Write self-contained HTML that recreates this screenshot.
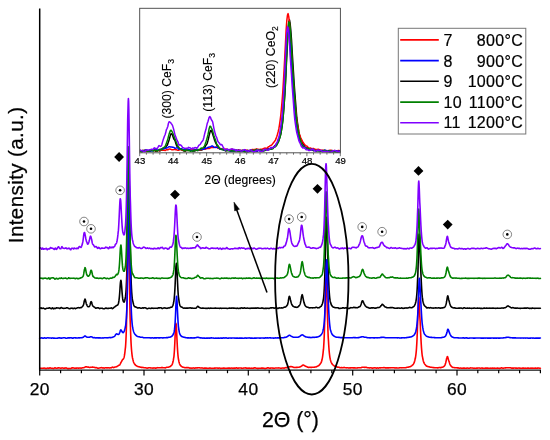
<!DOCTYPE html>
<html lang="en"><head><meta charset="utf-8"><title>XRD patterns</title>
<style>html,body{margin:0;padding:0;background:#fff}svg{display:block}text{font-family:"Liberation Sans",Arial,sans-serif;fill:#000}</style></head><body>
<svg width="550" height="440" viewBox="0 0 550 440">
<rect width="550" height="440" fill="#fff"/>
<g fill="none" stroke-width="1.6" stroke-linejoin="round" stroke-linecap="round">
<path stroke="#000000" d="M39.7 308.6L39.9 308.5L40.1 308.4L40.3 308.2L40.5 308.0L40.7 307.9L41.0 307.8L41.2 307.9L41.4 308.1L41.6 308.2L41.8 308.4L42.0 308.4L42.2 308.4L42.4 308.4L42.6 308.3L42.8 308.2L43.0 308.2L43.2 308.1L43.5 308.1L43.7 308.2L43.9 308.4L44.1 308.5L44.3 308.6L44.5 308.8L44.7 308.9L44.9 308.9L45.1 309.0L45.3 308.9L45.5 308.9L45.8 308.8L46.0 308.6L46.2 308.5L46.4 308.4L46.6 308.4L46.8 308.3L47.0 308.3L47.2 308.3L47.4 308.3L47.6 308.3L47.8 308.3L48.0 308.3L48.3 308.3L48.5 308.3L48.7 308.2L48.9 308.0L49.1 307.8L49.3 307.7L49.5 307.7L49.7 307.8L49.9 308.0L50.1 308.1L50.3 308.2L50.5 308.3L50.8 308.4L51.0 308.6L51.2 308.7L51.4 308.7L51.6 308.7L51.8 308.6L52.0 308.4L52.2 308.1L52.4 307.9L52.6 307.9L52.8 308.0L53.1 308.3L53.3 308.6L53.5 308.8L53.7 308.9L53.9 308.8L54.1 308.6L54.3 308.4L54.5 308.3L54.7 308.3L54.9 308.3L55.1 308.4L55.3 308.4L55.6 308.5L55.8 308.4L56.0 308.2L56.2 308.0L56.4 307.8L56.6 307.7L56.8 307.8L57.0 307.9L57.2 307.9L57.4 308.0L57.6 308.0L57.9 308.0L58.1 308.0L58.3 308.0L58.5 308.0L58.7 308.0L58.9 308.1L59.1 308.2L59.3 308.3L59.5 308.5L59.7 308.5L59.9 308.5L60.1 308.4L60.4 308.1L60.6 307.9L60.8 307.7L61.0 307.6L61.2 307.5L61.4 307.5L61.6 307.6L61.8 307.7L62.0 307.9L62.2 308.1L62.4 308.2L62.7 308.3L62.9 308.3L63.1 308.3L63.3 308.3L63.5 308.4L63.7 308.5L63.9 308.5L64.1 308.4L64.3 308.2L64.5 308.2L64.7 308.2L64.9 308.2L65.2 308.2L65.4 308.2L65.6 308.2L65.8 308.2L66.0 308.1L66.2 308.0L66.4 307.8L66.6 307.7L66.8 307.7L67.0 307.7L67.2 307.8L67.4 307.8L67.7 307.9L67.9 308.0L68.1 308.2L68.3 308.3L68.5 308.5L68.7 308.5L68.9 308.5L69.1 308.5L69.3 308.6L69.5 308.7L69.7 308.7L70.0 308.7L70.2 308.6L70.4 308.5L70.6 308.3L70.8 308.2L71.0 308.2L71.2 308.2L71.4 308.2L71.6 308.2L71.8 308.1L72.0 308.1L72.2 308.2L72.5 308.3L72.7 308.5L72.9 308.6L73.1 308.6L73.3 308.6L73.5 308.5L73.7 308.4L73.9 308.3L74.1 308.2L74.3 308.1L74.5 308.2L74.8 308.3L75.0 308.4L75.2 308.6L75.4 308.7L75.6 308.6L75.8 308.5L76.0 308.4L76.2 308.3L76.4 308.2L76.6 308.2L76.8 308.1L77.0 308.0L77.3 307.9L77.5 307.8L77.7 307.7L77.9 307.7L78.1 307.7L78.3 307.6L78.5 307.6L78.7 307.7L78.9 307.8L79.1 307.8L79.3 307.9L79.6 307.9L79.8 307.8L80.0 307.7L80.2 307.6L80.4 307.6L80.6 307.7L80.8 307.7L81.0 307.7L81.2 307.6L81.4 307.4L81.6 307.2L81.8 307.1L82.1 306.9L82.3 306.7L82.5 306.5L82.7 306.2L82.9 306.0L83.1 305.6L83.3 305.3L83.5 304.8L83.7 304.1L83.9 303.1L84.1 302.0L84.3 300.9L84.6 300.0L84.8 299.3L85.0 299.1L85.2 299.3L85.4 299.9L85.6 300.7L85.8 301.6L86.0 302.4L86.2 303.2L86.4 303.9L86.6 304.5L86.9 305.0L87.1 305.5L87.3 305.9L87.5 306.2L87.7 306.4L87.9 306.6L88.1 306.7L88.3 306.8L88.5 306.8L88.7 306.8L88.9 306.8L89.1 306.6L89.4 306.4L89.6 306.0L89.8 305.5L90.0 304.9L90.2 304.2L90.4 303.4L90.6 302.7L90.8 302.1L91.0 301.8L91.2 301.7L91.4 302.0L91.7 302.5L91.9 303.3L92.1 304.0L92.3 304.7L92.5 305.3L92.7 305.7L92.9 305.9L93.1 306.2L93.3 306.4L93.5 306.5L93.7 306.7L93.9 306.8L94.2 307.0L94.4 307.1L94.6 307.3L94.8 307.4L95.0 307.6L95.2 307.8L95.4 308.0L95.6 308.2L95.8 308.3L96.0 308.3L96.2 308.2L96.5 308.1L96.7 308.0L96.9 307.9L97.1 307.9L97.3 307.9L97.5 307.9L97.7 307.8L97.9 307.8L98.1 307.7L98.3 307.8L98.5 307.9L98.7 308.1L99.0 308.2L99.2 308.3L99.4 308.5L99.6 308.6L99.8 308.6L100.0 308.5L100.2 308.4L100.4 308.3L100.6 308.3L100.8 308.3L101.0 308.3L101.2 308.3L101.5 308.3L101.7 308.2L101.9 308.2L102.1 308.2L102.3 308.2L102.5 308.3L102.7 308.5L102.9 308.6L103.1 308.7L103.3 308.8L103.5 308.8L103.8 308.8L104.0 308.7L104.2 308.7L104.4 308.6L104.6 308.6L104.8 308.6L105.0 308.5L105.2 308.4L105.4 308.2L105.6 308.1L105.8 308.0L106.0 308.0L106.3 308.0L106.5 308.2L106.7 308.3L106.9 308.5L107.1 308.5L107.3 308.5L107.5 308.5L107.7 308.4L107.9 308.4L108.1 308.4L108.3 308.4L108.6 308.4L108.8 308.4L109.0 308.3L109.2 308.2L109.4 308.2L109.6 308.2L109.8 308.2L110.0 308.2L110.2 308.2L110.4 308.2L110.6 308.1L110.8 308.0L111.1 307.9L111.3 307.9L111.5 307.9L111.7 308.0L111.9 308.2L112.1 308.4L112.3 308.6L112.5 308.6L112.7 308.5L112.9 308.4L113.1 308.2L113.3 308.0L113.6 307.8L113.8 307.6L114.0 307.4L114.2 307.2L114.4 307.1L114.6 307.0L114.8 306.9L115.0 306.8L115.2 306.6L115.4 306.4L115.6 306.2L115.9 306.0L116.1 305.9L116.3 305.8L116.5 305.7L116.7 305.5L116.9 305.4L117.1 305.3L117.3 305.2L117.5 305.1L117.7 304.9L117.9 304.7L118.1 304.2L118.4 303.5L118.6 302.6L118.8 301.5L119.0 300.2L119.2 298.6L119.4 296.7L119.6 294.3L119.8 291.5L120.0 288.5L120.2 285.4L120.4 282.8L120.7 281.0L120.9 280.3L121.1 280.9L121.3 282.5L121.5 284.7L121.7 287.3L121.9 290.0L122.1 292.6L122.3 295.0L122.5 297.0L122.7 298.7L122.9 300.0L123.2 300.9L123.4 301.5L123.6 301.9L123.8 302.0L124.0 302.1L124.2 301.9L124.4 301.5L124.6 300.9L124.8 300.2L125.0 299.2L125.2 298.1L125.5 296.7L125.7 294.9L125.9 292.8L126.1 290.0L126.3 286.4L126.5 281.9L126.7 276.1L126.9 268.9L127.1 259.8L127.3 248.9L127.5 236.0L127.7 221.5L128.0 206.1L128.2 191.0L128.4 178.2L128.6 169.6L128.8 166.7L129.0 169.8L129.2 178.1L129.4 190.0L129.6 204.0L129.8 218.5L130.0 232.5L130.2 245.2L130.5 256.3L130.7 265.7L130.9 273.5L131.1 279.7L131.3 284.8L131.5 288.9L131.7 292.2L131.9 294.8L132.1 297.0L132.3 298.7L132.5 300.1L132.8 301.2L133.0 302.2L133.2 303.1L133.4 303.8L133.6 304.5L133.8 305.1L134.0 305.6L134.2 306.0L134.4 306.4L134.6 306.6L134.8 306.8L135.0 306.8L135.3 306.9L135.5 306.9L135.7 307.0L135.9 307.1L136.1 307.2L136.3 307.3L136.5 307.4L136.7 307.4L136.9 307.5L137.1 307.7L137.3 307.8L137.6 308.0L137.8 308.0L138.0 308.0L138.2 308.0L138.4 307.9L138.6 307.9L138.8 307.8L139.0 307.8L139.2 307.8L139.4 307.8L139.6 307.9L139.8 307.9L140.1 308.0L140.3 308.0L140.5 308.1L140.7 308.2L140.9 308.3L141.1 308.3L141.3 308.3L141.5 308.3L141.7 308.2L141.9 308.1L142.1 308.0L142.4 307.9L142.6 307.8L142.8 307.8L143.0 307.9L143.2 308.0L143.4 308.1L143.6 308.1L143.8 308.0L144.0 307.8L144.2 307.7L144.4 307.7L144.6 307.8L144.9 307.8L145.1 307.9L145.3 307.9L145.5 307.9L145.7 308.0L145.9 308.0L146.1 308.1L146.3 308.2L146.5 308.4L146.7 308.5L146.9 308.7L147.1 308.8L147.4 308.8L147.6 308.7L147.8 308.6L148.0 308.5L148.2 308.4L148.4 308.4L148.6 308.3L148.8 308.2L149.0 308.2L149.2 308.2L149.4 308.3L149.7 308.3L149.9 308.4L150.1 308.4L150.3 308.5L150.5 308.5L150.7 308.5L150.9 308.5L151.1 308.4L151.3 308.2L151.5 308.1L151.7 308.0L151.9 308.0L152.2 308.1L152.4 308.2L152.6 308.2L152.8 308.2L153.0 308.3L153.2 308.3L153.4 308.4L153.6 308.4L153.8 308.3L154.0 308.3L154.2 308.3L154.5 308.3L154.7 308.3L154.9 308.3L155.1 308.3L155.3 308.3L155.5 308.3L155.7 308.3L155.9 308.3L156.1 308.2L156.3 308.2L156.5 308.2L156.7 308.2L157.0 308.3L157.2 308.4L157.4 308.4L157.6 308.3L157.8 308.2L158.0 308.0L158.2 307.9L158.4 307.9L158.6 307.9L158.8 307.9L159.0 307.9L159.3 307.9L159.5 307.9L159.7 307.9L159.9 307.9L160.1 307.8L160.3 307.8L160.5 307.7L160.7 307.7L160.9 307.7L161.1 307.8L161.3 308.0L161.5 308.2L161.8 308.4L162.0 308.5L162.2 308.6L162.4 308.5L162.6 308.4L162.8 308.3L163.0 308.2L163.2 308.1L163.4 308.1L163.6 308.0L163.8 308.0L164.0 308.0L164.3 308.0L164.5 307.9L164.7 307.9L164.9 307.9L165.1 308.0L165.3 308.0L165.5 308.1L165.7 308.1L165.9 308.1L166.1 308.2L166.3 308.3L166.6 308.3L166.8 308.4L167.0 308.4L167.2 308.3L167.4 308.2L167.6 308.1L167.8 308.1L168.0 308.0L168.2 307.9L168.4 307.9L168.6 308.0L168.8 308.0L169.1 308.0L169.3 308.0L169.5 307.9L169.7 307.8L169.9 307.7L170.1 307.6L170.3 307.4L170.5 307.3L170.7 307.3L170.9 307.2L171.1 307.2L171.4 307.2L171.6 307.1L171.8 307.1L172.0 306.9L172.2 306.7L172.4 306.4L172.6 306.0L172.8 305.6L173.0 305.1L173.2 304.4L173.4 303.5L173.6 302.4L173.9 301.1L174.1 299.5L174.3 297.6L174.5 295.3L174.7 292.5L174.9 289.2L175.1 285.2L175.3 280.7L175.5 275.8L175.7 271.1L175.9 267.1L176.2 264.4L176.4 263.4L176.6 264.3L176.8 266.7L177.0 270.3L177.2 274.6L177.4 279.2L177.6 283.6L177.8 287.6L178.0 291.1L178.2 294.1L178.4 296.5L178.7 298.5L178.9 300.2L179.1 301.6L179.3 302.8L179.5 303.7L179.7 304.5L179.9 305.2L180.1 305.7L180.3 306.1L180.5 306.4L180.7 306.6L180.9 306.8L181.2 306.9L181.4 307.0L181.6 307.1L181.8 307.1L182.0 307.2L182.2 307.3L182.4 307.4L182.6 307.6L182.8 307.7L183.0 307.9L183.2 308.0L183.5 308.1L183.7 308.2L183.9 308.2L184.1 308.2L184.3 308.1L184.5 308.0L184.7 308.0L184.9 308.0L185.1 308.1L185.3 308.2L185.5 308.2L185.7 308.2L186.0 308.1L186.2 308.1L186.4 308.0L186.6 308.0L186.8 308.1L187.0 308.1L187.2 308.1L187.4 308.1L187.6 308.1L187.8 308.1L188.0 308.1L188.3 308.1L188.5 308.0L188.7 308.0L188.9 308.0L189.1 308.0L189.3 308.0L189.5 308.0L189.7 307.9L189.9 307.9L190.1 307.8L190.3 307.8L190.5 307.9L190.8 308.0L191.0 308.0L191.2 308.1L191.4 308.1L191.6 308.1L191.8 308.1L192.0 308.0L192.2 308.0L192.4 308.0L192.6 308.1L192.8 308.2L193.1 308.2L193.3 308.2L193.5 308.2L193.7 308.2L193.9 308.2L194.1 308.2L194.3 308.2L194.5 308.2L194.7 308.2L194.9 308.2L195.1 308.2L195.3 308.2L195.6 308.2L195.8 308.2L196.0 308.2L196.2 308.0L196.4 307.8L196.6 307.5L196.8 307.3L197.0 307.0L197.2 306.8L197.4 306.5L197.6 306.4L197.8 306.3L198.1 306.4L198.3 306.6L198.5 306.8L198.7 307.1L198.9 307.3L199.1 307.4L199.3 307.4L199.5 307.5L199.7 307.6L199.9 307.7L200.1 307.8L200.4 307.9L200.6 308.0L200.8 308.0L201.0 308.1L201.2 308.2L201.4 308.3L201.6 308.3L201.8 308.2L202.0 308.2L202.2 308.1L202.4 308.1L202.6 308.1L202.9 308.1L203.1 308.1L203.3 308.1L203.5 308.1L203.7 308.2L203.9 308.2L204.1 308.3L204.3 308.3L204.5 308.3L204.7 308.3L204.9 308.3L205.2 308.3L205.4 308.3L205.6 308.4L205.8 308.4L206.0 308.4L206.2 308.4L206.4 308.4L206.6 308.4L206.8 308.3L207.0 308.3L207.2 308.3L207.4 308.3L207.7 308.4L207.9 308.4L208.1 308.3L208.3 308.2L208.5 308.1L208.7 308.1L208.9 308.1L209.1 308.2L209.3 308.3L209.5 308.4L209.7 308.4L210.0 308.3L210.2 308.2L210.4 308.1L210.6 308.1L210.8 308.0L211.0 308.1L211.2 308.1L211.4 308.2L211.6 308.2L211.8 308.3L212.0 308.3L212.2 308.3L212.5 308.3L212.7 308.3L212.9 308.3L213.1 308.3L213.3 308.3L213.5 308.2L213.7 308.2L213.9 308.2L214.1 308.2L214.3 308.2L214.5 308.2L214.7 308.1L215.0 308.1L215.2 308.1L215.4 308.1L215.6 308.1L215.8 308.1L216.0 308.1L216.2 308.2L216.4 308.2L216.6 308.2L216.8 308.3L217.0 308.3L217.3 308.3L217.5 308.3L217.7 308.2L217.9 308.3L218.1 308.3L218.3 308.3L218.5 308.3L218.7 308.3L218.9 308.3L219.1 308.3L219.3 308.4L219.5 308.4L219.8 308.4L220.0 308.3L220.2 308.2L220.4 308.1L220.6 308.1L220.8 308.2L221.0 308.3L221.2 308.4L221.4 308.4L221.6 308.4L221.8 308.3L222.1 308.3L222.3 308.2L222.5 308.2L222.7 308.2L222.9 308.2L223.1 308.2L223.3 308.2L223.5 308.3L223.7 308.3L223.9 308.3L224.1 308.3L224.3 308.3L224.6 308.3L224.8 308.3L225.0 308.3L225.2 308.3L225.4 308.3L225.6 308.2L225.8 308.2L226.0 308.2L226.2 308.2L226.4 308.2L226.6 308.3L226.9 308.4L227.1 308.5L227.3 308.5L227.5 308.5L227.7 308.5L227.9 308.4L228.1 308.3L228.3 308.3L228.5 308.2L228.7 308.2L228.9 308.2L229.1 308.1L229.4 308.1L229.6 308.1L229.8 308.0L230.0 308.0L230.2 308.1L230.4 308.2L230.6 308.2L230.8 308.2L231.0 308.2L231.2 308.1L231.4 308.1L231.6 308.1L231.9 308.1L232.1 308.1L232.3 308.1L232.5 308.0L232.7 308.0L232.9 308.0L233.1 308.1L233.3 308.1L233.5 308.1L233.7 308.1L233.9 308.1L234.2 308.1L234.4 308.1L234.6 308.2L234.8 308.3L235.0 308.3L235.2 308.3L235.4 308.3L235.6 308.3L235.8 308.3L236.0 308.4L236.2 308.5L236.4 308.4L236.7 308.3L236.9 308.2L237.1 308.1L237.3 308.1L237.5 308.2L237.7 308.3L237.9 308.4L238.1 308.5L238.3 308.5L238.5 308.5L238.7 308.4L239.0 308.3L239.2 308.2L239.4 308.2L239.6 308.3L239.8 308.4L240.0 308.5L240.2 308.5L240.4 308.4L240.6 308.3L240.8 308.1L241.0 307.9L241.2 307.9L241.5 307.9L241.7 308.0L241.9 308.0L242.1 308.1L242.3 308.1L242.5 308.1L242.7 308.1L242.9 308.1L243.1 308.1L243.3 308.1L243.5 308.2L243.7 308.2L244.0 308.1L244.2 308.0L244.4 307.9L244.6 307.8L244.8 307.9L245.0 308.0L245.2 308.2L245.4 308.2L245.6 308.3L245.8 308.3L246.0 308.3L246.3 308.3L246.5 308.2L246.7 308.2L246.9 308.1L247.1 308.0L247.3 308.0L247.5 308.0L247.7 308.1L247.9 308.1L248.1 308.2L248.3 308.2L248.5 308.2L248.8 308.2L249.0 308.2L249.2 308.3L249.4 308.3L249.6 308.4L249.8 308.4L250.0 308.4L250.2 308.4L250.4 308.4L250.6 308.3L250.8 308.2L251.1 308.1L251.3 308.1L251.5 308.1L251.7 308.2L251.9 308.2L252.1 308.2L252.3 308.2L252.5 308.1L252.7 308.1L252.9 308.1L253.1 308.1L253.3 308.1L253.6 308.1L253.8 308.2L254.0 308.2L254.2 308.2L254.4 308.1L254.6 308.1L254.8 308.1L255.0 308.1L255.2 308.1L255.4 308.1L255.6 308.2L255.9 308.1L256.1 308.1L256.3 308.1L256.5 308.1L256.7 308.1L256.9 308.1L257.1 308.1L257.3 308.0L257.5 308.0L257.7 307.9L257.9 307.9L258.1 307.9L258.4 308.0L258.6 308.1L258.8 308.2L259.0 308.3L259.2 308.3L259.4 308.3L259.6 308.3L259.8 308.2L260.0 308.2L260.2 308.2L260.4 308.3L260.6 308.3L260.9 308.2L261.1 308.2L261.3 308.1L261.5 308.1L261.7 308.0L261.9 307.9L262.1 307.9L262.3 308.0L262.5 308.1L262.7 308.2L262.9 308.3L263.2 308.3L263.4 308.4L263.6 308.4L263.8 308.4L264.0 308.4L264.2 308.5L264.4 308.5L264.6 308.5L264.8 308.5L265.0 308.4L265.2 308.3L265.4 308.3L265.7 308.4L265.9 308.4L266.1 308.4L266.3 308.4L266.5 308.4L266.7 308.4L266.9 308.4L267.1 308.4L267.3 308.3L267.5 308.3L267.7 308.3L268.0 308.3L268.2 308.3L268.4 308.4L268.6 308.4L268.8 308.5L269.0 308.5L269.2 308.4L269.4 308.4L269.6 308.3L269.8 308.2L270.0 308.1L270.2 308.0L270.5 307.9L270.7 307.8L270.9 307.8L271.1 307.8L271.3 307.9L271.5 308.0L271.7 308.0L271.9 307.9L272.1 307.8L272.3 307.7L272.5 307.7L272.8 307.7L273.0 307.7L273.2 307.8L273.4 307.9L273.6 308.0L273.8 308.1L274.0 308.1L274.2 308.2L274.4 308.2L274.6 308.1L274.8 308.0L275.0 307.9L275.3 307.8L275.5 307.8L275.7 307.8L275.9 307.9L276.1 307.9L276.3 307.9L276.5 307.8L276.7 307.8L276.9 307.9L277.1 308.1L277.3 308.2L277.5 308.4L277.8 308.5L278.0 308.5L278.2 308.4L278.4 308.3L278.6 308.1L278.8 308.0L279.0 307.9L279.2 307.9L279.4 307.9L279.6 307.9L279.8 308.0L280.1 308.0L280.3 308.0L280.5 308.0L280.7 308.0L280.9 308.0L281.1 307.9L281.3 307.9L281.5 307.9L281.7 307.9L281.9 307.9L282.1 308.0L282.3 308.0L282.6 308.0L282.8 307.9L283.0 307.8L283.2 307.7L283.4 307.6L283.6 307.5L283.8 307.4L284.0 307.3L284.2 307.2L284.4 307.1L284.6 307.1L284.9 307.1L285.1 307.1L285.3 307.0L285.5 307.0L285.7 306.9L285.9 306.7L286.1 306.5L286.3 306.3L286.5 306.1L286.7 305.9L286.9 305.6L287.1 305.3L287.4 304.9L287.6 304.4L287.8 303.8L288.0 302.9L288.2 301.9L288.4 300.7L288.6 299.4L288.8 298.2L289.0 297.1L289.2 296.5L289.4 296.3L289.7 296.7L289.9 297.4L290.1 298.2L290.3 299.1L290.5 300.0L290.7 300.8L290.9 301.6L291.1 302.4L291.3 303.1L291.5 303.7L291.7 304.2L291.9 304.7L292.2 305.1L292.4 305.4L292.6 305.7L292.8 306.0L293.0 306.2L293.2 306.3L293.4 306.4L293.6 306.5L293.8 306.6L294.0 306.8L294.2 306.9L294.4 307.0L294.7 307.0L294.9 307.1L295.1 307.0L295.3 307.0L295.5 307.1L295.7 307.1L295.9 307.1L296.1 307.2L296.3 307.3L296.5 307.3L296.7 307.4L297.0 307.4L297.2 307.3L297.4 307.2L297.6 307.1L297.8 307.0L298.0 306.8L298.2 306.7L298.4 306.6L298.6 306.4L298.8 306.1L299.0 305.9L299.2 305.6L299.5 305.2L299.7 304.9L299.9 304.5L300.1 304.0L300.3 303.4L300.5 302.6L300.7 301.7L300.9 300.7L301.1 299.4L301.3 298.1L301.5 296.8L301.8 295.6L302.0 294.9L302.2 294.7L302.4 295.1L302.6 295.9L302.8 296.9L303.0 297.9L303.2 298.9L303.4 299.9L303.6 300.8L303.8 301.7L304.0 302.6L304.3 303.4L304.5 304.1L304.7 304.7L304.9 305.1L305.1 305.5L305.3 305.7L305.5 306.0L305.7 306.2L305.9 306.4L306.1 306.6L306.3 306.8L306.6 306.9L306.8 307.0L307.0 307.1L307.2 307.1L307.4 307.2L307.6 307.2L307.8 307.3L308.0 307.3L308.2 307.4L308.4 307.5L308.6 307.6L308.8 307.7L309.1 307.7L309.3 307.8L309.5 307.9L309.7 307.9L309.9 307.9L310.1 307.9L310.3 307.8L310.5 307.8L310.7 307.8L310.9 307.8L311.1 307.8L311.3 307.8L311.6 307.7L311.8 307.7L312.0 307.8L312.2 307.8L312.4 307.9L312.6 307.9L312.8 307.9L313.0 307.8L313.2 307.8L313.4 307.8L313.6 307.8L313.9 307.8L314.1 307.8L314.3 307.7L314.5 307.7L314.7 307.7L314.9 307.7L315.1 307.7L315.3 307.6L315.5 307.5L315.7 307.4L315.9 307.4L316.1 307.3L316.4 307.3L316.6 307.3L316.8 307.4L317.0 307.5L317.2 307.6L317.4 307.7L317.6 307.8L317.8 307.9L318.0 307.9L318.2 307.8L318.4 307.8L318.7 307.8L318.9 307.7L319.1 307.6L319.3 307.6L319.5 307.4L319.7 307.3L319.9 307.2L320.1 307.0L320.3 306.8L320.5 306.6L320.7 306.5L320.9 306.3L321.2 306.2L321.4 305.9L321.6 305.6L321.8 305.1L322.0 304.7L322.2 304.2L322.4 303.7L322.6 303.0L322.8 302.3L323.0 301.3L323.2 300.1L323.5 298.6L323.7 296.8L323.9 294.5L324.1 291.8L324.3 288.4L324.5 284.2L324.7 279.0L324.9 272.7L325.1 265.2L325.3 256.5L325.5 246.9L325.7 237.0L326.0 227.9L326.2 220.9L326.4 217.3L326.6 217.5L326.8 221.2L327.0 227.2L327.2 234.5L327.4 242.1L327.6 249.7L327.8 257.0L328.0 264.0L328.2 270.6L328.5 276.6L328.7 281.8L328.9 286.3L329.1 290.0L329.3 293.1L329.5 295.6L329.7 297.5L329.9 299.1L330.1 300.4L330.3 301.5L330.5 302.4L330.8 303.2L331.0 303.9L331.2 304.4L331.4 304.9L331.6 305.3L331.8 305.6L332.0 305.9L332.2 306.1L332.4 306.4L332.6 306.6L332.8 306.8L333.0 307.0L333.3 307.1L333.5 307.2L333.7 307.2L333.9 307.3L334.1 307.4L334.3 307.4L334.5 307.5L334.7 307.5L334.9 307.6L335.1 307.6L335.3 307.7L335.6 307.7L335.8 307.7L336.0 307.7L336.2 307.7L336.4 307.7L336.6 307.7L336.8 307.7L337.0 307.8L337.2 307.8L337.4 307.8L337.6 307.7L337.8 307.8L338.1 307.8L338.3 307.9L338.5 308.1L338.7 308.2L338.9 308.4L339.1 308.4L339.3 308.5L339.5 308.5L339.7 308.4L339.9 308.4L340.1 308.4L340.4 308.4L340.6 308.3L340.8 308.3L341.0 308.3L341.2 308.3L341.4 308.3L341.6 308.2L341.8 308.2L342.0 308.1L342.2 308.0L342.4 307.9L342.6 307.9L342.9 307.8L343.1 307.8L343.3 307.8L343.5 307.9L343.7 307.9L343.9 308.0L344.1 308.0L344.3 308.1L344.5 308.1L344.7 308.1L344.9 308.0L345.1 308.0L345.4 307.9L345.6 307.9L345.8 307.9L346.0 307.9L346.2 307.9L346.4 307.9L346.6 307.9L346.8 307.9L347.0 308.1L347.2 308.2L347.4 308.4L347.7 308.5L347.9 308.5L348.1 308.5L348.3 308.5L348.5 308.4L348.7 308.4L348.9 308.4L349.1 308.4L349.3 308.4L349.5 308.4L349.7 308.3L349.9 308.1L350.2 308.0L350.4 307.8L350.6 307.7L350.8 307.6L351.0 307.6L351.2 307.7L351.4 307.7L351.6 307.8L351.8 307.8L352.0 307.8L352.2 307.8L352.5 307.8L352.7 307.8L352.9 307.8L353.1 307.7L353.3 307.5L353.5 307.4L353.7 307.3L353.9 307.3L354.1 307.3L354.3 307.4L354.5 307.5L354.7 307.6L355.0 307.6L355.2 307.6L355.4 307.6L355.6 307.6L355.8 307.6L356.0 307.6L356.2 307.6L356.4 307.7L356.6 307.7L356.8 307.7L357.0 307.7L357.3 307.7L357.5 307.7L357.7 307.6L357.9 307.5L358.1 307.4L358.3 307.3L358.5 307.2L358.7 307.1L358.9 306.9L359.1 306.8L359.3 306.7L359.5 306.6L359.8 306.6L360.0 306.4L360.2 306.2L360.4 305.9L360.6 305.5L360.8 305.1L361.0 304.5L361.2 303.9L361.4 303.2L361.6 302.5L361.8 301.9L362.0 301.3L362.3 300.9L362.5 300.7L362.7 300.8L362.9 301.1L363.1 301.5L363.3 301.9L363.5 302.4L363.7 302.8L363.9 303.3L364.1 303.7L364.3 304.2L364.6 304.6L364.8 305.0L365.0 305.4L365.2 305.7L365.4 305.9L365.6 306.1L365.8 306.3L366.0 306.5L366.2 306.7L366.4 306.9L366.6 307.0L366.8 307.2L367.1 307.3L367.3 307.4L367.5 307.4L367.7 307.4L367.9 307.4L368.1 307.5L368.3 307.6L368.5 307.8L368.7 307.9L368.9 308.0L369.1 308.0L369.4 308.1L369.6 308.1L369.8 308.1L370.0 308.2L370.2 308.2L370.4 308.1L370.6 308.1L370.8 308.0L371.0 307.9L371.2 307.9L371.4 307.9L371.6 307.9L371.9 307.9L372.1 307.9L372.3 307.9L372.5 307.9L372.7 307.9L372.9 307.9L373.1 307.8L373.3 307.8L373.5 307.8L373.7 307.9L373.9 308.0L374.1 308.0L374.4 308.1L374.6 308.1L374.8 308.1L375.0 308.1L375.2 308.1L375.4 308.1L375.6 308.1L375.8 308.1L376.0 308.1L376.2 308.0L376.4 308.0L376.7 307.9L376.9 307.8L377.1 307.7L377.3 307.6L377.5 307.6L377.7 307.5L377.9 307.5L378.1 307.5L378.3 307.5L378.5 307.5L378.7 307.6L378.9 307.5L379.2 307.5L379.4 307.4L379.6 307.2L379.8 307.1L380.0 306.9L380.2 306.7L380.4 306.5L380.6 306.3L380.8 306.1L381.0 305.8L381.2 305.5L381.5 305.2L381.7 304.9L381.9 304.6L382.1 304.4L382.3 304.3L382.5 304.4L382.7 304.5L382.9 304.7L383.1 304.9L383.3 305.1L383.5 305.3L383.7 305.6L384.0 305.8L384.2 306.1L384.4 306.3L384.6 306.5L384.8 306.7L385.0 306.9L385.2 307.0L385.4 307.0L385.6 307.1L385.8 307.1L386.0 307.2L386.3 307.3L386.5 307.4L386.7 307.6L386.9 307.7L387.1 307.7L387.3 307.8L387.5 307.8L387.7 307.8L387.9 307.8L388.1 307.8L388.3 307.8L388.5 307.7L388.8 307.7L389.0 307.8L389.2 307.7L389.4 307.7L389.6 307.7L389.8 307.6L390.0 307.6L390.2 307.5L390.4 307.6L390.6 307.6L390.8 307.6L391.0 307.6L391.3 307.6L391.5 307.6L391.7 307.6L391.9 307.5L392.1 307.5L392.3 307.5L392.5 307.6L392.7 307.6L392.9 307.7L393.1 307.8L393.3 307.8L393.6 307.9L393.8 307.9L394.0 308.0L394.2 308.0L394.4 308.1L394.6 308.1L394.8 308.2L395.0 308.2L395.2 308.2L395.4 308.3L395.6 308.3L395.8 308.3L396.1 308.3L396.3 308.2L396.5 308.2L396.7 308.1L396.9 308.1L397.1 308.1L397.3 308.1L397.5 308.1L397.7 308.1L397.9 308.1L398.1 308.1L398.4 308.0L398.6 308.0L398.8 308.0L399.0 308.0L399.2 308.0L399.4 308.1L399.6 308.2L399.8 308.2L400.0 308.2L400.2 308.2L400.4 308.2L400.6 308.2L400.9 308.2L401.1 308.1L401.3 308.0L401.5 307.9L401.7 307.9L401.9 307.9L402.1 308.0L402.3 308.1L402.5 308.2L402.7 308.3L402.9 308.4L403.2 308.4L403.4 308.4L403.6 308.3L403.8 308.3L404.0 308.2L404.2 308.1L404.4 308.1L404.6 308.1L404.8 308.1L405.0 308.1L405.2 308.0L405.4 308.0L405.7 308.0L405.9 307.9L406.1 307.9L406.3 307.9L406.5 308.0L406.7 308.0L406.9 308.1L407.1 308.1L407.3 308.0L407.5 308.0L407.7 308.0L407.9 307.9L408.2 307.9L408.4 307.8L408.6 307.8L408.8 307.7L409.0 307.6L409.2 307.5L409.4 307.4L409.6 307.4L409.8 307.4L410.0 307.4L410.2 307.5L410.5 307.6L410.7 307.6L410.9 307.7L411.1 307.7L411.3 307.8L411.5 307.8L411.7 307.7L411.9 307.7L412.1 307.6L412.3 307.4L412.5 307.3L412.7 307.2L413.0 307.1L413.2 306.9L413.4 306.8L413.6 306.6L413.8 306.5L414.0 306.3L414.2 306.0L414.4 305.7L414.6 305.3L414.8 304.9L415.0 304.4L415.3 303.8L415.5 303.1L415.7 302.3L415.9 301.4L416.1 300.3L416.3 299.1L416.5 297.5L416.7 295.6L416.9 293.2L417.1 290.2L417.3 286.5L417.5 281.9L417.8 276.3L418.0 269.6L418.2 262.0L418.4 253.9L418.6 246.0L418.8 239.4L419.0 235.1L419.2 234.0L419.4 236.0L419.6 240.4L419.8 246.1L420.1 252.1L420.3 257.8L420.5 263.0L420.7 268.0L420.9 272.8L421.1 277.4L421.3 281.8L421.5 285.8L421.7 289.3L421.9 292.4L422.1 295.1L422.3 297.2L422.6 299.0L422.8 300.4L423.0 301.5L423.2 302.4L423.4 303.2L423.6 303.8L423.8 304.4L424.0 304.8L424.2 305.2L424.4 305.5L424.6 305.8L424.8 306.0L425.1 306.2L425.3 306.4L425.5 306.5L425.7 306.7L425.9 306.9L426.1 307.1L426.3 307.4L426.5 307.7L426.7 307.9L426.9 308.0L427.1 308.0L427.4 307.9L427.6 307.8L427.8 307.7L428.0 307.6L428.2 307.6L428.4 307.7L428.6 307.7L428.8 307.8L429.0 307.9L429.2 307.9L429.4 308.0L429.6 308.0L429.9 307.9L430.1 307.8L430.3 307.7L430.5 307.6L430.7 307.6L430.9 307.7L431.1 307.8L431.3 307.9L431.5 308.0L431.7 308.0L431.9 308.0L432.2 308.0L432.4 308.0L432.6 308.0L432.8 308.1L433.0 308.1L433.2 308.1L433.4 308.1L433.6 308.1L433.8 308.0L434.0 308.0L434.2 308.0L434.4 308.0L434.7 308.0L434.9 308.0L435.1 307.9L435.3 307.9L435.5 307.9L435.7 307.9L435.9 307.9L436.1 307.9L436.3 307.9L436.5 308.0L436.7 308.0L437.0 308.0L437.2 308.0L437.4 308.0L437.6 308.0L437.8 308.0L438.0 308.0L438.2 307.9L438.4 307.8L438.6 307.8L438.8 307.8L439.0 307.8L439.2 307.9L439.5 308.0L439.7 308.0L439.9 308.1L440.1 308.1L440.3 308.1L440.5 308.1L440.7 308.1L440.9 308.1L441.1 308.1L441.3 308.0L441.5 308.0L441.7 307.9L442.0 307.9L442.2 307.9L442.4 307.9L442.6 307.9L442.8 307.9L443.0 307.8L443.2 307.7L443.4 307.6L443.6 307.6L443.8 307.6L444.0 307.6L444.3 307.5L444.5 307.4L444.7 307.2L444.9 306.9L445.1 306.6L445.3 306.2L445.5 305.8L445.7 305.3L445.9 304.7L446.1 303.9L446.3 303.0L446.5 301.8L446.8 300.6L447.0 299.2L447.2 297.9L447.4 296.8L447.6 296.1L447.8 295.9L448.0 296.3L448.2 297.1L448.4 298.1L448.6 299.1L448.8 300.0L449.1 300.9L449.3 301.7L449.5 302.5L449.7 303.2L449.9 303.9L450.1 304.5L450.3 305.1L450.5 305.6L450.7 306.0L450.9 306.4L451.1 306.6L451.3 306.8L451.6 307.0L451.8 307.2L452.0 307.3L452.2 307.5L452.4 307.5L452.6 307.6L452.8 307.7L453.0 307.7L453.2 307.8L453.4 307.9L453.6 307.9L453.9 308.0L454.1 308.0L454.3 307.9L454.5 307.9L454.7 307.9L454.9 307.9L455.1 307.9L455.3 308.0L455.5 308.1L455.7 308.2L455.9 308.2L456.1 308.2L456.4 308.2L456.6 308.2L456.8 308.2L457.0 308.2L457.2 308.3L457.4 308.3L457.6 308.2L457.8 308.2L458.0 308.2L458.2 308.2L458.4 308.1L458.6 308.1L458.9 308.1L459.1 308.1L459.3 308.1L459.5 308.1L459.7 308.1L459.9 308.1L460.1 308.1L460.3 308.1L460.5 308.0L460.7 308.0L460.9 308.0L461.2 308.0L461.4 308.1L461.6 308.1L461.8 308.2L462.0 308.3L462.2 308.4L462.4 308.5L462.6 308.5L462.8 308.5L463.0 308.4L463.2 308.2L463.4 308.1L463.7 307.9L463.9 307.8L464.1 307.8L464.3 307.8L464.5 307.9L464.7 307.9L464.9 308.0L465.1 308.1L465.3 308.1L465.5 308.2L465.7 308.2L466.0 308.3L466.2 308.3L466.4 308.3L466.6 308.2L466.8 308.2L467.0 308.1L467.2 308.1L467.4 308.1L467.6 308.1L467.8 308.1L468.0 308.2L468.2 308.2L468.5 308.2L468.7 308.2L468.9 308.1L469.1 308.1L469.3 308.1L469.5 308.1L469.7 308.1L469.9 308.2L470.1 308.2L470.3 308.2L470.5 308.2L470.8 308.2L471.0 308.3L471.2 308.4L471.4 308.4L471.6 308.4L471.8 308.4L472.0 308.4L472.2 308.3L472.4 308.3L472.6 308.3L472.8 308.3L473.0 308.3L473.3 308.2L473.5 308.1L473.7 308.1L473.9 308.0L474.1 308.0L474.3 308.0L474.5 308.0L474.7 308.1L474.9 308.2L475.1 308.2L475.3 308.2L475.5 308.2L475.8 308.2L476.0 308.2L476.2 308.2L476.4 308.2L476.6 308.2L476.8 308.2L477.0 308.2L477.2 308.1L477.4 308.1L477.6 308.1L477.8 308.1L478.1 308.2L478.3 308.3L478.5 308.3L478.7 308.2L478.9 308.2L479.1 308.2L479.3 308.1L479.5 308.2L479.7 308.2L479.9 308.3L480.1 308.4L480.3 308.4L480.6 308.4L480.8 308.4L481.0 308.4L481.2 308.3L481.4 308.3L481.6 308.4L481.8 308.4L482.0 308.5L482.2 308.5L482.4 308.5L482.6 308.5L482.9 308.4L483.1 308.4L483.3 308.3L483.5 308.2L483.7 308.1L483.9 308.1L484.1 308.1L484.3 308.1L484.5 308.1L484.7 308.1L484.9 308.1L485.1 308.2L485.4 308.2L485.6 308.2L485.8 308.2L486.0 308.2L486.2 308.1L486.4 308.1L486.6 308.1L486.8 308.0L487.0 308.1L487.2 308.1L487.4 308.2L487.7 308.2L487.9 308.3L488.1 308.3L488.3 308.3L488.5 308.2L488.7 308.2L488.9 308.1L489.1 308.1L489.3 308.1L489.5 308.1L489.7 308.2L489.9 308.2L490.2 308.2L490.4 308.2L490.6 308.2L490.8 308.1L491.0 308.1L491.2 308.1L491.4 308.2L491.6 308.2L491.8 308.2L492.0 308.2L492.2 308.2L492.4 308.2L492.7 308.1L492.9 308.1L493.1 308.1L493.3 308.1L493.5 308.1L493.7 308.2L493.9 308.3L494.1 308.3L494.3 308.3L494.5 308.3L494.7 308.2L495.0 308.2L495.2 308.3L495.4 308.3L495.6 308.4L495.8 308.4L496.0 308.4L496.2 308.3L496.4 308.3L496.6 308.3L496.8 308.2L497.0 308.2L497.2 308.1L497.5 308.1L497.7 308.2L497.9 308.2L498.1 308.2L498.3 308.2L498.5 308.2L498.7 308.2L498.9 308.2L499.1 308.2L499.3 308.3L499.5 308.3L499.8 308.2L500.0 308.2L500.2 308.2L500.4 308.2L500.6 308.2L500.8 308.2L501.0 308.1L501.2 308.1L501.4 308.0L501.6 308.0L501.8 308.0L502.0 308.0L502.3 308.0L502.5 308.0L502.7 308.0L502.9 308.1L503.1 308.1L503.3 308.1L503.5 308.1L503.7 308.0L503.9 308.0L504.1 307.9L504.3 307.8L504.5 307.8L504.8 307.8L505.0 307.7L505.2 307.7L505.4 307.6L505.6 307.5L505.8 307.4L506.0 307.2L506.2 307.1L506.4 306.9L506.6 306.7L506.8 306.5L507.1 306.3L507.3 306.2L507.5 306.1L507.7 306.0L507.9 305.9L508.1 305.9L508.3 306.0L508.5 306.1L508.7 306.2L508.9 306.4L509.1 306.5L509.3 306.7L509.6 306.8L509.8 306.9L510.0 307.0L510.2 307.1L510.4 307.2L510.6 307.4L510.8 307.5L511.0 307.7L511.2 307.8L511.4 307.9L511.6 307.9L511.9 307.9L512.1 307.8L512.3 307.7L512.5 307.6L512.7 307.6L512.9 307.6L513.1 307.6L513.3 307.7L513.5 307.8L513.7 307.9L513.9 308.0L514.1 308.0L514.4 308.0L514.6 308.1L514.8 308.1L515.0 308.1L515.2 308.1L515.4 308.1L515.6 308.1L515.8 308.1L516.0 308.2L516.2 308.2L516.4 308.1L516.7 308.1L516.9 308.1L517.1 308.0L517.3 308.0L517.5 308.0L517.7 308.1L517.9 308.2L518.1 308.2L518.3 308.3L518.5 308.3L518.7 308.3L518.9 308.3L519.2 308.3L519.4 308.3L519.6 308.3L519.8 308.4L520.0 308.4L520.2 308.4L520.4 308.4L520.6 308.4L520.8 308.4L521.0 308.3L521.2 308.3L521.4 308.2L521.7 308.2L521.9 308.2L522.1 308.3L522.3 308.3L522.5 308.3L522.7 308.3L522.9 308.3L523.1 308.3L523.3 308.2L523.5 308.2L523.7 308.2L524.0 308.1L524.2 308.1L524.4 308.1L524.6 308.0L524.8 308.0L525.0 308.1L525.2 308.1L525.4 308.1L525.6 308.1L525.8 308.1L526.0 308.1L526.2 308.1L526.5 308.1L526.7 308.1L526.9 308.1L527.1 308.0L527.3 308.0L527.5 308.0L527.7 307.9L527.9 308.0L528.1 308.0L528.3 308.1L528.5 308.2L528.8 308.3L529.0 308.3L529.2 308.4L529.4 308.4L529.6 308.4L529.8 308.4L530.0 308.4L530.2 308.3L530.4 308.3L530.6 308.3L530.8 308.4L531.0 308.4L531.3 308.4L531.5 308.4L531.7 308.4L531.9 308.3L532.1 308.1L532.3 308.1L532.5 308.1L532.7 308.1L532.9 308.1L533.1 308.2L533.3 308.2L533.6 308.2L533.8 308.2L534.0 308.3L534.2 308.3L534.4 308.4L534.6 308.4L534.8 308.4L535.0 308.4L535.2 308.4L535.4 308.3L535.6 308.3L535.8 308.2L536.1 308.2L536.3 308.2L536.5 308.2L536.7 308.2L536.9 308.2L537.1 308.2L537.3 308.2L537.5 308.2L537.7 308.2L537.9 308.3L538.1 308.3L538.3 308.3L538.6 308.3L538.8 308.3L539.0 308.4L539.2 308.3L539.4 308.3L539.6 308.2L539.8 308.2L540.0 308.2L540.2 308.2L540.4 308.2"/>
<path stroke="#ff0000" d="M39.7 368.0L39.9 368.1L40.1 368.1L40.3 368.2L40.5 368.3L40.7 368.3L41.0 368.3L41.2 368.3L41.4 368.2L41.6 368.2L41.8 368.2L42.0 368.2L42.2 368.3L42.4 368.3L42.6 368.3L42.8 368.3L43.0 368.3L43.2 368.2L43.5 368.2L43.7 368.1L43.9 368.0L44.1 368.0L44.3 368.0L44.5 368.1L44.7 368.3L44.9 368.4L45.1 368.5L45.3 368.5L45.5 368.4L45.8 368.4L46.0 368.4L46.2 368.4L46.4 368.5L46.6 368.5L46.8 368.5L47.0 368.4L47.2 368.2L47.4 368.1L47.6 368.0L47.8 368.0L48.0 368.0L48.3 368.2L48.5 368.3L48.7 368.4L48.9 368.4L49.1 368.3L49.3 368.2L49.5 368.0L49.7 367.9L49.9 367.9L50.1 367.9L50.3 367.9L50.5 368.0L50.8 368.1L51.0 368.2L51.2 368.3L51.4 368.3L51.6 368.2L51.8 368.2L52.0 368.2L52.2 368.3L52.4 368.3L52.6 368.3L52.8 368.3L53.1 368.4L53.3 368.5L53.5 368.5L53.7 368.5L53.9 368.4L54.1 368.3L54.3 368.1L54.5 368.0L54.7 367.9L54.9 367.8L55.1 367.8L55.3 367.9L55.6 368.0L55.8 368.1L56.0 368.2L56.2 368.2L56.4 368.2L56.6 368.2L56.8 368.2L57.0 368.2L57.2 368.2L57.4 368.1L57.6 368.0L57.9 367.9L58.1 367.8L58.3 367.8L58.5 367.9L58.7 367.9L58.9 368.0L59.1 368.0L59.3 368.0L59.5 368.0L59.7 367.9L59.9 368.0L60.1 368.1L60.4 368.2L60.6 368.2L60.8 368.3L61.0 368.2L61.2 368.2L61.4 368.1L61.6 368.0L61.8 368.0L62.0 367.9L62.2 367.9L62.4 368.0L62.7 368.0L62.9 368.0L63.1 368.1L63.3 368.1L63.5 368.2L63.7 368.2L63.9 368.2L64.1 368.2L64.3 368.1L64.5 368.1L64.7 368.1L64.9 368.1L65.2 368.1L65.4 368.0L65.6 368.0L65.8 367.9L66.0 367.9L66.2 367.9L66.4 368.0L66.6 368.1L66.8 368.2L67.0 368.3L67.2 368.4L67.4 368.5L67.7 368.6L67.9 368.6L68.1 368.6L68.3 368.6L68.5 368.6L68.7 368.5L68.9 368.4L69.1 368.4L69.3 368.5L69.5 368.5L69.7 368.5L70.0 368.5L70.2 368.5L70.4 368.5L70.6 368.5L70.8 368.5L71.0 368.4L71.2 368.3L71.4 368.2L71.6 368.0L71.8 367.9L72.0 367.9L72.2 367.9L72.5 367.9L72.7 367.9L72.9 367.9L73.1 367.9L73.3 367.9L73.5 368.0L73.7 368.0L73.9 368.0L74.1 368.1L74.3 368.1L74.5 368.2L74.8 368.3L75.0 368.3L75.2 368.3L75.4 368.2L75.6 368.1L75.8 368.1L76.0 368.1L76.2 368.0L76.4 368.0L76.6 368.1L76.8 368.1L77.0 368.0L77.3 368.0L77.5 368.0L77.7 368.0L77.9 368.1L78.1 368.1L78.3 368.2L78.5 368.2L78.7 368.1L78.9 368.0L79.1 368.0L79.3 368.0L79.6 368.0L79.8 368.1L80.0 368.1L80.2 368.1L80.4 368.1L80.6 368.0L80.8 368.0L81.0 368.0L81.2 368.0L81.4 368.1L81.6 368.1L81.8 368.1L82.1 368.0L82.3 367.9L82.5 367.8L82.7 367.8L82.9 367.7L83.1 367.8L83.3 367.8L83.5 367.7L83.7 367.7L83.9 367.6L84.1 367.5L84.3 367.5L84.6 367.4L84.8 367.3L85.0 367.2L85.2 367.0L85.4 366.9L85.6 366.8L85.8 366.7L86.0 366.8L86.2 366.8L86.4 366.9L86.6 366.9L86.9 366.9L87.1 367.0L87.3 367.0L87.5 367.0L87.7 367.1L87.9 367.1L88.1 367.1L88.3 367.1L88.5 367.1L88.7 367.1L88.9 367.2L89.1 367.3L89.4 367.4L89.6 367.5L89.8 367.5L90.0 367.4L90.2 367.4L90.4 367.3L90.6 367.3L90.8 367.3L91.0 367.3L91.2 367.3L91.4 367.3L91.7 367.2L91.9 367.2L92.1 367.1L92.3 367.1L92.5 367.0L92.7 367.0L92.9 367.1L93.1 367.2L93.3 367.2L93.5 367.2L93.7 367.2L93.9 367.3L94.2 367.3L94.4 367.4L94.6 367.5L94.8 367.5L95.0 367.6L95.2 367.6L95.4 367.7L95.6 367.7L95.8 367.6L96.0 367.6L96.2 367.6L96.5 367.7L96.7 367.7L96.9 367.8L97.1 367.9L97.3 368.0L97.5 368.1L97.7 368.2L97.9 368.3L98.1 368.3L98.3 368.3L98.5 368.3L98.7 368.2L99.0 368.1L99.2 368.0L99.4 368.0L99.6 368.0L99.8 368.0L100.0 367.9L100.2 367.9L100.4 367.8L100.6 367.8L100.8 367.8L101.0 367.7L101.2 367.7L101.5 367.6L101.7 367.7L101.9 367.7L102.1 367.8L102.3 367.9L102.5 368.0L102.7 368.0L102.9 367.9L103.1 367.9L103.3 367.9L103.5 367.9L103.8 368.0L104.0 368.1L104.2 368.1L104.4 368.1L104.6 368.0L104.8 368.0L105.0 367.9L105.2 367.8L105.4 367.8L105.6 367.8L105.8 367.8L106.0 367.8L106.3 367.8L106.5 367.9L106.7 367.9L106.9 367.9L107.1 368.0L107.3 367.9L107.5 367.9L107.7 367.8L107.9 367.8L108.1 367.8L108.3 367.8L108.6 367.8L108.8 367.9L109.0 367.9L109.2 368.0L109.4 368.0L109.6 368.0L109.8 367.9L110.0 367.9L110.2 367.8L110.4 367.8L110.6 367.8L110.8 367.8L111.1 367.9L111.3 367.8L111.5 367.8L111.7 367.6L111.9 367.4L112.1 367.3L112.3 367.2L112.5 367.1L112.7 367.1L112.9 367.2L113.1 367.3L113.3 367.5L113.6 367.6L113.8 367.6L114.0 367.5L114.2 367.4L114.4 367.3L114.6 367.2L114.8 367.1L115.0 367.0L115.2 367.0L115.4 367.0L115.6 367.0L115.9 366.9L116.1 366.9L116.3 366.8L116.5 366.8L116.7 366.7L116.9 366.6L117.1 366.4L117.3 366.3L117.5 366.1L117.7 366.0L117.9 365.9L118.1 365.8L118.4 365.6L118.6 365.4L118.8 365.3L119.0 365.2L119.2 365.1L119.4 365.1L119.6 365.0L119.8 364.7L120.0 364.4L120.2 364.0L120.4 363.5L120.7 363.1L120.9 362.6L121.1 362.2L121.3 361.9L121.5 361.5L121.7 361.2L121.9 360.8L122.1 360.4L122.3 360.1L122.5 359.8L122.7 359.5L122.9 359.3L123.2 359.1L123.4 358.9L123.6 358.5L123.8 358.1L124.0 357.5L124.2 356.7L124.4 355.7L124.6 354.5L124.8 353.1L125.0 351.5L125.2 349.5L125.5 347.1L125.7 344.2L125.9 340.6L126.1 336.2L126.3 330.7L126.5 324.0L126.7 315.6L126.9 305.3L127.1 292.8L127.3 277.9L127.5 261.2L127.7 243.9L128.0 228.5L128.2 218.0L128.4 214.7L128.6 219.0L128.8 229.2L129.0 243.2L129.2 258.7L129.4 274.2L129.6 288.7L129.8 301.4L130.0 312.3L130.2 321.3L130.5 328.7L130.7 334.7L130.9 339.6L131.1 343.6L131.3 346.8L131.5 349.5L131.7 351.7L131.9 353.6L132.1 355.3L132.3 356.6L132.5 357.9L132.8 358.9L133.0 359.9L133.2 360.7L133.4 361.5L133.6 362.1L133.8 362.6L134.0 363.0L134.2 363.4L134.4 363.7L134.6 364.0L134.8 364.3L135.0 364.6L135.3 364.9L135.5 365.1L135.7 365.3L135.9 365.5L136.1 365.6L136.3 365.7L136.5 365.8L136.7 365.9L136.9 366.0L137.1 366.2L137.3 366.3L137.6 366.4L137.8 366.5L138.0 366.5L138.2 366.6L138.4 366.7L138.6 366.7L138.8 366.8L139.0 366.8L139.2 366.9L139.4 366.9L139.6 366.9L139.8 367.0L140.1 367.0L140.3 367.1L140.5 367.2L140.7 367.3L140.9 367.3L141.1 367.4L141.3 367.4L141.5 367.4L141.7 367.4L141.9 367.4L142.1 367.4L142.4 367.4L142.6 367.5L142.8 367.5L143.0 367.5L143.2 367.5L143.4 367.5L143.6 367.6L143.8 367.6L144.0 367.7L144.2 367.7L144.4 367.7L144.6 367.8L144.9 367.8L145.1 367.8L145.3 367.7L145.5 367.7L145.7 367.8L145.9 367.9L146.1 368.0L146.3 368.0L146.5 368.1L146.7 368.0L146.9 368.0L147.1 368.0L147.4 368.1L147.6 368.1L147.8 368.1L148.0 368.0L148.2 368.0L148.4 367.9L148.6 367.8L148.8 367.8L149.0 367.7L149.2 367.7L149.4 367.7L149.7 367.7L149.9 367.8L150.1 367.8L150.3 367.9L150.5 367.9L150.7 368.0L150.9 368.0L151.1 368.0L151.3 368.0L151.5 368.0L151.7 368.0L151.9 368.0L152.2 368.0L152.4 368.0L152.6 368.1L152.8 368.1L153.0 368.1L153.2 368.1L153.4 368.0L153.6 368.0L153.8 367.9L154.0 367.9L154.2 367.9L154.5 368.0L154.7 368.0L154.9 368.0L155.1 368.1L155.3 368.1L155.5 368.1L155.7 368.1L155.9 368.1L156.1 368.1L156.3 368.0L156.5 368.0L156.7 367.9L157.0 367.9L157.2 367.8L157.4 367.7L157.6 367.7L157.8 367.6L158.0 367.7L158.2 367.7L158.4 367.7L158.6 367.7L158.8 367.8L159.0 367.8L159.3 367.8L159.5 367.8L159.7 367.8L159.9 367.8L160.1 367.8L160.3 367.8L160.5 367.8L160.7 367.8L160.9 367.7L161.1 367.6L161.3 367.6L161.5 367.6L161.8 367.6L162.0 367.6L162.2 367.6L162.4 367.6L162.6 367.6L162.8 367.6L163.0 367.7L163.2 367.7L163.4 367.8L163.6 367.8L163.8 367.7L164.0 367.7L164.3 367.7L164.5 367.7L164.7 367.8L164.9 367.9L165.1 367.9L165.3 368.0L165.5 367.9L165.7 367.8L165.9 367.6L166.1 367.5L166.3 367.4L166.6 367.3L166.8 367.3L167.0 367.3L167.2 367.3L167.4 367.3L167.6 367.3L167.8 367.3L168.0 367.3L168.2 367.2L168.4 367.2L168.6 367.1L168.8 367.0L169.1 366.9L169.3 366.9L169.5 366.8L169.7 366.7L169.9 366.7L170.1 366.6L170.3 366.4L170.5 366.3L170.7 366.1L170.9 365.9L171.1 365.7L171.4 365.5L171.6 365.2L171.8 365.0L172.0 364.7L172.2 364.3L172.4 363.9L172.6 363.3L172.8 362.6L173.0 361.8L173.2 360.9L173.4 359.8L173.6 358.4L173.9 356.8L174.1 354.7L174.3 352.2L174.5 349.1L174.7 345.4L174.9 341.2L175.1 336.4L175.3 331.6L175.5 327.3L175.7 324.4L175.9 323.4L176.2 324.5L176.4 327.3L176.6 331.1L176.8 335.3L177.0 339.6L177.2 343.7L177.4 347.4L177.6 350.6L177.8 353.3L178.0 355.6L178.2 357.5L178.4 359.0L178.7 360.3L178.9 361.4L179.1 362.3L179.3 363.0L179.5 363.6L179.7 364.1L179.9 364.5L180.1 364.9L180.3 365.3L180.5 365.6L180.7 365.8L180.9 366.0L181.2 366.2L181.4 366.3L181.6 366.5L181.8 366.6L182.0 366.7L182.2 366.9L182.4 367.0L182.6 367.1L182.8 367.1L183.0 367.2L183.2 367.2L183.5 367.3L183.7 367.3L183.9 367.4L184.1 367.5L184.3 367.5L184.5 367.6L184.7 367.6L184.9 367.7L185.1 367.7L185.3 367.7L185.5 367.7L185.7 367.6L186.0 367.6L186.2 367.6L186.4 367.6L186.6 367.6L186.8 367.6L187.0 367.6L187.2 367.6L187.4 367.6L187.6 367.6L187.8 367.7L188.0 367.6L188.3 367.6L188.5 367.6L188.7 367.7L188.9 367.8L189.1 367.9L189.3 367.9L189.5 368.0L189.7 368.1L189.9 368.1L190.1 368.1L190.3 368.1L190.5 368.1L190.8 368.0L191.0 368.0L191.2 368.0L191.4 368.1L191.6 368.1L191.8 368.2L192.0 368.2L192.2 368.2L192.4 368.1L192.6 368.0L192.8 368.0L193.1 367.9L193.3 367.9L193.5 368.0L193.7 368.0L193.9 368.0L194.1 368.1L194.3 368.1L194.5 368.2L194.7 368.2L194.9 368.1L195.1 368.1L195.3 368.0L195.6 367.9L195.8 367.9L196.0 367.9L196.2 367.9L196.4 367.9L196.6 368.0L196.8 368.0L197.0 368.0L197.2 367.9L197.4 367.9L197.6 367.9L197.8 367.8L198.1 367.8L198.3 367.7L198.5 367.7L198.7 367.7L198.9 367.7L199.1 367.7L199.3 367.7L199.5 367.8L199.7 367.8L199.9 367.9L200.1 368.0L200.4 368.0L200.6 368.0L200.8 368.0L201.0 368.0L201.2 368.0L201.4 368.0L201.6 368.0L201.8 367.9L202.0 367.9L202.2 368.0L202.4 368.0L202.6 368.0L202.9 368.1L203.1 368.2L203.3 368.2L203.5 368.3L203.7 368.2L203.9 368.2L204.1 368.1L204.3 368.1L204.5 368.0L204.7 368.0L204.9 368.1L205.2 368.1L205.4 368.1L205.6 368.1L205.8 368.1L206.0 368.1L206.2 368.1L206.4 368.1L206.6 368.1L206.8 368.2L207.0 368.2L207.2 368.2L207.4 368.2L207.7 368.2L207.9 368.2L208.1 368.2L208.3 368.2L208.5 368.2L208.7 368.2L208.9 368.2L209.1 368.1L209.3 368.1L209.5 368.1L209.7 368.1L210.0 368.0L210.2 368.0L210.4 368.1L210.6 368.1L210.8 368.2L211.0 368.3L211.2 368.3L211.4 368.3L211.6 368.3L211.8 368.3L212.0 368.3L212.2 368.3L212.5 368.3L212.7 368.3L212.9 368.3L213.1 368.3L213.3 368.2L213.5 368.2L213.7 368.2L213.9 368.2L214.1 368.1L214.3 368.1L214.5 368.1L214.7 368.0L215.0 368.0L215.2 368.1L215.4 368.1L215.6 368.0L215.8 368.0L216.0 368.0L216.2 368.0L216.4 368.0L216.6 368.0L216.8 368.0L217.0 368.0L217.3 368.0L217.5 368.1L217.7 368.1L217.9 368.2L218.1 368.2L218.3 368.2L218.5 368.1L218.7 368.1L218.9 368.0L219.1 368.0L219.3 368.0L219.5 368.0L219.8 368.1L220.0 368.2L220.2 368.2L220.4 368.3L220.6 368.4L220.8 368.4L221.0 368.4L221.2 368.3L221.4 368.3L221.6 368.3L221.8 368.3L222.1 368.3L222.3 368.2L222.5 368.2L222.7 368.2L222.9 368.1L223.1 368.1L223.3 368.1L223.5 368.1L223.7 368.0L223.9 368.0L224.1 368.1L224.3 368.1L224.6 368.2L224.8 368.3L225.0 368.3L225.2 368.3L225.4 368.3L225.6 368.3L225.8 368.2L226.0 368.2L226.2 368.2L226.4 368.2L226.6 368.2L226.9 368.2L227.1 368.1L227.3 368.1L227.5 368.2L227.7 368.2L227.9 368.2L228.1 368.1L228.3 368.1L228.5 368.1L228.7 368.1L228.9 368.1L229.1 368.1L229.4 368.1L229.6 368.0L229.8 368.0L230.0 368.1L230.2 368.1L230.4 368.2L230.6 368.2L230.8 368.2L231.0 368.2L231.2 368.1L231.4 368.1L231.6 368.0L231.9 368.0L232.1 368.0L232.3 368.1L232.5 368.2L232.7 368.2L232.9 368.2L233.1 368.2L233.3 368.2L233.5 368.1L233.7 368.1L233.9 368.1L234.2 368.1L234.4 368.1L234.6 368.1L234.8 368.1L235.0 368.2L235.2 368.2L235.4 368.1L235.6 368.1L235.8 368.0L236.0 367.9L236.2 367.9L236.4 367.9L236.7 367.9L236.9 368.0L237.1 368.1L237.3 368.1L237.5 368.2L237.7 368.2L237.9 368.1L238.1 368.1L238.3 368.1L238.5 368.1L238.7 368.1L239.0 368.0L239.2 368.0L239.4 368.0L239.6 368.0L239.8 368.0L240.0 368.0L240.2 368.0L240.4 368.0L240.6 368.0L240.8 368.0L241.0 368.0L241.2 368.1L241.5 368.1L241.7 368.1L241.9 368.2L242.1 368.2L242.3 368.2L242.5 368.3L242.7 368.2L242.9 368.2L243.1 368.2L243.3 368.1L243.5 368.1L243.7 368.0L244.0 368.0L244.2 368.0L244.4 368.0L244.6 368.0L244.8 368.0L245.0 367.9L245.2 367.9L245.4 367.9L245.6 367.9L245.8 368.0L246.0 368.1L246.3 368.1L246.5 368.1L246.7 368.1L246.9 368.1L247.1 368.1L247.3 368.1L247.5 368.2L247.7 368.2L247.9 368.2L248.1 368.2L248.3 368.2L248.5 368.1L248.8 368.1L249.0 368.0L249.2 368.1L249.4 368.1L249.6 368.1L249.8 368.2L250.0 368.3L250.2 368.3L250.4 368.3L250.6 368.3L250.8 368.3L251.1 368.2L251.3 368.2L251.5 368.2L251.7 368.1L251.9 368.1L252.1 368.2L252.3 368.2L252.5 368.2L252.7 368.2L252.9 368.2L253.1 368.2L253.3 368.1L253.6 368.1L253.8 368.1L254.0 368.0L254.2 367.9L254.4 367.9L254.6 367.9L254.8 367.9L255.0 367.9L255.2 367.9L255.4 367.9L255.6 368.0L255.9 368.1L256.1 368.1L256.3 368.2L256.5 368.3L256.7 368.3L256.9 368.3L257.1 368.4L257.3 368.4L257.5 368.4L257.7 368.4L257.9 368.4L258.1 368.4L258.4 368.4L258.6 368.4L258.8 368.3L259.0 368.3L259.2 368.2L259.4 368.2L259.6 368.2L259.8 368.2L260.0 368.2L260.2 368.3L260.4 368.2L260.6 368.2L260.9 368.2L261.1 368.1L261.3 368.1L261.5 368.1L261.7 368.1L261.9 368.1L262.1 368.1L262.3 368.1L262.5 368.1L262.7 368.1L262.9 368.1L263.2 368.1L263.4 368.1L263.6 368.2L263.8 368.2L264.0 368.3L264.2 368.3L264.4 368.4L264.6 368.4L264.8 368.5L265.0 368.5L265.2 368.5L265.4 368.5L265.7 368.4L265.9 368.4L266.1 368.3L266.3 368.3L266.5 368.2L266.7 368.1L266.9 368.1L267.1 368.0L267.3 367.9L267.5 367.9L267.7 367.9L268.0 367.9L268.2 367.9L268.4 367.9L268.6 367.9L268.8 368.0L269.0 368.0L269.2 368.1L269.4 368.2L269.6 368.3L269.8 368.3L270.0 368.2L270.2 368.2L270.5 368.1L270.7 368.1L270.9 368.0L271.1 368.0L271.3 368.0L271.5 368.0L271.7 368.0L271.9 368.0L272.1 368.1L272.3 368.1L272.5 368.1L272.8 368.0L273.0 368.0L273.2 368.1L273.4 368.1L273.6 368.2L273.8 368.2L274.0 368.2L274.2 368.2L274.4 368.2L274.6 368.2L274.8 368.1L275.0 368.1L275.3 368.0L275.5 368.0L275.7 368.0L275.9 368.0L276.1 368.0L276.3 368.0L276.5 368.0L276.7 368.0L276.9 368.0L277.1 368.0L277.3 368.0L277.5 368.0L277.8 368.0L278.0 368.0L278.2 367.9L278.4 367.9L278.6 368.0L278.8 368.0L279.0 368.0L279.2 368.0L279.4 368.0L279.6 368.0L279.8 368.0L280.1 368.1L280.3 368.1L280.5 368.2L280.7 368.2L280.9 368.3L281.1 368.3L281.3 368.3L281.5 368.2L281.7 368.1L281.9 368.1L282.1 368.1L282.3 368.0L282.6 368.0L282.8 368.0L283.0 368.0L283.2 368.0L283.4 368.0L283.6 368.1L283.8 368.1L284.0 368.1L284.2 368.1L284.4 368.1L284.6 368.0L284.9 367.9L285.1 367.8L285.3 367.7L285.5 367.7L285.7 367.6L285.9 367.6L286.1 367.6L286.3 367.6L286.5 367.6L286.7 367.6L286.9 367.6L287.1 367.6L287.4 367.6L287.6 367.6L287.8 367.5L288.0 367.4L288.2 367.4L288.4 367.3L288.6 367.2L288.8 367.1L289.0 367.0L289.2 366.9L289.4 366.8L289.7 366.7L289.9 366.7L290.1 366.7L290.3 366.6L290.5 366.6L290.7 366.6L290.9 366.6L291.1 366.6L291.3 366.6L291.5 366.6L291.7 366.7L291.9 366.8L292.2 366.8L292.4 366.9L292.6 366.9L292.8 367.0L293.0 367.1L293.2 367.2L293.4 367.3L293.6 367.4L293.8 367.4L294.0 367.4L294.2 367.4L294.4 367.5L294.7 367.5L294.9 367.5L295.1 367.5L295.3 367.5L295.5 367.5L295.7 367.4L295.9 367.4L296.1 367.4L296.3 367.4L296.5 367.4L296.7 367.4L297.0 367.4L297.2 367.4L297.4 367.4L297.6 367.3L297.8 367.3L298.0 367.3L298.2 367.2L298.4 367.2L298.6 367.2L298.8 367.2L299.0 367.2L299.2 367.2L299.5 367.1L299.7 367.0L299.9 367.0L300.1 366.9L300.3 366.7L300.5 366.6L300.7 366.6L300.9 366.5L301.1 366.4L301.3 366.2L301.5 366.1L301.8 366.0L302.0 365.8L302.2 365.6L302.4 365.4L302.6 365.3L302.8 365.1L303.0 365.0L303.2 365.0L303.4 365.0L303.6 365.1L303.8 365.2L304.0 365.3L304.3 365.5L304.5 365.6L304.7 365.8L304.9 365.9L305.1 366.0L305.3 366.2L305.5 366.3L305.7 366.4L305.9 366.4L306.1 366.5L306.3 366.5L306.6 366.6L306.8 366.7L307.0 366.8L307.2 366.9L307.4 367.1L307.6 367.2L307.8 367.3L308.0 367.3L308.2 367.4L308.4 367.4L308.6 367.4L308.8 367.4L309.1 367.4L309.3 367.4L309.5 367.3L309.7 367.3L309.9 367.3L310.1 367.3L310.3 367.3L310.5 367.4L310.7 367.4L310.9 367.4L311.1 367.4L311.3 367.4L311.6 367.4L311.8 367.4L312.0 367.3L312.2 367.3L312.4 367.3L312.6 367.3L312.8 367.2L313.0 367.2L313.2 367.2L313.4 367.2L313.6 367.2L313.9 367.2L314.1 367.2L314.3 367.2L314.5 367.1L314.7 367.1L314.9 367.1L315.1 367.0L315.3 367.0L315.5 367.0L315.7 367.0L315.9 366.9L316.1 366.9L316.4 366.8L316.6 366.7L316.8 366.6L317.0 366.5L317.2 366.3L317.4 366.2L317.6 366.1L317.8 366.0L318.0 366.0L318.2 365.9L318.4 365.8L318.7 365.7L318.9 365.5L319.1 365.3L319.3 365.1L319.5 364.8L319.7 364.6L319.9 364.3L320.1 364.1L320.3 363.8L320.5 363.5L320.7 363.2L320.9 362.8L321.2 362.4L321.4 361.9L321.6 361.3L321.8 360.6L322.0 359.8L322.2 358.8L322.4 357.8L322.6 356.6L322.8 355.2L323.0 353.6L323.2 351.6L323.5 349.2L323.7 346.4L323.9 343.0L324.1 339.0L324.3 334.0L324.5 328.2L324.7 321.2L324.9 313.3L325.1 304.5L325.3 295.6L325.5 287.3L325.7 281.0L326.0 277.7L326.2 278.0L326.4 281.5L326.6 287.0L326.8 293.6L327.0 300.4L327.2 307.2L327.4 313.9L327.6 320.3L327.8 326.4L328.0 332.0L328.2 336.9L328.5 341.2L328.7 344.8L328.9 347.8L329.1 350.4L329.3 352.5L329.5 354.4L329.7 355.9L329.9 357.3L330.1 358.4L330.3 359.4L330.5 360.2L330.8 361.0L331.0 361.7L331.2 362.3L331.4 362.7L331.6 363.1L331.8 363.5L332.0 363.8L332.2 364.1L332.4 364.4L332.6 364.6L332.8 364.7L333.0 364.9L333.3 365.1L333.5 365.3L333.7 365.5L333.9 365.6L334.1 365.8L334.3 366.0L334.5 366.2L334.7 366.3L334.9 366.4L335.1 366.5L335.3 366.5L335.6 366.5L335.8 366.6L336.0 366.6L336.2 366.7L336.4 366.7L336.6 366.8L336.8 366.9L337.0 367.0L337.2 367.1L337.4 367.1L337.6 367.1L337.8 367.0L338.1 367.1L338.3 367.1L338.5 367.2L338.7 367.2L338.9 367.3L339.1 367.3L339.3 367.4L339.5 367.5L339.7 367.6L339.9 367.7L340.1 367.7L340.4 367.7L340.6 367.7L340.8 367.6L341.0 367.6L341.2 367.6L341.4 367.5L341.6 367.5L341.8 367.6L342.0 367.6L342.2 367.6L342.4 367.7L342.6 367.7L342.9 367.7L343.1 367.7L343.3 367.6L343.5 367.6L343.7 367.5L343.9 367.5L344.1 367.4L344.3 367.5L344.5 367.5L344.7 367.6L344.9 367.6L345.1 367.7L345.4 367.8L345.6 367.8L345.8 367.8L346.0 367.8L346.2 367.8L346.4 367.8L346.6 367.9L346.8 367.9L347.0 367.8L347.2 367.8L347.4 367.8L347.7 367.8L347.9 367.8L348.1 367.9L348.3 367.9L348.5 368.0L348.7 368.0L348.9 368.0L349.1 368.0L349.3 368.0L349.5 367.9L349.7 367.9L349.9 367.9L350.2 367.9L350.4 367.9L350.6 367.9L350.8 367.9L351.0 367.9L351.2 367.9L351.4 367.8L351.6 367.8L351.8 367.8L352.0 367.8L352.2 367.8L352.5 367.8L352.7 367.9L352.9 367.9L353.1 367.9L353.3 367.9L353.5 367.9L353.7 367.9L353.9 367.9L354.1 367.9L354.3 367.9L354.5 367.9L354.7 367.9L355.0 367.9L355.2 367.9L355.4 368.0L355.6 368.0L355.8 368.0L356.0 368.0L356.2 368.0L356.4 368.0L356.6 368.0L356.8 368.0L357.0 368.0L357.3 367.9L357.5 367.9L357.7 367.9L357.9 367.8L358.1 367.8L358.3 367.8L358.5 367.8L358.7 367.8L358.9 367.8L359.1 367.8L359.3 367.8L359.5 367.8L359.8 367.8L360.0 367.7L360.2 367.7L360.4 367.7L360.6 367.8L360.8 367.7L361.0 367.7L361.2 367.6L361.4 367.5L361.6 367.5L361.8 367.4L362.0 367.3L362.3 367.3L362.5 367.2L362.7 367.2L362.9 367.2L363.1 367.2L363.3 367.2L363.5 367.2L363.7 367.2L363.9 367.2L364.1 367.3L364.3 367.3L364.6 367.4L364.8 367.4L365.0 367.4L365.2 367.4L365.4 367.3L365.6 367.3L365.8 367.3L366.0 367.4L366.2 367.4L366.4 367.4L366.6 367.4L366.8 367.5L367.1 367.6L367.3 367.6L367.5 367.7L367.7 367.7L367.9 367.7L368.1 367.7L368.3 367.8L368.5 367.8L368.7 367.8L368.9 367.9L369.1 367.9L369.4 368.0L369.6 368.0L369.8 367.9L370.0 367.8L370.2 367.8L370.4 367.8L370.6 367.8L370.8 367.8L371.0 367.9L371.2 367.9L371.4 367.9L371.6 368.0L371.9 368.0L372.1 368.1L372.3 368.1L372.5 368.1L372.7 368.1L372.9 368.1L373.1 368.0L373.3 368.0L373.5 368.0L373.7 367.9L373.9 367.9L374.1 367.9L374.4 367.9L374.6 367.8L374.8 367.8L375.0 367.8L375.2 367.8L375.4 367.9L375.6 368.0L375.8 368.0L376.0 368.0L376.2 368.1L376.4 368.1L376.7 368.1L376.9 368.0L377.1 367.9L377.3 367.9L377.5 367.9L377.7 368.0L377.9 368.0L378.1 368.1L378.3 368.1L378.5 368.1L378.7 368.0L378.9 368.0L379.2 367.9L379.4 367.9L379.6 367.8L379.8 367.8L380.0 367.8L380.2 367.8L380.4 367.9L380.6 367.9L380.8 367.9L381.0 367.8L381.2 367.8L381.5 367.7L381.7 367.7L381.9 367.7L382.1 367.7L382.3 367.7L382.5 367.7L382.7 367.7L382.9 367.7L383.1 367.7L383.3 367.7L383.5 367.6L383.7 367.6L384.0 367.6L384.2 367.6L384.4 367.6L384.6 367.7L384.8 367.8L385.0 367.8L385.2 367.9L385.4 367.9L385.6 367.9L385.8 367.8L386.0 367.8L386.3 367.9L386.5 367.9L386.7 368.0L386.9 368.0L387.1 367.9L387.3 367.9L387.5 367.9L387.7 367.9L387.9 367.8L388.1 367.9L388.3 367.9L388.5 367.9L388.8 367.9L389.0 367.9L389.2 367.9L389.4 367.8L389.6 367.8L389.8 367.8L390.0 367.8L390.2 367.9L390.4 367.8L390.6 367.8L390.8 367.8L391.0 367.8L391.3 367.8L391.5 367.8L391.7 367.8L391.9 367.8L392.1 367.8L392.3 367.8L392.5 367.8L392.7 367.8L392.9 367.8L393.1 367.8L393.3 367.8L393.6 367.8L393.8 367.8L394.0 367.8L394.2 367.8L394.4 367.9L394.6 367.9L394.8 368.0L395.0 368.0L395.2 368.0L395.4 368.0L395.6 367.9L395.8 367.9L396.1 367.9L396.3 367.9L396.5 367.9L396.7 368.0L396.9 368.0L397.1 368.0L397.3 368.0L397.5 368.0L397.7 368.0L397.9 368.0L398.1 368.0L398.4 368.0L398.6 368.0L398.8 368.0L399.0 368.0L399.2 367.9L399.4 367.9L399.6 367.8L399.8 367.8L400.0 367.8L400.2 367.8L400.4 367.8L400.6 367.8L400.9 367.8L401.1 367.8L401.3 367.8L401.5 367.8L401.7 367.8L401.9 367.9L402.1 367.8L402.3 367.8L402.5 367.8L402.7 367.8L402.9 367.7L403.2 367.7L403.4 367.7L403.6 367.7L403.8 367.7L404.0 367.7L404.2 367.8L404.4 367.8L404.6 367.8L404.8 367.7L405.0 367.7L405.2 367.7L405.4 367.7L405.7 367.7L405.9 367.6L406.1 367.6L406.3 367.5L406.5 367.5L406.7 367.4L406.9 367.4L407.1 367.3L407.3 367.3L407.5 367.3L407.7 367.2L407.9 367.2L408.2 367.1L408.4 367.1L408.6 367.1L408.8 367.0L409.0 367.0L409.2 366.9L409.4 366.9L409.6 366.8L409.8 366.8L410.0 366.7L410.2 366.7L410.5 366.6L410.7 366.5L410.9 366.3L411.1 366.2L411.3 366.0L411.5 365.9L411.7 365.7L411.9 365.6L412.1 365.4L412.3 365.3L412.5 365.1L412.7 364.9L413.0 364.7L413.2 364.4L413.4 364.1L413.6 363.7L413.8 363.3L414.0 362.9L414.2 362.4L414.4 361.9L414.6 361.3L414.8 360.5L415.0 359.6L415.3 358.6L415.5 357.5L415.7 356.2L415.9 354.7L416.1 352.9L416.3 350.8L416.5 348.2L416.7 345.1L416.9 341.5L417.1 337.2L417.3 332.1L417.5 326.3L417.8 319.9L418.0 313.3L418.2 306.9L418.4 301.6L418.6 298.2L418.8 297.2L419.0 298.7L419.2 302.1L419.4 306.6L419.6 311.5L419.8 316.3L420.1 320.8L420.3 325.3L420.5 329.6L420.7 333.8L420.9 337.9L421.1 341.6L421.3 344.9L421.5 347.9L421.7 350.4L421.9 352.6L422.1 354.5L422.3 356.0L422.6 357.4L422.8 358.5L423.0 359.5L423.2 360.4L423.4 361.2L423.6 361.8L423.8 362.4L424.0 362.8L424.2 363.2L424.4 363.6L424.6 363.9L424.8 364.2L425.1 364.5L425.3 364.7L425.5 365.0L425.7 365.2L425.9 365.4L426.1 365.7L426.3 365.9L426.5 366.1L426.7 366.2L426.9 366.3L427.1 366.4L427.4 366.4L427.6 366.4L427.8 366.5L428.0 366.5L428.2 366.6L428.4 366.7L428.6 366.7L428.8 366.8L429.0 366.8L429.2 366.9L429.4 366.9L429.6 366.9L429.9 367.0L430.1 367.1L430.3 367.2L430.5 367.3L430.7 367.3L430.9 367.3L431.1 367.3L431.3 367.3L431.5 367.3L431.7 367.3L431.9 367.4L432.2 367.4L432.4 367.5L432.6 367.5L432.8 367.5L433.0 367.5L433.2 367.5L433.4 367.6L433.6 367.6L433.8 367.6L434.0 367.6L434.2 367.6L434.4 367.7L434.7 367.7L434.9 367.7L435.1 367.7L435.3 367.7L435.5 367.7L435.7 367.7L435.9 367.7L436.1 367.7L436.3 367.7L436.5 367.7L436.7 367.8L437.0 367.8L437.2 367.8L437.4 367.9L437.6 367.9L437.8 367.9L438.0 367.9L438.2 367.8L438.4 367.7L438.6 367.7L438.8 367.6L439.0 367.5L439.2 367.5L439.5 367.5L439.7 367.5L439.9 367.6L440.1 367.6L440.3 367.6L440.5 367.6L440.7 367.6L440.9 367.6L441.1 367.5L441.3 367.5L441.5 367.4L441.7 367.4L442.0 367.3L442.2 367.3L442.4 367.2L442.6 367.2L442.8 367.1L443.0 367.0L443.2 366.9L443.4 366.8L443.6 366.7L443.8 366.5L444.0 366.3L444.3 366.1L444.5 365.8L444.7 365.5L444.9 365.2L445.1 364.7L445.3 364.2L445.5 363.6L445.7 362.9L445.9 362.0L446.1 361.1L446.3 360.1L446.5 359.0L446.8 358.0L447.0 357.2L447.2 356.7L447.4 356.5L447.6 356.8L447.8 357.3L448.0 358.1L448.2 358.8L448.4 359.6L448.6 360.3L448.8 360.9L449.1 361.5L449.3 362.2L449.5 362.8L449.7 363.5L449.9 364.1L450.1 364.6L450.3 365.0L450.5 365.3L450.7 365.6L450.9 365.9L451.1 366.1L451.3 366.3L451.6 366.5L451.8 366.7L452.0 366.9L452.2 367.1L452.4 367.3L452.6 367.4L452.8 367.5L453.0 367.5L453.2 367.5L453.4 367.5L453.6 367.5L453.9 367.5L454.1 367.5L454.3 367.6L454.5 367.7L454.7 367.8L454.9 367.8L455.1 367.8L455.3 367.8L455.5 367.8L455.7 367.7L455.9 367.7L456.1 367.7L456.4 367.7L456.6 367.8L456.8 367.8L457.0 367.9L457.2 367.9L457.4 367.9L457.6 367.9L457.8 367.8L458.0 367.8L458.2 367.9L458.4 367.9L458.6 368.0L458.9 368.1L459.1 368.2L459.3 368.2L459.5 368.2L459.7 368.2L459.9 368.1L460.1 368.1L460.3 368.0L460.5 368.0L460.7 368.0L460.9 368.1L461.2 368.1L461.4 368.2L461.6 368.2L461.8 368.2L462.0 368.2L462.2 368.2L462.4 368.2L462.6 368.2L462.8 368.1L463.0 368.1L463.2 368.1L463.4 368.1L463.7 368.1L463.9 368.1L464.1 368.1L464.3 368.1L464.5 368.1L464.7 368.1L464.9 368.2L465.1 368.2L465.3 368.2L465.5 368.2L465.7 368.2L466.0 368.2L466.2 368.2L466.4 368.2L466.6 368.1L466.8 368.1L467.0 368.1L467.2 368.0L467.4 368.0L467.6 368.0L467.8 368.1L468.0 368.1L468.2 368.2L468.5 368.2L468.7 368.2L468.9 368.3L469.1 368.3L469.3 368.3L469.5 368.3L469.7 368.2L469.9 368.1L470.1 368.0L470.3 368.0L470.5 367.9L470.8 367.9L471.0 368.0L471.2 368.0L471.4 368.0L471.6 368.0L471.8 368.0L472.0 368.0L472.2 368.0L472.4 368.0L472.6 368.0L472.8 368.1L473.0 368.1L473.3 368.2L473.5 368.2L473.7 368.3L473.9 368.3L474.1 368.3L474.3 368.2L474.5 368.2L474.7 368.1L474.9 368.2L475.1 368.2L475.3 368.2L475.5 368.2L475.8 368.2L476.0 368.2L476.2 368.2L476.4 368.1L476.6 368.1L476.8 368.1L477.0 368.1L477.2 368.1L477.4 368.1L477.6 368.1L477.8 368.0L478.1 368.0L478.3 368.0L478.5 368.0L478.7 368.0L478.9 368.0L479.1 368.0L479.3 368.0L479.5 368.0L479.7 368.0L479.9 368.1L480.1 368.2L480.3 368.2L480.6 368.3L480.8 368.2L481.0 368.2L481.2 368.1L481.4 368.1L481.6 368.0L481.8 368.0L482.0 368.0L482.2 368.1L482.4 368.1L482.6 368.1L482.9 368.2L483.1 368.2L483.3 368.2L483.5 368.2L483.7 368.2L483.9 368.2L484.1 368.2L484.3 368.2L484.5 368.2L484.7 368.2L484.9 368.2L485.1 368.2L485.4 368.1L485.6 368.1L485.8 368.1L486.0 368.1L486.2 368.1L486.4 368.1L486.6 368.1L486.8 368.1L487.0 368.1L487.2 368.1L487.4 368.1L487.7 368.1L487.9 368.1L488.1 368.1L488.3 368.2L488.5 368.2L488.7 368.2L488.9 368.2L489.1 368.2L489.3 368.2L489.5 368.2L489.7 368.2L489.9 368.2L490.2 368.2L490.4 368.2L490.6 368.1L490.8 368.1L491.0 368.1L491.2 368.2L491.4 368.2L491.6 368.2L491.8 368.2L492.0 368.1L492.2 368.1L492.4 368.1L492.7 368.1L492.9 368.2L493.1 368.2L493.3 368.2L493.5 368.2L493.7 368.1L493.9 368.1L494.1 368.1L494.3 368.1L494.5 368.1L494.7 368.2L495.0 368.2L495.2 368.3L495.4 368.3L495.6 368.3L495.8 368.3L496.0 368.3L496.2 368.3L496.4 368.3L496.6 368.2L496.8 368.2L497.0 368.1L497.2 368.1L497.5 368.1L497.7 368.1L497.9 368.1L498.1 368.1L498.3 368.2L498.5 368.3L498.7 368.3L498.9 368.3L499.1 368.3L499.3 368.4L499.5 368.4L499.8 368.4L500.0 368.3L500.2 368.3L500.4 368.2L500.6 368.1L500.8 368.0L501.0 368.0L501.2 367.9L501.4 367.9L501.6 367.9L501.8 367.9L502.0 367.9L502.3 368.0L502.5 368.1L502.7 368.2L502.9 368.2L503.1 368.3L503.3 368.2L503.5 368.2L503.7 368.1L503.9 368.0L504.1 368.0L504.3 368.0L504.5 368.0L504.8 368.0L505.0 367.9L505.2 367.9L505.4 367.9L505.6 367.9L505.8 367.9L506.0 367.9L506.2 367.8L506.4 367.8L506.6 367.8L506.8 367.8L507.1 367.8L507.3 367.8L507.5 367.8L507.7 367.8L507.9 367.8L508.1 367.8L508.3 367.8L508.5 367.8L508.7 367.8L508.9 367.8L509.1 367.7L509.3 367.7L509.6 367.7L509.8 367.7L510.0 367.7L510.2 367.8L510.4 367.8L510.6 367.8L510.8 367.9L511.0 368.0L511.2 368.0L511.4 368.1L511.6 368.1L511.9 368.1L512.1 368.1L512.3 368.1L512.5 368.1L512.7 368.1L512.9 368.1L513.1 368.1L513.3 368.1L513.5 368.1L513.7 368.1L513.9 368.0L514.1 368.0L514.4 368.0L514.6 368.0L514.8 368.0L515.0 368.0L515.2 368.0L515.4 368.1L515.6 368.1L515.8 368.1L516.0 368.1L516.2 368.2L516.4 368.2L516.7 368.1L516.9 368.1L517.1 368.1L517.3 368.2L517.5 368.2L517.7 368.2L517.9 368.2L518.1 368.1L518.3 368.0L518.5 368.0L518.7 368.0L518.9 368.0L519.2 368.0L519.4 368.1L519.6 368.1L519.8 368.1L520.0 368.1L520.2 368.1L520.4 368.2L520.6 368.2L520.8 368.2L521.0 368.3L521.2 368.3L521.4 368.3L521.7 368.3L521.9 368.2L522.1 368.2L522.3 368.1L522.5 368.1L522.7 368.1L522.9 368.1L523.1 368.1L523.3 368.1L523.5 368.1L523.7 368.1L524.0 368.1L524.2 368.1L524.4 368.2L524.6 368.2L524.8 368.2L525.0 368.2L525.2 368.2L525.4 368.2L525.6 368.1L525.8 368.1L526.0 368.2L526.2 368.2L526.5 368.2L526.7 368.2L526.9 368.2L527.1 368.2L527.3 368.1L527.5 368.1L527.7 368.1L527.9 368.1L528.1 368.1L528.3 368.1L528.5 368.1L528.8 368.2L529.0 368.2L529.2 368.2L529.4 368.2L529.6 368.2L529.8 368.2L530.0 368.2L530.2 368.2L530.4 368.2L530.6 368.1L530.8 368.1L531.0 368.1L531.3 368.1L531.5 368.1L531.7 368.2L531.9 368.2L532.1 368.2L532.3 368.2L532.5 368.1L532.7 368.1L532.9 368.1L533.1 368.1L533.3 368.2L533.6 368.2L533.8 368.2L534.0 368.2L534.2 368.2L534.4 368.2L534.6 368.2L534.8 368.1L535.0 368.1L535.2 368.1L535.4 368.1L535.6 368.1L535.8 368.1L536.1 368.2L536.3 368.2L536.5 368.2L536.7 368.2L536.9 368.2L537.1 368.1L537.3 368.1L537.5 368.1L537.7 368.1L537.9 368.1L538.1 368.0L538.3 368.0L538.6 368.0L538.8 368.1L539.0 368.1L539.2 368.1L539.4 368.2L539.6 368.2L539.8 368.2L540.0 368.2L540.2 368.2L540.4 368.2"/>
<path stroke="#0000ff" d="M39.7 338.3L39.9 338.2L40.1 338.2L40.3 338.1L40.5 338.1L40.7 338.0L41.0 337.9L41.2 337.9L41.4 337.9L41.6 337.9L41.8 338.0L42.0 338.0L42.2 338.0L42.4 338.1L42.6 338.1L42.8 338.1L43.0 338.2L43.2 338.2L43.5 338.2L43.7 338.1L43.9 338.0L44.1 337.9L44.3 337.8L44.5 337.8L44.7 337.9L44.9 337.9L45.1 338.0L45.3 338.0L45.5 338.1L45.8 338.1L46.0 338.2L46.2 338.2L46.4 338.1L46.6 338.1L46.8 338.0L47.0 337.9L47.2 337.8L47.4 337.7L47.6 337.7L47.8 337.7L48.0 337.7L48.3 337.8L48.5 337.9L48.7 338.0L48.9 338.0L49.1 338.0L49.3 338.0L49.5 338.0L49.7 338.0L49.9 337.9L50.1 338.0L50.3 338.0L50.5 338.0L50.8 338.0L51.0 338.0L51.2 338.1L51.4 338.1L51.6 338.1L51.8 338.1L52.0 338.1L52.2 338.0L52.4 338.0L52.6 337.9L52.8 338.0L53.1 338.0L53.3 338.1L53.5 338.1L53.7 338.1L53.9 338.0L54.1 338.0L54.3 338.1L54.5 338.1L54.7 338.2L54.9 338.2L55.1 338.2L55.3 338.2L55.6 338.2L55.8 338.2L56.0 338.2L56.2 338.3L56.4 338.3L56.6 338.3L56.8 338.2L57.0 338.2L57.2 338.2L57.4 338.1L57.6 338.1L57.9 338.1L58.1 338.0L58.3 338.0L58.5 337.9L58.7 337.9L58.9 337.9L59.1 337.9L59.3 337.9L59.5 337.9L59.7 337.9L59.9 337.9L60.1 337.9L60.4 338.0L60.6 338.1L60.8 338.1L61.0 338.1L61.2 338.1L61.4 338.1L61.6 338.1L61.8 338.1L62.0 338.0L62.2 338.0L62.4 338.0L62.7 338.0L62.9 337.9L63.1 337.9L63.3 337.8L63.5 337.8L63.7 337.8L63.9 337.8L64.1 337.8L64.3 337.8L64.5 337.8L64.7 337.8L64.9 337.8L65.2 337.9L65.4 338.0L65.6 338.1L65.8 338.2L66.0 338.3L66.2 338.3L66.4 338.3L66.6 338.3L66.8 338.2L67.0 338.2L67.2 338.1L67.4 338.0L67.7 337.9L67.9 337.9L68.1 337.8L68.3 337.9L68.5 337.9L68.7 337.9L68.9 337.9L69.1 337.9L69.3 337.9L69.5 337.9L69.7 337.9L70.0 337.9L70.2 337.9L70.4 337.8L70.6 337.8L70.8 337.8L71.0 337.8L71.2 337.8L71.4 337.8L71.6 337.9L71.8 338.0L72.0 338.1L72.2 338.1L72.5 338.1L72.7 338.1L72.9 338.1L73.1 338.1L73.3 338.1L73.5 338.0L73.7 337.9L73.9 337.8L74.1 337.7L74.3 337.7L74.5 337.8L74.8 337.8L75.0 337.8L75.2 337.9L75.4 337.9L75.6 337.9L75.8 337.9L76.0 338.0L76.2 338.0L76.4 338.0L76.6 338.0L76.8 337.9L77.0 337.9L77.3 338.0L77.5 338.0L77.7 338.0L77.9 338.0L78.1 338.0L78.3 337.9L78.5 337.9L78.7 337.8L78.9 337.8L79.1 337.8L79.3 337.8L79.6 337.9L79.8 337.9L80.0 337.9L80.2 337.8L80.4 337.8L80.6 337.8L80.8 337.8L81.0 337.8L81.2 337.8L81.4 337.8L81.6 337.8L81.8 337.7L82.1 337.6L82.3 337.6L82.5 337.5L82.7 337.5L82.9 337.4L83.1 337.3L83.3 337.2L83.5 337.0L83.7 336.9L83.9 336.7L84.1 336.5L84.3 336.3L84.6 336.1L84.8 336.0L85.0 335.9L85.2 336.0L85.4 336.1L85.6 336.3L85.8 336.4L86.0 336.6L86.2 336.8L86.4 336.9L86.6 337.0L86.9 337.1L87.1 337.2L87.3 337.2L87.5 337.3L87.7 337.3L87.9 337.3L88.1 337.2L88.3 337.2L88.5 337.2L88.7 337.2L88.9 337.2L89.1 337.2L89.4 337.2L89.6 337.1L89.8 337.1L90.0 337.0L90.2 336.9L90.4 336.9L90.6 336.8L90.8 336.7L91.0 336.7L91.2 336.8L91.4 336.8L91.7 336.9L91.9 337.0L92.1 337.0L92.3 337.1L92.5 337.2L92.7 337.4L92.9 337.6L93.1 337.7L93.3 337.7L93.5 337.8L93.7 337.7L93.9 337.7L94.2 337.6L94.4 337.6L94.6 337.6L94.8 337.7L95.0 337.7L95.2 337.8L95.4 337.9L95.6 337.9L95.8 338.0L96.0 338.0L96.2 337.9L96.5 337.9L96.7 337.8L96.9 337.8L97.1 337.8L97.3 337.8L97.5 337.9L97.7 337.9L97.9 338.0L98.1 338.0L98.3 337.9L98.5 337.9L98.7 337.8L99.0 337.9L99.2 337.9L99.4 337.9L99.6 337.9L99.8 337.9L100.0 337.9L100.2 337.9L100.4 337.9L100.6 338.0L100.8 338.0L101.0 338.0L101.2 338.0L101.5 338.0L101.7 338.0L101.9 338.0L102.1 338.0L102.3 338.0L102.5 337.9L102.7 337.9L102.9 338.0L103.1 338.0L103.3 338.0L103.5 338.0L103.8 337.9L104.0 337.8L104.2 337.8L104.4 337.7L104.6 337.7L104.8 337.7L105.0 337.7L105.2 337.7L105.4 337.7L105.6 337.7L105.8 337.7L106.0 337.8L106.3 337.8L106.5 337.8L106.7 337.8L106.9 337.9L107.1 337.9L107.3 337.9L107.5 337.8L107.7 337.8L107.9 337.7L108.1 337.7L108.3 337.7L108.6 337.7L108.8 337.6L109.0 337.6L109.2 337.6L109.4 337.5L109.6 337.5L109.8 337.5L110.0 337.5L110.2 337.6L110.4 337.6L110.6 337.6L110.8 337.6L111.1 337.6L111.3 337.5L111.5 337.5L111.7 337.5L111.9 337.5L112.1 337.4L112.3 337.4L112.5 337.3L112.7 337.2L112.9 337.1L113.1 337.0L113.3 336.9L113.6 336.8L113.8 336.7L114.0 336.6L114.2 336.5L114.4 336.4L114.6 336.2L114.8 336.0L115.0 335.7L115.2 335.4L115.4 335.0L115.6 334.7L115.9 334.4L116.1 334.1L116.3 334.0L116.5 333.9L116.7 333.9L116.9 334.0L117.1 334.0L117.3 334.1L117.5 334.2L117.7 334.3L117.9 334.4L118.1 334.5L118.4 334.5L118.6 334.4L118.8 334.3L119.0 334.1L119.2 333.7L119.4 333.3L119.6 332.8L119.8 332.3L120.0 331.7L120.2 331.0L120.4 330.5L120.7 330.1L120.9 329.9L121.1 330.0L121.3 330.2L121.5 330.6L121.7 331.0L121.9 331.4L122.1 331.8L122.3 332.1L122.5 332.3L122.7 332.5L122.9 332.6L123.2 332.6L123.4 332.5L123.6 332.2L123.8 332.0L124.0 331.6L124.2 331.2L124.4 330.7L124.6 330.1L124.8 329.4L125.0 328.6L125.2 327.7L125.5 326.5L125.7 325.1L125.9 323.3L126.1 321.2L126.3 318.7L126.5 315.6L126.7 311.7L126.9 306.9L127.1 300.8L127.3 293.0L127.5 283.1L127.7 270.5L128.0 254.9L128.2 236.1L128.4 215.6L128.6 196.2L128.8 182.6L129.0 178.7L129.2 185.0L129.4 198.4L129.6 215.4L129.8 233.3L130.0 250.5L130.2 265.9L130.5 279.0L130.7 289.6L130.9 298.1L131.1 304.9L131.3 310.3L131.5 314.6L131.7 318.0L131.9 320.8L132.1 323.1L132.3 325.0L132.5 326.6L132.8 327.9L133.0 329.0L133.2 329.9L133.4 330.7L133.6 331.4L133.8 332.0L134.0 332.5L134.2 332.9L134.4 333.3L134.6 333.7L134.8 334.0L135.0 334.3L135.3 334.6L135.5 334.8L135.7 335.1L135.9 335.3L136.1 335.5L136.3 335.7L136.5 335.8L136.7 336.0L136.9 336.1L137.1 336.2L137.3 336.3L137.6 336.4L137.8 336.5L138.0 336.6L138.2 336.7L138.4 336.8L138.6 336.8L138.8 336.8L139.0 336.8L139.2 336.8L139.4 336.8L139.6 336.9L139.8 337.0L140.1 337.1L140.3 337.2L140.5 337.3L140.7 337.3L140.9 337.3L141.1 337.3L141.3 337.3L141.5 337.3L141.7 337.3L141.9 337.3L142.1 337.3L142.4 337.3L142.6 337.3L142.8 337.4L143.0 337.5L143.2 337.6L143.4 337.6L143.6 337.7L143.8 337.7L144.0 337.7L144.2 337.7L144.4 337.7L144.6 337.7L144.9 337.7L145.1 337.7L145.3 337.7L145.5 337.7L145.7 337.7L145.9 337.7L146.1 337.7L146.3 337.7L146.5 337.7L146.7 337.8L146.9 337.8L147.1 337.8L147.4 337.8L147.6 337.8L147.8 337.8L148.0 337.7L148.2 337.7L148.4 337.7L148.6 337.7L148.8 337.7L149.0 337.7L149.2 337.8L149.4 337.8L149.7 337.8L149.9 337.9L150.1 337.9L150.3 337.9L150.5 337.9L150.7 338.0L150.9 338.0L151.1 338.0L151.3 338.0L151.5 337.9L151.7 337.9L151.9 337.8L152.2 337.8L152.4 337.8L152.6 337.8L152.8 337.9L153.0 337.9L153.2 338.0L153.4 338.0L153.6 338.1L153.8 338.0L154.0 338.0L154.2 337.9L154.5 337.8L154.7 337.8L154.9 337.8L155.1 337.9L155.3 337.9L155.5 337.9L155.7 337.9L155.9 337.9L156.1 337.9L156.3 337.9L156.5 337.9L156.7 337.9L157.0 337.8L157.2 337.8L157.4 337.8L157.6 337.8L157.8 337.8L158.0 337.8L158.2 337.8L158.4 337.9L158.6 337.9L158.8 337.9L159.0 337.9L159.3 337.9L159.5 337.9L159.7 337.9L159.9 337.9L160.1 337.9L160.3 337.8L160.5 337.8L160.7 337.7L160.9 337.7L161.1 337.7L161.3 337.7L161.5 337.7L161.8 337.8L162.0 337.8L162.2 337.9L162.4 337.9L162.6 338.0L162.8 338.0L163.0 337.9L163.2 337.9L163.4 337.9L163.6 337.8L163.8 337.8L164.0 337.8L164.3 337.8L164.5 337.8L164.7 337.7L164.9 337.7L165.1 337.7L165.3 337.7L165.5 337.7L165.7 337.7L165.9 337.7L166.1 337.7L166.3 337.6L166.6 337.6L166.8 337.6L167.0 337.5L167.2 337.6L167.4 337.6L167.6 337.6L167.8 337.6L168.0 337.5L168.2 337.5L168.4 337.4L168.6 337.3L168.8 337.2L169.1 337.2L169.3 337.2L169.5 337.2L169.7 337.2L169.9 337.2L170.1 337.1L170.3 337.0L170.5 337.0L170.7 336.9L170.9 336.8L171.1 336.7L171.4 336.6L171.6 336.5L171.8 336.3L172.0 336.1L172.2 335.9L172.4 335.6L172.6 335.4L172.8 335.1L173.0 334.8L173.2 334.4L173.4 333.9L173.6 333.4L173.9 332.7L174.1 331.9L174.3 330.8L174.5 329.4L174.7 327.6L174.9 325.5L175.1 322.7L175.3 319.4L175.5 315.3L175.7 310.5L175.9 305.3L176.2 300.5L176.4 297.2L176.6 296.2L176.8 297.7L177.0 300.9L177.2 304.9L177.4 309.2L177.6 313.5L177.8 317.4L178.0 320.9L178.2 323.9L178.4 326.3L178.7 328.3L178.9 329.8L179.1 331.1L179.3 332.1L179.5 332.9L179.7 333.6L179.9 334.1L180.1 334.5L180.3 334.9L180.5 335.3L180.7 335.5L180.9 335.8L181.2 336.0L181.4 336.2L181.6 336.3L181.8 336.4L182.0 336.6L182.2 336.6L182.4 336.7L182.6 336.8L182.8 336.9L183.0 337.0L183.2 337.0L183.5 337.1L183.7 337.2L183.9 337.2L184.1 337.3L184.3 337.3L184.5 337.4L184.7 337.4L184.9 337.4L185.1 337.5L185.3 337.5L185.5 337.6L185.7 337.6L186.0 337.7L186.2 337.7L186.4 337.7L186.6 337.8L186.8 337.8L187.0 337.9L187.2 337.9L187.4 337.9L187.6 337.9L187.8 337.9L188.0 337.9L188.3 337.9L188.5 337.9L188.7 337.9L188.9 337.9L189.1 337.9L189.3 337.9L189.5 338.0L189.7 338.0L189.9 338.0L190.1 338.0L190.3 337.9L190.5 337.9L190.8 337.9L191.0 337.9L191.2 337.9L191.4 337.9L191.6 337.9L191.8 337.9L192.0 337.9L192.2 337.9L192.4 337.9L192.6 338.0L192.8 338.0L193.1 338.0L193.3 338.0L193.5 337.9L193.7 337.9L193.9 337.9L194.1 337.9L194.3 337.9L194.5 337.9L194.7 337.9L194.9 337.9L195.1 337.8L195.3 337.8L195.6 337.7L195.8 337.7L196.0 337.6L196.2 337.6L196.4 337.5L196.6 337.5L196.8 337.4L197.0 337.4L197.2 337.3L197.4 337.3L197.6 337.3L197.8 337.3L198.1 337.4L198.3 337.4L198.5 337.4L198.7 337.5L198.9 337.5L199.1 337.5L199.3 337.6L199.5 337.7L199.7 337.7L199.9 337.8L200.1 337.9L200.4 337.9L200.6 337.9L200.8 337.9L201.0 337.9L201.2 337.9L201.4 337.9L201.6 338.0L201.8 338.0L202.0 338.0L202.2 338.1L202.4 338.1L202.6 338.1L202.9 338.0L203.1 338.0L203.3 338.0L203.5 338.1L203.7 338.1L203.9 338.1L204.1 338.1L204.3 338.1L204.5 338.1L204.7 338.1L204.9 338.1L205.2 338.1L205.4 338.2L205.6 338.2L205.8 338.2L206.0 338.2L206.2 338.1L206.4 338.1L206.6 338.1L206.8 338.1L207.0 338.1L207.2 338.1L207.4 338.1L207.7 338.1L207.9 338.1L208.1 338.1L208.3 338.1L208.5 338.1L208.7 338.0L208.9 338.0L209.1 338.0L209.3 338.1L209.5 338.1L209.7 338.1L210.0 338.1L210.2 338.1L210.4 338.0L210.6 338.0L210.8 337.9L211.0 337.9L211.2 337.8L211.4 337.9L211.6 337.9L211.8 337.9L212.0 338.0L212.2 338.0L212.5 338.0L212.7 338.0L212.9 338.0L213.1 338.0L213.3 338.0L213.5 338.1L213.7 338.1L213.9 338.1L214.1 338.2L214.3 338.2L214.5 338.2L214.7 338.2L215.0 338.2L215.2 338.1L215.4 338.1L215.6 338.1L215.8 338.2L216.0 338.2L216.2 338.2L216.4 338.2L216.6 338.1L216.8 338.1L217.0 338.1L217.3 338.2L217.5 338.2L217.7 338.2L217.9 338.1L218.1 338.1L218.3 338.1L218.5 338.1L218.7 338.1L218.9 338.1L219.1 338.1L219.3 338.2L219.5 338.2L219.8 338.2L220.0 338.1L220.2 338.1L220.4 338.1L220.6 338.0L220.8 338.0L221.0 338.0L221.2 338.1L221.4 338.1L221.6 338.1L221.8 338.1L222.1 338.1L222.3 338.1L222.5 338.1L222.7 338.1L222.9 338.1L223.1 338.0L223.3 338.0L223.5 337.9L223.7 337.9L223.9 337.9L224.1 337.9L224.3 338.0L224.6 338.0L224.8 338.1L225.0 338.0L225.2 338.0L225.4 338.0L225.6 337.9L225.8 337.9L226.0 337.9L226.2 337.9L226.4 337.9L226.6 338.0L226.9 338.0L227.1 338.1L227.3 338.2L227.5 338.2L227.7 338.2L227.9 338.2L228.1 338.2L228.3 338.1L228.5 338.1L228.7 338.1L228.9 338.1L229.1 338.0L229.4 338.0L229.6 338.0L229.8 338.0L230.0 338.0L230.2 338.0L230.4 338.0L230.6 338.0L230.8 338.1L231.0 338.1L231.2 338.1L231.4 338.1L231.6 338.1L231.9 338.0L232.1 338.0L232.3 338.0L232.5 338.0L232.7 338.0L232.9 338.0L233.1 338.0L233.3 338.0L233.5 338.0L233.7 338.0L233.9 338.0L234.2 338.0L234.4 338.1L234.6 338.1L234.8 338.0L235.0 338.0L235.2 338.0L235.4 338.1L235.6 338.1L235.8 338.2L236.0 338.2L236.2 338.1L236.4 338.1L236.7 338.1L236.9 338.1L237.1 338.1L237.3 338.1L237.5 338.1L237.7 338.1L237.9 338.1L238.1 338.2L238.3 338.2L238.5 338.2L238.7 338.2L239.0 338.1L239.2 338.1L239.4 338.1L239.6 338.0L239.8 338.1L240.0 338.1L240.2 338.1L240.4 338.1L240.6 338.1L240.8 338.1L241.0 338.1L241.2 338.1L241.5 338.1L241.7 338.1L241.9 338.1L242.1 338.1L242.3 338.1L242.5 338.1L242.7 338.2L242.9 338.2L243.1 338.2L243.3 338.2L243.5 338.2L243.7 338.2L244.0 338.2L244.2 338.2L244.4 338.1L244.6 338.0L244.8 338.0L245.0 337.9L245.2 337.9L245.4 338.0L245.6 338.0L245.8 338.1L246.0 338.1L246.3 338.1L246.5 338.1L246.7 338.1L246.9 338.1L247.1 338.1L247.3 338.0L247.5 338.0L247.7 338.0L247.9 338.0L248.1 338.0L248.3 338.0L248.5 338.0L248.8 337.9L249.0 337.9L249.2 337.9L249.4 337.9L249.6 338.0L249.8 338.0L250.0 338.0L250.2 338.1L250.4 338.1L250.6 338.1L250.8 338.1L251.1 338.1L251.3 338.1L251.5 338.1L251.7 338.1L251.9 338.1L252.1 338.1L252.3 338.1L252.5 338.1L252.7 338.2L252.9 338.2L253.1 338.3L253.3 338.3L253.6 338.2L253.8 338.2L254.0 338.1L254.2 338.1L254.4 338.0L254.6 338.0L254.8 338.1L255.0 338.1L255.2 338.1L255.4 338.1L255.6 338.1L255.9 338.1L256.1 338.1L256.3 338.1L256.5 338.1L256.7 338.0L256.9 338.0L257.1 338.0L257.3 338.0L257.5 338.0L257.7 338.0L257.9 338.0L258.1 338.0L258.4 338.0L258.6 338.0L258.8 338.0L259.0 338.0L259.2 338.0L259.4 338.1L259.6 338.1L259.8 338.1L260.0 338.1L260.2 338.0L260.4 338.0L260.6 338.1L260.9 338.0L261.1 338.0L261.3 338.0L261.5 338.0L261.7 338.0L261.9 338.0L262.1 338.0L262.3 338.0L262.5 338.0L262.7 338.0L262.9 338.0L263.2 338.0L263.4 338.0L263.6 338.1L263.8 338.1L264.0 338.1L264.2 338.1L264.4 338.1L264.6 338.1L264.8 338.0L265.0 338.0L265.2 337.9L265.4 337.9L265.7 337.9L265.9 337.9L266.1 337.9L266.3 337.9L266.5 338.0L266.7 338.0L266.9 338.0L267.1 337.9L267.3 337.9L267.5 337.9L267.7 337.9L268.0 337.9L268.2 338.0L268.4 338.0L268.6 338.0L268.8 338.0L269.0 337.9L269.2 337.9L269.4 337.8L269.6 337.8L269.8 337.8L270.0 337.8L270.2 337.9L270.5 337.9L270.7 337.9L270.9 338.0L271.1 338.0L271.3 338.0L271.5 338.0L271.7 338.0L271.9 338.0L272.1 338.0L272.3 338.0L272.5 338.0L272.8 338.0L273.0 338.0L273.2 338.1L273.4 338.1L273.6 338.1L273.8 338.1L274.0 338.1L274.2 338.1L274.4 338.0L274.6 338.0L274.8 338.0L275.0 338.0L275.3 337.9L275.5 337.9L275.7 337.9L275.9 337.9L276.1 337.9L276.3 338.0L276.5 338.0L276.7 338.0L276.9 338.0L277.1 338.0L277.3 337.9L277.5 337.9L277.8 337.9L278.0 337.9L278.2 337.9L278.4 337.9L278.6 337.9L278.8 337.9L279.0 337.9L279.2 337.9L279.4 337.9L279.6 337.9L279.8 337.9L280.1 337.9L280.3 337.9L280.5 337.8L280.7 337.8L280.9 337.8L281.1 337.8L281.3 337.8L281.5 337.8L281.7 337.8L281.9 337.8L282.1 337.8L282.3 337.8L282.6 337.8L282.8 337.8L283.0 337.8L283.2 337.8L283.4 337.7L283.6 337.7L283.8 337.6L284.0 337.6L284.2 337.5L284.4 337.4L284.6 337.4L284.9 337.4L285.1 337.4L285.3 337.4L285.5 337.3L285.7 337.3L285.9 337.3L286.1 337.2L286.3 337.1L286.5 337.0L286.7 336.9L286.9 336.8L287.1 336.7L287.4 336.6L287.6 336.5L287.8 336.3L288.0 336.1L288.2 335.9L288.4 335.8L288.6 335.6L288.8 335.5L289.0 335.4L289.2 335.3L289.4 335.3L289.7 335.3L289.9 335.4L290.1 335.5L290.3 335.6L290.5 335.7L290.7 335.9L290.9 336.0L291.1 336.1L291.3 336.3L291.5 336.4L291.7 336.5L291.9 336.6L292.2 336.7L292.4 336.8L292.6 336.9L292.8 337.0L293.0 337.1L293.2 337.1L293.4 337.2L293.6 337.2L293.8 337.2L294.0 337.2L294.2 337.2L294.4 337.3L294.7 337.3L294.9 337.3L295.1 337.3L295.3 337.3L295.5 337.3L295.7 337.3L295.9 337.3L296.1 337.3L296.3 337.3L296.5 337.3L296.7 337.3L297.0 337.3L297.2 337.2L297.4 337.2L297.6 337.2L297.8 337.2L298.0 337.2L298.2 337.1L298.4 337.1L298.6 337.0L298.8 336.9L299.0 336.8L299.2 336.8L299.5 336.7L299.7 336.5L299.9 336.3L300.1 336.1L300.3 336.0L300.5 335.8L300.7 335.7L300.9 335.5L301.1 335.3L301.3 335.2L301.5 335.1L301.8 335.0L302.0 334.9L302.2 334.9L302.4 334.9L302.6 335.0L302.8 335.0L303.0 335.1L303.2 335.3L303.4 335.4L303.6 335.6L303.8 335.7L304.0 335.9L304.3 336.0L304.5 336.1L304.7 336.3L304.9 336.4L305.1 336.6L305.3 336.7L305.5 336.8L305.7 336.9L305.9 337.0L306.1 337.0L306.3 337.0L306.6 337.0L306.8 337.0L307.0 337.1L307.2 337.1L307.4 337.2L307.6 337.2L307.8 337.2L308.0 337.3L308.2 337.3L308.4 337.4L308.6 337.4L308.8 337.4L309.1 337.5L309.3 337.4L309.5 337.4L309.7 337.4L309.9 337.4L310.1 337.4L310.3 337.5L310.5 337.5L310.7 337.6L310.9 337.6L311.1 337.6L311.3 337.5L311.6 337.5L311.8 337.5L312.0 337.4L312.2 337.4L312.4 337.4L312.6 337.4L312.8 337.3L313.0 337.3L313.2 337.3L313.4 337.3L313.6 337.3L313.9 337.4L314.1 337.4L314.3 337.4L314.5 337.4L314.7 337.3L314.9 337.3L315.1 337.3L315.3 337.3L315.5 337.2L315.7 337.2L315.9 337.1L316.1 337.1L316.4 337.1L316.6 337.1L316.8 337.1L317.0 337.1L317.2 337.0L317.4 337.0L317.6 337.0L317.8 336.9L318.0 336.8L318.2 336.7L318.4 336.7L318.7 336.6L318.9 336.5L319.1 336.4L319.3 336.3L319.5 336.2L319.7 336.1L319.9 335.9L320.1 335.8L320.3 335.6L320.5 335.4L320.7 335.2L320.9 334.9L321.2 334.7L321.4 334.4L321.6 334.1L321.8 333.7L322.0 333.4L322.2 333.0L322.4 332.5L322.6 331.9L322.8 331.2L323.0 330.4L323.2 329.5L323.5 328.4L323.7 327.1L323.9 325.6L324.1 323.8L324.3 321.6L324.5 318.9L324.7 315.6L324.9 311.6L325.1 306.7L325.3 300.8L325.5 293.8L325.7 285.7L326.0 277.2L326.2 269.1L326.4 262.8L326.6 259.7L326.8 260.3L327.0 264.0L327.2 269.6L327.4 275.9L327.6 282.1L327.8 288.0L328.0 293.8L328.2 299.4L328.5 304.7L328.7 309.5L328.9 313.7L329.1 317.2L329.3 320.1L329.5 322.6L329.7 324.6L329.9 326.4L330.1 327.8L330.3 329.0L330.5 330.0L330.8 330.9L331.0 331.6L331.2 332.3L331.4 332.8L331.6 333.3L331.8 333.8L332.0 334.1L332.2 334.4L332.4 334.7L332.6 334.9L332.8 335.1L333.0 335.3L333.3 335.5L333.5 335.7L333.7 335.8L333.9 336.0L334.1 336.2L334.3 336.3L334.5 336.4L334.7 336.5L334.9 336.6L335.1 336.7L335.3 336.8L335.6 336.9L335.8 337.0L336.0 337.1L336.2 337.1L336.4 337.2L336.6 337.2L336.8 337.2L337.0 337.2L337.2 337.2L337.4 337.2L337.6 337.3L337.8 337.3L338.1 337.3L338.3 337.3L338.5 337.4L338.7 337.4L338.9 337.4L339.1 337.4L339.3 337.4L339.5 337.4L339.7 337.5L339.9 337.5L340.1 337.5L340.4 337.6L340.6 337.6L340.8 337.6L341.0 337.6L341.2 337.6L341.4 337.6L341.6 337.6L341.8 337.6L342.0 337.6L342.2 337.6L342.4 337.6L342.6 337.6L342.9 337.7L343.1 337.7L343.3 337.7L343.5 337.7L343.7 337.7L343.9 337.7L344.1 337.8L344.3 337.8L344.5 337.8L344.7 337.8L344.9 337.8L345.1 337.8L345.4 337.8L345.6 337.8L345.8 337.8L346.0 337.8L346.2 337.7L346.4 337.7L346.6 337.7L346.8 337.7L347.0 337.7L347.2 337.7L347.4 337.7L347.7 337.7L347.9 337.7L348.1 337.7L348.3 337.7L348.5 337.8L348.7 337.8L348.9 337.8L349.1 337.8L349.3 337.8L349.5 337.7L349.7 337.7L349.9 337.7L350.2 337.7L350.4 337.7L350.6 337.7L350.8 337.7L351.0 337.7L351.2 337.7L351.4 337.7L351.6 337.7L351.8 337.8L352.0 337.8L352.2 337.7L352.5 337.7L352.7 337.7L352.9 337.6L353.1 337.6L353.3 337.6L353.5 337.5L353.7 337.5L353.9 337.5L354.1 337.5L354.3 337.6L354.5 337.6L354.7 337.6L355.0 337.6L355.2 337.6L355.4 337.6L355.6 337.6L355.8 337.7L356.0 337.7L356.2 337.7L356.4 337.7L356.6 337.7L356.8 337.7L357.0 337.7L357.3 337.7L357.5 337.7L357.7 337.7L357.9 337.6L358.1 337.6L358.3 337.6L358.5 337.6L358.7 337.6L358.9 337.6L359.1 337.5L359.3 337.5L359.5 337.4L359.8 337.3L360.0 337.3L360.2 337.2L360.4 337.1L360.6 337.1L360.8 337.0L361.0 337.0L361.2 337.0L361.4 336.9L361.6 336.9L361.8 336.9L362.0 336.8L362.3 336.8L362.5 336.7L362.7 336.7L362.9 336.7L363.1 336.7L363.3 336.8L363.5 336.9L363.7 337.0L363.9 337.0L364.1 337.1L364.3 337.2L364.6 337.2L364.8 337.2L365.0 337.2L365.2 337.3L365.4 337.3L365.6 337.3L365.8 337.3L366.0 337.3L366.2 337.4L366.4 337.4L366.6 337.5L366.8 337.5L367.1 337.6L367.3 337.7L367.5 337.7L367.7 337.8L367.9 337.8L368.1 337.8L368.3 337.8L368.5 337.7L368.7 337.7L368.9 337.8L369.1 337.8L369.4 337.8L369.6 337.9L369.8 337.9L370.0 337.9L370.2 337.9L370.4 337.9L370.6 337.8L370.8 337.8L371.0 337.8L371.2 337.8L371.4 337.7L371.6 337.7L371.9 337.7L372.1 337.7L372.3 337.8L372.5 337.8L372.7 337.8L372.9 337.8L373.1 337.8L373.3 337.8L373.5 337.9L373.7 337.9L373.9 337.9L374.1 337.9L374.4 337.9L374.6 337.9L374.8 337.9L375.0 337.8L375.2 337.8L375.4 337.8L375.6 337.8L375.8 337.8L376.0 337.8L376.2 337.8L376.4 337.8L376.7 337.8L376.9 337.9L377.1 337.9L377.3 337.9L377.5 337.8L377.7 337.8L377.9 337.8L378.1 337.8L378.3 337.7L378.5 337.7L378.7 337.7L378.9 337.7L379.2 337.7L379.4 337.7L379.6 337.7L379.8 337.7L380.0 337.6L380.2 337.6L380.4 337.5L380.6 337.5L380.8 337.4L381.0 337.4L381.2 337.4L381.5 337.4L381.7 337.4L381.9 337.4L382.1 337.4L382.3 337.4L382.5 337.3L382.7 337.3L382.9 337.3L383.1 337.3L383.3 337.3L383.5 337.3L383.7 337.4L384.0 337.4L384.2 337.4L384.4 337.5L384.6 337.5L384.8 337.5L385.0 337.6L385.2 337.6L385.4 337.7L385.6 337.7L385.8 337.8L386.0 337.8L386.3 337.8L386.5 337.8L386.7 337.8L386.9 337.8L387.1 337.8L387.3 337.8L387.5 337.8L387.7 337.8L387.9 337.8L388.1 337.8L388.3 337.8L388.5 337.8L388.8 337.8L389.0 337.8L389.2 337.8L389.4 337.8L389.6 337.8L389.8 337.7L390.0 337.7L390.2 337.7L390.4 337.7L390.6 337.7L390.8 337.7L391.0 337.7L391.3 337.7L391.5 337.7L391.7 337.7L391.9 337.7L392.1 337.7L392.3 337.7L392.5 337.7L392.7 337.7L392.9 337.7L393.1 337.7L393.3 337.8L393.6 337.8L393.8 337.7L394.0 337.7L394.2 337.7L394.4 337.7L394.6 337.7L394.8 337.7L395.0 337.7L395.2 337.7L395.4 337.8L395.6 337.8L395.8 337.8L396.1 337.8L396.3 337.8L396.5 337.8L396.7 337.8L396.9 337.8L397.1 337.9L397.3 337.9L397.5 337.9L397.7 337.8L397.9 337.8L398.1 337.8L398.4 337.8L398.6 337.8L398.8 337.8L399.0 337.8L399.2 337.9L399.4 338.0L399.6 338.0L399.8 338.0L400.0 338.0L400.2 338.0L400.4 338.0L400.6 338.0L400.9 337.9L401.1 337.9L401.3 337.9L401.5 337.9L401.7 337.9L401.9 337.9L402.1 337.9L402.3 337.8L402.5 337.8L402.7 337.8L402.9 337.8L403.2 337.8L403.4 337.8L403.6 337.8L403.8 337.8L404.0 337.9L404.2 337.9L404.4 337.9L404.6 337.8L404.8 337.8L405.0 337.8L405.2 337.8L405.4 337.7L405.7 337.7L405.9 337.7L406.1 337.7L406.3 337.6L406.5 337.6L406.7 337.6L406.9 337.5L407.1 337.5L407.3 337.5L407.5 337.5L407.7 337.4L407.9 337.4L408.2 337.4L408.4 337.4L408.6 337.3L408.8 337.3L409.0 337.2L409.2 337.2L409.4 337.1L409.6 337.1L409.8 337.1L410.0 337.1L410.2 337.0L410.5 337.0L410.7 337.0L410.9 336.9L411.1 336.9L411.3 336.8L411.5 336.7L411.7 336.6L411.9 336.5L412.1 336.5L412.3 336.4L412.5 336.3L412.7 336.1L413.0 335.9L413.2 335.8L413.4 335.6L413.6 335.5L413.8 335.3L414.0 335.1L414.2 334.9L414.4 334.6L414.6 334.2L414.8 333.9L415.0 333.4L415.3 333.0L415.5 332.4L415.7 331.8L415.9 331.1L416.1 330.2L416.3 329.2L416.5 328.1L416.7 326.7L416.9 325.0L417.1 323.0L417.3 320.5L417.5 317.6L417.8 314.0L418.0 309.8L418.2 304.9L418.4 299.3L418.6 293.3L418.8 287.4L419.0 282.4L419.2 279.2L419.4 278.4L419.6 280.0L419.8 283.4L420.1 287.6L420.3 292.0L420.5 296.2L420.7 300.0L420.9 303.6L421.1 307.2L421.3 310.7L421.5 314.1L421.7 317.3L421.9 320.1L422.1 322.5L422.3 324.5L422.6 326.3L422.8 327.7L423.0 328.9L423.2 330.0L423.4 330.9L423.6 331.6L423.8 332.3L424.0 332.9L424.2 333.4L424.4 333.8L424.6 334.2L424.8 334.5L425.1 334.8L425.3 335.0L425.5 335.2L425.7 335.5L425.9 335.7L426.1 335.9L426.3 336.0L426.5 336.2L426.7 336.3L426.9 336.4L427.1 336.5L427.4 336.6L427.6 336.7L427.8 336.7L428.0 336.8L428.2 336.8L428.4 336.9L428.6 337.0L428.8 337.0L429.0 337.1L429.2 337.2L429.4 337.2L429.6 337.2L429.9 337.2L430.1 337.2L430.3 337.2L430.5 337.3L430.7 337.4L430.9 337.4L431.1 337.4L431.3 337.4L431.5 337.4L431.7 337.4L431.9 337.4L432.2 337.5L432.4 337.5L432.6 337.5L432.8 337.5L433.0 337.5L433.2 337.5L433.4 337.5L433.6 337.5L433.8 337.5L434.0 337.5L434.2 337.6L434.4 337.6L434.7 337.6L434.9 337.6L435.1 337.6L435.3 337.7L435.5 337.7L435.7 337.7L435.9 337.7L436.1 337.8L436.3 337.8L436.5 337.8L436.7 337.8L437.0 337.8L437.2 337.8L437.4 337.8L437.6 337.7L437.8 337.7L438.0 337.7L438.2 337.7L438.4 337.8L438.6 337.8L438.8 337.8L439.0 337.7L439.2 337.7L439.5 337.7L439.7 337.7L439.9 337.7L440.1 337.7L440.3 337.7L440.5 337.7L440.7 337.7L440.9 337.7L441.1 337.7L441.3 337.6L441.5 337.6L441.7 337.6L442.0 337.5L442.2 337.5L442.4 337.4L442.6 337.4L442.8 337.3L443.0 337.3L443.2 337.3L443.4 337.3L443.6 337.2L443.8 337.1L444.0 337.1L444.3 337.0L444.5 336.8L444.7 336.7L444.9 336.6L445.1 336.4L445.3 336.2L445.5 336.0L445.7 335.7L445.9 335.3L446.1 334.9L446.3 334.4L446.5 333.8L446.8 333.1L447.0 332.2L447.2 331.4L447.4 330.5L447.6 329.8L447.8 329.3L448.0 329.2L448.2 329.4L448.4 329.9L448.6 330.6L448.8 331.2L449.1 331.8L449.3 332.4L449.5 332.9L449.7 333.4L449.9 333.8L450.1 334.3L450.3 334.7L450.5 335.1L450.7 335.5L450.9 335.8L451.1 336.1L451.3 336.3L451.6 336.5L451.8 336.7L452.0 336.8L452.2 337.0L452.4 337.1L452.6 337.1L452.8 337.2L453.0 337.3L453.2 337.4L453.4 337.5L453.6 337.5L453.9 337.6L454.1 337.7L454.3 337.7L454.5 337.8L454.7 337.8L454.9 337.8L455.1 337.8L455.3 337.7L455.5 337.7L455.7 337.7L455.9 337.7L456.1 337.7L456.4 337.7L456.6 337.8L456.8 337.8L457.0 337.8L457.2 337.8L457.4 337.8L457.6 337.8L457.8 337.9L458.0 337.9L458.2 337.9L458.4 337.9L458.6 337.9L458.9 338.0L459.1 338.0L459.3 338.0L459.5 338.0L459.7 338.0L459.9 338.0L460.1 338.0L460.3 338.0L460.5 338.0L460.7 338.0L460.9 338.0L461.2 338.0L461.4 338.0L461.6 338.0L461.8 338.0L462.0 338.0L462.2 338.0L462.4 338.0L462.6 337.9L462.8 337.9L463.0 337.9L463.2 337.9L463.4 337.9L463.7 337.9L463.9 337.9L464.1 338.0L464.3 338.0L464.5 338.1L464.7 338.1L464.9 338.1L465.1 338.0L465.3 338.0L465.5 338.0L465.7 337.9L466.0 337.9L466.2 337.9L466.4 337.9L466.6 337.9L466.8 337.9L467.0 338.0L467.2 338.0L467.4 338.1L467.6 338.1L467.8 338.1L468.0 338.1L468.2 338.2L468.5 338.2L468.7 338.2L468.9 338.2L469.1 338.1L469.3 338.1L469.5 338.1L469.7 338.0L469.9 338.0L470.1 338.0L470.3 338.0L470.5 338.0L470.8 338.0L471.0 338.0L471.2 338.0L471.4 338.0L471.6 338.0L471.8 338.0L472.0 338.0L472.2 338.0L472.4 338.0L472.6 338.0L472.8 338.0L473.0 338.1L473.3 338.1L473.5 338.1L473.7 338.1L473.9 338.1L474.1 338.1L474.3 338.1L474.5 338.1L474.7 338.1L474.9 338.1L475.1 338.1L475.3 338.1L475.5 338.0L475.8 338.0L476.0 338.0L476.2 338.0L476.4 338.0L476.6 338.0L476.8 338.0L477.0 338.0L477.2 338.0L477.4 338.0L477.6 338.0L477.8 338.0L478.1 338.0L478.3 338.0L478.5 338.0L478.7 338.0L478.9 338.0L479.1 338.0L479.3 338.0L479.5 338.0L479.7 338.0L479.9 338.0L480.1 338.0L480.3 338.0L480.6 338.1L480.8 338.1L481.0 338.1L481.2 338.1L481.4 338.1L481.6 338.1L481.8 338.1L482.0 338.1L482.2 338.1L482.4 338.1L482.6 338.0L482.9 338.1L483.1 338.1L483.3 338.1L483.5 338.1L483.7 338.1L483.9 338.1L484.1 338.1L484.3 338.1L484.5 338.0L484.7 338.0L484.9 338.0L485.1 338.0L485.4 338.0L485.6 338.1L485.8 338.1L486.0 338.1L486.2 338.0L486.4 338.0L486.6 338.0L486.8 338.0L487.0 338.0L487.2 338.1L487.4 338.1L487.7 338.1L487.9 338.1L488.1 338.1L488.3 338.1L488.5 338.1L488.7 338.1L488.9 338.1L489.1 338.1L489.3 338.1L489.5 338.1L489.7 338.1L489.9 338.1L490.2 338.1L490.4 338.1L490.6 338.1L490.8 338.1L491.0 338.1L491.2 338.1L491.4 338.0L491.6 338.0L491.8 338.0L492.0 338.0L492.2 338.0L492.4 338.0L492.7 338.0L492.9 338.0L493.1 338.1L493.3 338.1L493.5 338.1L493.7 338.1L493.9 338.2L494.1 338.1L494.3 338.1L494.5 338.1L494.7 338.1L495.0 338.0L495.2 338.0L495.4 338.1L495.6 338.1L495.8 338.1L496.0 338.1L496.2 338.1L496.4 338.1L496.6 338.1L496.8 338.1L497.0 338.1L497.2 338.1L497.5 338.0L497.7 338.0L497.9 338.0L498.1 338.0L498.3 338.1L498.5 338.1L498.7 338.1L498.9 338.1L499.1 338.1L499.3 338.1L499.5 338.1L499.8 338.1L500.0 338.1L500.2 338.1L500.4 338.0L500.6 338.0L500.8 338.0L501.0 338.0L501.2 338.0L501.4 338.0L501.6 338.0L501.8 338.0L502.0 338.0L502.3 338.0L502.5 338.0L502.7 338.0L502.9 338.0L503.1 337.9L503.3 337.9L503.5 337.9L503.7 337.8L503.9 337.8L504.1 337.8L504.3 337.7L504.5 337.7L504.8 337.7L505.0 337.7L505.2 337.6L505.4 337.6L505.6 337.6L505.8 337.5L506.0 337.5L506.2 337.5L506.4 337.4L506.6 337.4L506.8 337.4L507.1 337.3L507.3 337.3L507.5 337.3L507.7 337.2L507.9 337.2L508.1 337.2L508.3 337.2L508.5 337.3L508.7 337.3L508.9 337.4L509.1 337.4L509.3 337.5L509.6 337.5L509.8 337.6L510.0 337.6L510.2 337.6L510.4 337.6L510.6 337.7L510.8 337.7L511.0 337.7L511.2 337.7L511.4 337.7L511.6 337.7L511.9 337.7L512.1 337.8L512.3 337.9L512.5 337.9L512.7 337.9L512.9 337.9L513.1 337.9L513.3 337.9L513.5 337.9L513.7 337.9L513.9 337.9L514.1 337.9L514.4 337.9L514.6 337.9L514.8 337.9L515.0 337.9L515.2 337.9L515.4 337.9L515.6 337.9L515.8 337.9L516.0 338.0L516.2 338.0L516.4 338.0L516.7 338.0L516.9 338.0L517.1 338.0L517.3 338.0L517.5 338.0L517.7 338.0L517.9 338.0L518.1 338.0L518.3 338.0L518.5 338.0L518.7 338.0L518.9 338.0L519.2 338.0L519.4 338.0L519.6 338.0L519.8 338.0L520.0 338.0L520.2 338.0L520.4 338.0L520.6 338.0L520.8 338.1L521.0 338.1L521.2 338.0L521.4 338.0L521.7 338.0L521.9 338.0L522.1 338.0L522.3 338.0L522.5 338.0L522.7 338.0L522.9 338.0L523.1 338.0L523.3 338.0L523.5 338.1L523.7 338.1L524.0 338.0L524.2 338.0L524.4 338.0L524.6 338.0L524.8 338.0L525.0 338.0L525.2 338.1L525.4 338.1L525.6 338.0L525.8 338.0L526.0 338.0L526.2 338.0L526.5 338.0L526.7 338.0L526.9 338.0L527.1 338.0L527.3 338.0L527.5 338.0L527.7 338.1L527.9 338.1L528.1 338.1L528.3 338.1L528.5 338.2L528.8 338.2L529.0 338.2L529.2 338.2L529.4 338.2L529.6 338.1L529.8 338.1L530.0 338.1L530.2 338.1L530.4 338.1L530.6 338.1L530.8 338.1L531.0 338.0L531.3 338.0L531.5 338.0L531.7 338.0L531.9 338.0L532.1 338.0L532.3 338.0L532.5 338.1L532.7 338.1L532.9 338.1L533.1 338.1L533.3 338.1L533.6 338.0L533.8 338.0L534.0 338.1L534.2 338.1L534.4 338.2L534.6 338.2L534.8 338.2L535.0 338.2L535.2 338.2L535.4 338.1L535.6 338.1L535.8 338.1L536.1 338.1L536.3 338.1L536.5 338.1L536.7 338.1L536.9 338.1L537.1 338.1L537.3 338.1L537.5 338.1L537.7 338.1L537.9 338.1L538.1 338.1L538.3 338.1L538.6 338.1L538.8 338.1L539.0 338.1L539.2 338.1L539.4 338.1L539.6 338.1L539.8 338.1L540.0 338.0L540.2 338.0L540.4 338.0"/>
<path stroke="#008000" d="M39.7 278.3L39.9 278.3L40.1 278.2L40.3 278.1L40.5 278.1L40.7 278.2L41.0 278.3L41.2 278.4L41.4 278.3L41.6 278.2L41.8 278.1L42.0 278.1L42.2 278.2L42.4 278.4L42.6 278.6L42.8 278.7L43.0 278.8L43.2 278.7L43.5 278.5L43.7 278.3L43.9 278.2L44.1 278.1L44.3 278.1L44.5 278.2L44.7 278.2L44.9 278.3L45.1 278.3L45.3 278.2L45.5 278.1L45.8 278.1L46.0 278.2L46.2 278.4L46.4 278.5L46.6 278.6L46.8 278.6L47.0 278.6L47.2 278.6L47.4 278.6L47.6 278.7L47.8 278.6L48.0 278.5L48.3 278.3L48.5 278.0L48.7 277.9L48.9 277.9L49.1 278.1L49.3 278.5L49.5 278.8L49.7 279.1L49.9 279.1L50.1 279.0L50.3 278.7L50.5 278.4L50.8 278.1L51.0 278.0L51.2 278.0L51.4 277.9L51.6 278.0L51.8 278.0L52.0 278.0L52.2 277.9L52.4 277.8L52.6 277.7L52.8 277.7L53.1 277.7L53.3 277.8L53.5 277.9L53.7 278.1L53.9 278.3L54.1 278.4L54.3 278.5L54.5 278.7L54.7 278.9L54.9 279.1L55.1 279.1L55.3 279.0L55.6 278.8L55.8 278.7L56.0 278.5L56.2 278.3L56.4 278.2L56.6 278.2L56.8 278.3L57.0 278.5L57.2 278.7L57.4 278.9L57.6 279.0L57.9 279.0L58.1 279.0L58.3 278.9L58.5 278.8L58.7 278.7L58.9 278.5L59.1 278.3L59.3 278.2L59.5 278.1L59.7 278.2L59.9 278.2L60.1 278.3L60.4 278.4L60.6 278.4L60.8 278.3L61.0 278.2L61.2 278.0L61.4 277.9L61.6 277.9L61.8 278.1L62.0 278.2L62.2 278.4L62.4 278.5L62.7 278.5L62.9 278.5L63.1 278.5L63.3 278.4L63.5 278.4L63.7 278.4L63.9 278.3L64.1 278.3L64.3 278.2L64.5 278.2L64.7 278.2L64.9 278.2L65.2 278.1L65.4 278.1L65.6 278.1L65.8 278.1L66.0 278.2L66.2 278.3L66.4 278.5L66.6 278.6L66.8 278.6L67.0 278.7L67.2 278.7L67.4 278.7L67.7 278.6L67.9 278.5L68.1 278.3L68.3 278.0L68.5 277.8L68.7 277.7L68.9 277.8L69.1 278.0L69.3 278.2L69.5 278.3L69.7 278.4L70.0 278.4L70.2 278.4L70.4 278.4L70.6 278.3L70.8 278.3L71.0 278.3L71.2 278.3L71.4 278.3L71.6 278.3L71.8 278.2L72.0 278.2L72.2 278.2L72.5 278.2L72.7 278.3L72.9 278.3L73.1 278.2L73.3 278.2L73.5 278.1L73.7 278.2L73.9 278.2L74.1 278.3L74.3 278.3L74.5 278.3L74.8 278.4L75.0 278.6L75.2 278.7L75.4 278.7L75.6 278.6L75.8 278.5L76.0 278.4L76.2 278.3L76.4 278.2L76.6 278.2L76.8 278.3L77.0 278.4L77.3 278.4L77.5 278.5L77.7 278.7L77.9 278.8L78.1 278.8L78.3 278.8L78.5 278.7L78.7 278.5L78.9 278.4L79.1 278.4L79.3 278.4L79.6 278.4L79.8 278.3L80.0 278.3L80.2 278.2L80.4 278.1L80.6 277.9L80.8 277.8L81.0 277.8L81.2 277.7L81.4 277.7L81.6 277.6L81.8 277.5L82.1 277.3L82.3 277.1L82.5 277.0L82.7 276.8L82.9 276.5L83.1 276.2L83.3 275.7L83.5 274.9L83.7 273.9L83.9 272.7L84.1 271.4L84.3 270.1L84.6 269.0L84.8 268.1L85.0 267.7L85.2 267.8L85.4 268.3L85.6 269.1L85.8 270.1L86.0 271.3L86.2 272.4L86.4 273.4L86.6 274.2L86.9 274.8L87.1 275.3L87.3 275.6L87.5 275.8L87.7 276.0L87.9 276.1L88.1 276.2L88.3 276.3L88.5 276.2L88.7 276.1L88.9 275.8L89.1 275.5L89.4 275.2L89.6 274.9L89.8 274.4L90.0 273.8L90.2 273.1L90.4 272.1L90.6 271.3L90.8 270.6L91.0 270.2L91.2 270.2L91.4 270.6L91.7 271.2L91.9 272.1L92.1 273.0L92.3 274.0L92.5 274.9L92.7 275.6L92.9 276.2L93.1 276.5L93.3 276.7L93.5 276.8L93.7 276.9L93.9 277.1L94.2 277.2L94.4 277.5L94.6 277.7L94.8 277.9L95.0 278.0L95.2 278.0L95.4 278.0L95.6 278.0L95.8 278.1L96.0 278.1L96.2 278.1L96.5 278.1L96.7 278.1L96.9 278.1L97.1 278.1L97.3 278.1L97.5 278.1L97.7 278.1L97.9 278.2L98.1 278.3L98.3 278.4L98.5 278.4L98.7 278.5L99.0 278.4L99.2 278.4L99.4 278.3L99.6 278.2L99.8 278.2L100.0 278.1L100.2 278.1L100.4 278.2L100.6 278.3L100.8 278.3L101.0 278.4L101.2 278.4L101.5 278.4L101.7 278.4L101.9 278.5L102.1 278.5L102.3 278.6L102.5 278.6L102.7 278.5L102.9 278.4L103.1 278.2L103.3 278.1L103.5 278.0L103.8 277.8L104.0 277.8L104.2 277.8L104.4 277.8L104.6 277.9L104.8 278.0L105.0 278.1L105.2 278.1L105.4 278.2L105.6 278.4L105.8 278.5L106.0 278.6L106.3 278.7L106.5 278.6L106.7 278.5L106.9 278.4L107.1 278.3L107.3 278.2L107.5 278.3L107.7 278.3L107.9 278.4L108.1 278.5L108.3 278.6L108.6 278.8L108.8 278.8L109.0 278.8L109.2 278.7L109.4 278.6L109.6 278.5L109.8 278.4L110.0 278.3L110.2 278.2L110.4 278.1L110.6 278.1L110.8 278.1L111.1 278.1L111.3 278.2L111.5 278.3L111.7 278.3L111.9 278.2L112.1 278.0L112.3 277.7L112.5 277.5L112.7 277.3L112.9 277.3L113.1 277.3L113.3 277.4L113.6 277.5L113.8 277.5L114.0 277.4L114.2 277.3L114.4 277.1L114.6 276.9L114.8 276.7L115.0 276.5L115.2 276.2L115.4 276.0L115.6 275.6L115.9 275.3L116.1 274.9L116.3 274.6L116.5 274.4L116.7 274.4L116.9 274.5L117.1 274.7L117.3 274.7L117.5 274.6L117.7 274.3L117.9 273.9L118.1 273.4L118.4 272.8L118.6 271.9L118.8 270.8L119.0 269.4L119.2 267.5L119.4 265.2L119.6 262.3L119.8 258.9L120.0 255.1L120.2 251.3L120.4 248.1L120.7 245.8L120.9 245.0L121.1 245.8L121.3 247.8L121.5 250.6L121.7 253.9L121.9 257.3L122.1 260.5L122.3 263.4L122.5 265.9L122.7 267.8L122.9 269.2L123.2 270.1L123.4 270.8L123.6 271.1L123.8 271.3L124.0 271.3L124.2 271.2L124.4 270.9L124.6 270.3L124.8 269.6L125.0 268.5L125.2 267.1L125.5 265.3L125.7 262.9L125.9 259.8L126.1 255.9L126.3 250.8L126.5 244.4L126.7 236.4L126.9 226.4L127.1 214.5L127.3 200.7L127.5 185.8L127.7 171.0L128.0 158.3L128.2 149.7L128.4 146.7L128.6 149.7L128.8 157.9L129.0 169.6L129.2 183.3L129.4 197.4L129.6 210.8L129.8 222.8L130.0 233.1L130.2 241.6L130.5 248.5L130.7 254.1L130.9 258.6L131.1 262.3L131.3 265.2L131.5 267.6L131.7 269.5L131.9 270.9L132.1 272.0L132.3 272.9L132.5 273.5L132.8 274.0L133.0 274.5L133.2 274.8L133.4 275.2L133.6 275.5L133.8 275.9L134.0 276.3L134.2 276.7L134.4 277.0L134.6 277.3L134.8 277.6L135.0 277.7L135.3 277.7L135.5 277.7L135.7 277.7L135.9 277.7L136.1 277.7L136.3 277.7L136.5 277.8L136.7 277.8L136.9 277.8L137.1 277.9L137.3 278.0L137.6 278.0L137.8 278.0L138.0 278.0L138.2 278.1L138.4 278.2L138.6 278.2L138.8 278.3L139.0 278.3L139.2 278.2L139.4 278.2L139.6 278.2L139.8 278.1L140.1 278.1L140.3 278.1L140.5 278.1L140.7 278.1L140.9 278.1L141.1 278.0L141.3 278.0L141.5 278.0L141.7 278.0L141.9 278.1L142.1 278.1L142.4 278.1L142.6 278.2L142.8 278.2L143.0 278.3L143.2 278.4L143.4 278.4L143.6 278.4L143.8 278.4L144.0 278.3L144.2 278.2L144.4 278.1L144.6 278.0L144.9 277.9L145.1 277.9L145.3 277.9L145.5 277.9L145.7 277.9L145.9 277.9L146.1 277.9L146.3 277.9L146.5 277.8L146.7 277.8L146.9 277.8L147.1 277.8L147.4 277.8L147.6 277.8L147.8 277.9L148.0 278.0L148.2 278.0L148.4 278.1L148.6 278.1L148.8 278.2L149.0 278.3L149.2 278.3L149.4 278.4L149.7 278.4L149.9 278.4L150.1 278.3L150.3 278.3L150.5 278.3L150.7 278.3L150.9 278.3L151.1 278.3L151.3 278.3L151.5 278.3L151.7 278.2L151.9 278.0L152.2 277.9L152.4 277.9L152.6 277.9L152.8 277.9L153.0 277.8L153.2 277.9L153.4 278.0L153.6 278.1L153.8 278.3L154.0 278.4L154.2 278.5L154.5 278.5L154.7 278.4L154.9 278.3L155.1 278.3L155.3 278.3L155.5 278.3L155.7 278.2L155.9 278.2L156.1 278.1L156.3 278.1L156.5 278.1L156.7 278.1L157.0 278.1L157.2 278.2L157.4 278.3L157.6 278.4L157.8 278.4L158.0 278.5L158.2 278.5L158.4 278.4L158.6 278.4L158.8 278.3L159.0 278.3L159.3 278.3L159.5 278.3L159.7 278.5L159.9 278.6L160.1 278.7L160.3 278.7L160.5 278.6L160.7 278.5L160.9 278.3L161.1 278.2L161.3 278.1L161.5 278.0L161.8 278.0L162.0 278.0L162.2 278.0L162.4 278.0L162.6 278.0L162.8 278.1L163.0 278.1L163.2 278.2L163.4 278.2L163.6 278.3L163.8 278.3L164.0 278.2L164.3 278.2L164.5 278.2L164.7 278.2L164.9 278.2L165.1 278.2L165.3 278.2L165.5 278.2L165.7 278.2L165.9 278.2L166.1 278.2L166.3 278.2L166.6 278.3L166.8 278.3L167.0 278.4L167.2 278.4L167.4 278.4L167.6 278.3L167.8 278.2L168.0 278.1L168.2 278.1L168.4 278.1L168.6 278.1L168.8 278.1L169.1 278.1L169.3 278.0L169.5 277.9L169.7 277.8L169.9 277.8L170.1 277.7L170.3 277.6L170.5 277.5L170.7 277.4L170.9 277.3L171.1 277.2L171.4 277.1L171.6 276.9L171.8 276.7L172.0 276.4L172.2 276.1L172.4 275.8L172.6 275.4L172.8 275.0L173.0 274.5L173.2 273.8L173.4 272.8L173.6 271.5L173.9 269.9L174.1 267.7L174.3 264.9L174.5 261.6L174.7 257.6L174.9 253.1L175.1 248.2L175.3 243.4L175.5 239.2L175.7 236.4L175.9 235.3L176.2 236.2L176.4 238.7L176.6 242.3L176.8 246.5L177.0 250.9L177.2 255.1L177.4 258.9L177.6 262.3L177.8 265.2L178.0 267.6L178.2 269.6L178.4 271.2L178.7 272.5L178.9 273.6L179.1 274.4L179.3 275.1L179.5 275.6L179.7 276.1L179.9 276.4L180.1 276.6L180.3 276.8L180.5 277.0L180.7 277.2L180.9 277.4L181.2 277.6L181.4 277.7L181.6 277.8L181.8 277.8L182.0 277.8L182.2 277.7L182.4 277.7L182.6 277.7L182.8 277.8L183.0 277.8L183.2 277.8L183.5 277.9L183.7 277.9L183.9 278.0L184.1 278.1L184.3 278.1L184.5 278.2L184.7 278.3L184.9 278.4L185.1 278.4L185.3 278.4L185.5 278.4L185.7 278.4L186.0 278.5L186.2 278.5L186.4 278.5L186.6 278.5L186.8 278.5L187.0 278.5L187.2 278.5L187.4 278.4L187.6 278.3L187.8 278.1L188.0 278.0L188.3 277.9L188.5 277.8L188.7 277.9L188.9 277.9L189.1 278.1L189.3 278.2L189.5 278.2L189.7 278.2L189.9 278.1L190.1 278.1L190.3 278.1L190.5 278.2L190.8 278.3L191.0 278.4L191.2 278.5L191.4 278.6L191.6 278.6L191.8 278.6L192.0 278.5L192.2 278.5L192.4 278.5L192.6 278.4L192.8 278.4L193.1 278.4L193.3 278.3L193.5 278.3L193.7 278.2L193.9 278.1L194.1 278.0L194.3 277.9L194.5 277.8L194.7 277.7L194.9 277.5L195.1 277.4L195.3 277.3L195.6 277.3L195.8 277.3L196.0 277.3L196.2 277.3L196.4 277.1L196.6 276.9L196.8 276.6L197.0 276.2L197.2 275.8L197.4 275.5L197.6 275.3L197.8 275.3L198.1 275.5L198.3 275.7L198.5 276.0L198.7 276.2L198.9 276.4L199.1 276.5L199.3 276.7L199.5 276.9L199.7 277.2L199.9 277.5L200.1 277.8L200.4 278.0L200.6 278.1L200.8 278.2L201.0 278.1L201.2 278.0L201.4 277.9L201.6 277.8L201.8 277.7L202.0 277.7L202.2 277.7L202.4 277.7L202.6 277.8L202.9 278.0L203.1 278.2L203.3 278.3L203.5 278.5L203.7 278.6L203.9 278.7L204.1 278.8L204.3 278.8L204.5 278.8L204.7 278.8L204.9 278.7L205.2 278.7L205.4 278.6L205.6 278.5L205.8 278.4L206.0 278.4L206.2 278.4L206.4 278.3L206.6 278.2L206.8 278.2L207.0 278.2L207.2 278.2L207.4 278.2L207.7 278.2L207.9 278.2L208.1 278.2L208.3 278.2L208.5 278.2L208.7 278.2L208.9 278.2L209.1 278.3L209.3 278.4L209.5 278.5L209.7 278.5L210.0 278.5L210.2 278.5L210.4 278.4L210.6 278.4L210.8 278.4L211.0 278.5L211.2 278.5L211.4 278.5L211.6 278.5L211.8 278.5L212.0 278.5L212.2 278.5L212.5 278.5L212.7 278.6L212.9 278.6L213.1 278.5L213.3 278.5L213.5 278.5L213.7 278.4L213.9 278.4L214.1 278.3L214.3 278.2L214.5 278.2L214.7 278.2L215.0 278.2L215.2 278.2L215.4 278.3L215.6 278.3L215.8 278.3L216.0 278.3L216.2 278.2L216.4 278.1L216.6 278.1L216.8 278.0L217.0 278.0L217.3 278.1L217.5 278.1L217.7 278.2L217.9 278.2L218.1 278.2L218.3 278.2L218.5 278.3L218.7 278.3L218.9 278.4L219.1 278.5L219.3 278.6L219.5 278.7L219.8 278.7L220.0 278.7L220.2 278.7L220.4 278.7L220.6 278.6L220.8 278.5L221.0 278.3L221.2 278.1L221.4 278.0L221.6 278.0L221.8 278.1L222.1 278.2L222.3 278.3L222.5 278.3L222.7 278.3L222.9 278.3L223.1 278.4L223.3 278.4L223.5 278.3L223.7 278.3L223.9 278.2L224.1 278.1L224.3 278.1L224.6 278.1L224.8 278.2L225.0 278.2L225.2 278.2L225.4 278.2L225.6 278.1L225.8 278.1L226.0 278.1L226.2 278.1L226.4 278.1L226.6 278.1L226.9 278.1L227.1 278.1L227.3 278.1L227.5 278.2L227.7 278.3L227.9 278.4L228.1 278.5L228.3 278.5L228.5 278.4L228.7 278.4L228.9 278.3L229.1 278.2L229.4 278.3L229.6 278.3L229.8 278.4L230.0 278.4L230.2 278.5L230.4 278.5L230.6 278.5L230.8 278.5L231.0 278.4L231.2 278.4L231.4 278.3L231.6 278.2L231.9 278.1L232.1 278.0L232.3 278.0L232.5 278.0L232.7 278.0L232.9 278.1L233.1 278.1L233.3 278.1L233.5 278.1L233.7 278.1L233.9 278.1L234.2 278.1L234.4 278.1L234.6 278.1L234.8 278.1L235.0 278.0L235.2 277.9L235.4 277.9L235.6 278.0L235.8 278.1L236.0 278.2L236.2 278.3L236.4 278.3L236.7 278.3L236.9 278.2L237.1 278.2L237.3 278.2L237.5 278.2L237.7 278.3L237.9 278.4L238.1 278.4L238.3 278.4L238.5 278.4L238.7 278.4L239.0 278.3L239.2 278.2L239.4 278.2L239.6 278.1L239.8 278.2L240.0 278.2L240.2 278.2L240.4 278.2L240.6 278.2L240.8 278.2L241.0 278.1L241.2 278.1L241.5 278.1L241.7 278.2L241.9 278.3L242.1 278.4L242.3 278.6L242.5 278.7L242.7 278.7L242.9 278.6L243.1 278.5L243.3 278.4L243.5 278.3L243.7 278.2L244.0 278.2L244.2 278.2L244.4 278.2L244.6 278.3L244.8 278.4L245.0 278.4L245.2 278.4L245.4 278.4L245.6 278.4L245.8 278.3L246.0 278.2L246.3 278.1L246.5 278.0L246.7 278.0L246.9 278.1L247.1 278.1L247.3 278.2L247.5 278.2L247.7 278.2L247.9 278.2L248.1 278.1L248.3 278.1L248.5 278.1L248.8 278.1L249.0 278.1L249.2 278.1L249.4 278.1L249.6 278.1L249.8 278.1L250.0 278.1L250.2 278.1L250.4 278.2L250.6 278.3L250.8 278.3L251.1 278.4L251.3 278.5L251.5 278.5L251.7 278.5L251.9 278.5L252.1 278.4L252.3 278.4L252.5 278.3L252.7 278.3L252.9 278.2L253.1 278.1L253.3 278.0L253.6 277.9L253.8 277.8L254.0 277.8L254.2 277.9L254.4 277.9L254.6 278.0L254.8 278.1L255.0 278.2L255.2 278.3L255.4 278.3L255.6 278.2L255.9 278.2L256.1 278.1L256.3 278.1L256.5 278.1L256.7 278.1L256.9 278.1L257.1 278.1L257.3 278.1L257.5 278.2L257.7 278.2L257.9 278.2L258.1 278.2L258.4 278.2L258.6 278.1L258.8 278.1L259.0 278.1L259.2 278.1L259.4 278.1L259.6 278.2L259.8 278.3L260.0 278.4L260.2 278.5L260.4 278.4L260.6 278.4L260.9 278.3L261.1 278.3L261.3 278.2L261.5 278.2L261.7 278.1L261.9 278.1L262.1 278.1L262.3 278.1L262.5 278.2L262.7 278.3L262.9 278.3L263.2 278.3L263.4 278.3L263.6 278.3L263.8 278.2L264.0 278.2L264.2 278.3L264.4 278.3L264.6 278.3L264.8 278.4L265.0 278.4L265.2 278.4L265.4 278.4L265.7 278.3L265.9 278.3L266.1 278.2L266.3 278.1L266.5 278.1L266.7 278.1L266.9 278.1L267.1 278.2L267.3 278.3L267.5 278.3L267.7 278.4L268.0 278.4L268.2 278.4L268.4 278.4L268.6 278.4L268.8 278.4L269.0 278.3L269.2 278.3L269.4 278.3L269.6 278.4L269.8 278.4L270.0 278.4L270.2 278.3L270.5 278.3L270.7 278.3L270.9 278.2L271.1 278.2L271.3 278.2L271.5 278.2L271.7 278.2L271.9 278.3L272.1 278.3L272.3 278.3L272.5 278.3L272.8 278.3L273.0 278.3L273.2 278.4L273.4 278.4L273.6 278.5L273.8 278.6L274.0 278.5L274.2 278.4L274.4 278.3L274.6 278.2L274.8 278.1L275.0 278.1L275.3 278.1L275.5 278.1L275.7 278.1L275.9 278.1L276.1 278.1L276.3 278.0L276.5 278.0L276.7 278.0L276.9 278.0L277.1 278.1L277.3 278.1L277.5 278.1L277.8 278.1L278.0 278.1L278.2 278.2L278.4 278.3L278.6 278.3L278.8 278.3L279.0 278.3L279.2 278.3L279.4 278.3L279.6 278.2L279.8 278.1L280.1 278.0L280.3 277.9L280.5 277.9L280.7 277.9L280.9 278.0L281.1 278.0L281.3 278.0L281.5 278.0L281.7 278.0L281.9 277.9L282.1 277.8L282.3 277.8L282.6 277.7L282.8 277.7L283.0 277.7L283.2 277.7L283.4 277.7L283.6 277.7L283.8 277.6L284.0 277.6L284.2 277.5L284.4 277.3L284.6 277.2L284.9 277.0L285.1 276.8L285.3 276.6L285.5 276.5L285.7 276.3L285.9 276.1L286.1 276.0L286.3 275.8L286.5 275.6L286.7 275.4L286.9 275.1L287.1 274.7L287.4 274.2L287.6 273.6L287.8 272.8L288.0 271.8L288.2 270.7L288.4 269.4L288.6 267.9L288.8 266.5L289.0 265.3L289.2 264.6L289.4 264.3L289.7 264.6L289.9 265.3L290.1 266.2L290.3 267.2L290.5 268.2L290.7 269.2L290.9 270.3L291.1 271.2L291.3 272.1L291.5 272.9L291.7 273.6L291.9 274.2L292.2 274.7L292.4 275.2L292.6 275.6L292.8 276.0L293.0 276.2L293.2 276.4L293.4 276.5L293.6 276.6L293.8 276.7L294.0 276.7L294.2 276.8L294.4 276.9L294.7 277.0L294.9 277.1L295.1 277.2L295.3 277.2L295.5 277.2L295.7 277.2L295.9 277.2L296.1 277.2L296.3 277.1L296.5 277.1L296.7 277.1L297.0 277.0L297.2 277.0L297.4 277.0L297.6 276.9L297.8 276.9L298.0 276.7L298.2 276.6L298.4 276.3L298.6 276.0L298.8 275.7L299.0 275.4L299.2 275.0L299.5 274.7L299.7 274.3L299.9 273.8L300.1 273.2L300.3 272.4L300.5 271.5L300.7 270.4L300.9 269.1L301.1 267.7L301.3 266.1L301.5 264.5L301.8 263.0L302.0 262.0L302.2 261.7L302.4 262.1L302.6 263.0L302.8 264.1L303.0 265.4L303.2 266.7L303.4 268.0L303.6 269.2L303.8 270.4L304.0 271.4L304.3 272.3L304.5 273.1L304.7 273.7L304.9 274.3L305.1 274.8L305.3 275.2L305.5 275.6L305.7 275.9L305.9 276.1L306.1 276.3L306.3 276.5L306.6 276.6L306.8 276.7L307.0 276.8L307.2 276.9L307.4 277.0L307.6 277.2L307.8 277.3L308.0 277.4L308.2 277.4L308.4 277.4L308.6 277.3L308.8 277.3L309.1 277.4L309.3 277.4L309.5 277.5L309.7 277.6L309.9 277.7L310.1 277.8L310.3 277.9L310.5 277.9L310.7 277.9L310.9 278.0L311.1 278.0L311.3 278.0L311.6 278.0L311.8 278.0L312.0 278.0L312.2 277.9L312.4 278.0L312.6 278.0L312.8 278.1L313.0 278.2L313.2 278.2L313.4 278.1L313.6 278.0L313.9 277.9L314.1 277.8L314.3 277.7L314.5 277.7L314.7 277.7L314.9 277.8L315.1 277.8L315.3 277.9L315.5 277.9L315.7 277.9L315.9 277.9L316.1 277.9L316.4 277.8L316.6 277.8L316.8 277.8L317.0 277.8L317.2 277.8L317.4 277.8L317.6 277.8L317.8 277.8L318.0 277.7L318.2 277.7L318.4 277.7L318.7 277.7L318.9 277.7L319.1 277.7L319.3 277.6L319.5 277.5L319.7 277.4L319.9 277.2L320.1 277.1L320.3 276.8L320.5 276.6L320.7 276.4L320.9 276.1L321.2 276.0L321.4 275.8L321.6 275.5L321.8 275.3L322.0 274.9L322.2 274.4L322.4 273.7L322.6 272.7L322.8 271.6L323.0 270.2L323.2 268.6L323.5 266.5L323.7 264.0L323.9 260.9L324.1 257.0L324.3 252.1L324.5 246.1L324.7 238.9L324.9 230.4L325.1 220.9L325.3 211.0L325.5 202.0L325.7 195.2L326.0 191.7L326.2 192.0L326.4 195.7L326.6 201.6L326.8 208.7L327.0 216.1L327.2 223.4L327.4 230.6L327.6 237.3L327.8 243.7L328.0 249.3L328.2 254.3L328.5 258.5L328.7 262.0L328.9 264.9L329.1 267.2L329.3 269.1L329.5 270.6L329.7 271.8L329.9 272.8L330.1 273.7L330.3 274.4L330.5 274.9L330.8 275.4L331.0 275.8L331.2 276.1L331.4 276.3L331.6 276.5L331.8 276.7L332.0 276.8L332.2 277.0L332.4 277.1L332.6 277.3L332.8 277.4L333.0 277.5L333.3 277.5L333.5 277.5L333.7 277.5L333.9 277.5L334.1 277.4L334.3 277.4L334.5 277.4L334.7 277.4L334.9 277.4L335.1 277.5L335.3 277.6L335.6 277.7L335.8 277.9L336.0 278.0L336.2 278.0L336.4 278.1L336.6 278.1L336.8 278.1L337.0 278.2L337.2 278.2L337.4 278.1L337.6 278.0L337.8 278.0L338.1 277.9L338.3 277.9L338.5 278.0L338.7 278.1L338.9 278.1L339.1 278.2L339.3 278.3L339.5 278.3L339.7 278.3L339.9 278.3L340.1 278.2L340.4 278.2L340.6 278.2L340.8 278.2L341.0 278.2L341.2 278.2L341.4 278.2L341.6 278.2L341.8 278.2L342.0 278.2L342.2 278.1L342.4 278.1L342.6 278.1L342.9 278.1L343.1 278.1L343.3 278.0L343.5 278.0L343.7 278.0L343.9 278.0L344.1 278.0L344.3 278.0L344.5 278.0L344.7 278.1L344.9 278.1L345.1 278.1L345.4 278.1L345.6 278.0L345.8 277.9L346.0 277.9L346.2 277.9L346.4 277.9L346.6 277.9L346.8 277.9L347.0 277.9L347.2 277.9L347.4 277.9L347.7 277.9L347.9 277.9L348.1 277.9L348.3 277.9L348.5 277.8L348.7 277.8L348.9 277.8L349.1 277.8L349.3 277.8L349.5 277.8L349.7 277.8L349.9 277.9L350.2 278.0L350.4 278.0L350.6 278.0L350.8 278.0L351.0 277.9L351.2 277.8L351.4 277.7L351.6 277.5L351.8 277.4L352.0 277.3L352.2 277.2L352.5 277.1L352.7 277.0L352.9 276.9L353.1 276.8L353.3 276.7L353.5 276.6L353.7 276.6L353.9 276.7L354.1 276.8L354.3 276.9L354.5 277.0L354.7 277.1L355.0 277.2L355.2 277.3L355.4 277.5L355.6 277.6L355.8 277.6L356.0 277.6L356.2 277.6L356.4 277.5L356.6 277.4L356.8 277.4L357.0 277.4L357.3 277.3L357.5 277.2L357.7 277.1L357.9 277.0L358.1 277.0L358.3 276.9L358.5 276.8L358.7 276.8L358.9 276.7L359.1 276.6L359.3 276.5L359.5 276.3L359.8 276.1L360.0 275.8L360.2 275.5L360.4 275.1L360.6 274.7L360.8 274.2L361.0 273.7L361.2 273.1L361.4 272.4L361.6 271.6L361.8 270.9L362.0 270.2L362.3 269.7L362.5 269.4L362.7 269.4L362.9 269.7L363.1 270.1L363.3 270.7L363.5 271.3L363.7 272.0L363.9 272.7L364.1 273.3L364.3 273.9L364.6 274.4L364.8 274.8L365.0 275.2L365.2 275.6L365.4 275.9L365.6 276.2L365.8 276.4L366.0 276.5L366.2 276.7L366.4 276.9L366.6 277.1L366.8 277.3L367.1 277.4L367.3 277.4L367.5 277.4L367.7 277.4L367.9 277.4L368.1 277.4L368.3 277.5L368.5 277.6L368.7 277.6L368.9 277.7L369.1 277.8L369.4 277.9L369.6 277.9L369.8 278.0L370.0 278.0L370.2 278.0L370.4 278.0L370.6 278.0L370.8 278.0L371.0 278.0L371.2 278.1L371.4 278.1L371.6 278.2L371.9 278.2L372.1 278.1L372.3 278.0L372.5 278.0L372.7 277.9L372.9 277.9L373.1 277.9L373.3 277.9L373.5 277.8L373.7 277.8L373.9 277.8L374.1 277.8L374.4 277.8L374.6 278.0L374.8 278.1L375.0 278.2L375.2 278.3L375.4 278.3L375.6 278.3L375.8 278.3L376.0 278.2L376.2 278.1L376.4 278.0L376.7 277.9L376.9 277.8L377.1 277.7L377.3 277.6L377.5 277.6L377.7 277.6L377.9 277.6L378.1 277.6L378.3 277.5L378.5 277.5L378.7 277.4L378.9 277.4L379.2 277.5L379.4 277.4L379.6 277.4L379.8 277.3L380.0 277.2L380.2 276.9L380.4 276.6L380.6 276.3L380.8 276.0L381.0 275.6L381.2 275.3L381.5 274.9L381.7 274.6L381.9 274.3L382.1 274.1L382.3 274.0L382.5 274.1L382.7 274.3L382.9 274.6L383.1 274.9L383.3 275.2L383.5 275.4L383.7 275.6L384.0 275.8L384.2 276.0L384.4 276.2L384.6 276.4L384.8 276.7L385.0 276.9L385.2 277.2L385.4 277.4L385.6 277.5L385.8 277.6L386.0 277.7L386.3 277.7L386.5 277.8L386.7 277.8L386.9 277.9L387.1 277.9L387.3 277.9L387.5 277.8L387.7 277.8L387.9 277.7L388.1 277.7L388.3 277.6L388.5 277.7L388.8 277.7L389.0 277.8L389.2 277.8L389.4 277.7L389.6 277.6L389.8 277.5L390.0 277.3L390.2 277.2L390.4 277.1L390.6 277.1L390.8 277.1L391.0 277.2L391.3 277.2L391.5 277.2L391.7 277.1L391.9 277.0L392.1 276.9L392.3 276.9L392.5 277.0L392.7 277.1L392.9 277.2L393.1 277.3L393.3 277.4L393.6 277.5L393.8 277.6L394.0 277.7L394.2 277.7L394.4 277.8L394.6 277.9L394.8 277.9L395.0 277.9L395.2 277.9L395.4 277.9L395.6 277.9L395.8 277.9L396.1 277.9L396.3 278.0L396.5 278.0L396.7 277.9L396.9 277.9L397.1 277.8L397.3 277.8L397.5 277.9L397.7 277.9L397.9 278.0L398.1 278.0L398.4 278.1L398.6 278.1L398.8 278.2L399.0 278.2L399.2 278.3L399.4 278.3L399.6 278.2L399.8 278.2L400.0 278.1L400.2 278.1L400.4 278.1L400.6 278.1L400.9 278.2L401.1 278.3L401.3 278.3L401.5 278.3L401.7 278.3L401.9 278.3L402.1 278.2L402.3 278.2L402.5 278.2L402.7 278.2L402.9 278.2L403.2 278.2L403.4 278.2L403.6 278.2L403.8 278.2L404.0 278.2L404.2 278.2L404.4 278.2L404.6 278.2L404.8 278.3L405.0 278.3L405.2 278.3L405.4 278.3L405.7 278.3L405.9 278.2L406.1 278.2L406.3 278.1L406.5 278.1L406.7 278.1L406.9 278.1L407.1 278.1L407.3 278.2L407.5 278.2L407.7 278.2L407.9 278.2L408.2 278.1L408.4 278.0L408.6 277.9L408.8 277.9L409.0 277.9L409.2 277.8L409.4 277.8L409.6 277.8L409.8 277.8L410.0 277.8L410.2 277.8L410.5 277.8L410.7 277.7L410.9 277.7L411.1 277.7L411.3 277.6L411.5 277.5L411.7 277.4L411.9 277.3L412.1 277.2L412.3 277.2L412.5 277.2L412.7 277.1L413.0 277.0L413.2 276.8L413.4 276.7L413.6 276.5L413.8 276.3L414.0 276.2L414.2 275.9L414.4 275.6L414.6 275.3L414.8 274.9L415.0 274.3L415.3 273.7L415.5 272.8L415.7 271.8L415.9 270.6L416.1 269.2L416.3 267.4L416.5 265.2L416.7 262.4L416.9 259.0L417.1 254.6L417.3 249.3L417.5 243.0L417.8 235.7L418.0 227.9L418.2 220.3L418.4 214.0L418.6 210.0L418.8 209.0L419.0 211.0L419.2 215.3L419.4 220.7L419.6 226.4L419.8 231.8L420.1 236.8L420.3 241.4L420.5 245.8L420.7 250.1L420.9 254.2L421.1 257.9L421.3 261.3L421.5 264.3L421.7 266.7L421.9 268.8L422.1 270.3L422.3 271.6L422.6 272.5L422.8 273.3L423.0 274.0L423.2 274.5L423.4 275.0L423.6 275.4L423.8 275.8L424.0 276.1L424.2 276.3L424.4 276.5L424.6 276.7L424.8 276.8L425.1 277.0L425.3 277.1L425.5 277.2L425.7 277.2L425.9 277.3L426.1 277.4L426.3 277.5L426.5 277.6L426.7 277.7L426.9 277.8L427.1 277.9L427.4 278.0L427.6 278.0L427.8 278.0L428.0 277.9L428.2 277.9L428.4 277.8L428.6 277.7L428.8 277.7L429.0 277.7L429.2 277.8L429.4 277.8L429.6 277.9L429.9 277.8L430.1 277.8L430.3 277.8L430.5 277.8L430.7 277.9L430.9 278.0L431.1 278.1L431.3 278.2L431.5 278.2L431.7 278.2L431.9 278.2L432.2 278.2L432.4 278.2L432.6 278.1L432.8 278.1L433.0 278.2L433.2 278.2L433.4 278.1L433.6 278.1L433.8 278.1L434.0 278.0L434.2 278.1L434.4 278.1L434.7 278.1L434.9 278.2L435.1 278.2L435.3 278.2L435.5 278.2L435.7 278.2L435.9 278.2L436.1 278.2L436.3 278.1L436.5 278.1L436.7 278.1L437.0 278.1L437.2 278.1L437.4 278.1L437.6 278.1L437.8 278.0L438.0 278.0L438.2 278.0L438.4 278.0L438.6 278.0L438.8 278.0L439.0 278.1L439.2 278.1L439.5 278.2L439.7 278.2L439.9 278.2L440.1 278.2L440.3 278.1L440.5 278.1L440.7 278.0L440.9 278.0L441.1 278.0L441.3 277.9L441.5 277.9L441.7 277.9L442.0 277.9L442.2 277.9L442.4 277.9L442.6 277.8L442.8 277.8L443.0 277.8L443.2 277.8L443.4 277.7L443.6 277.6L443.8 277.5L444.0 277.4L444.3 277.2L444.5 277.0L444.7 276.7L444.9 276.4L445.1 276.1L445.3 275.7L445.5 275.1L445.7 274.4L445.9 273.5L446.1 272.5L446.3 271.3L446.5 270.1L446.8 268.8L447.0 267.8L447.2 267.2L447.4 267.1L447.6 267.5L447.8 268.2L448.0 269.1L448.2 270.0L448.4 270.7L448.6 271.4L448.8 272.1L449.1 272.8L449.3 273.5L449.5 274.1L449.7 274.8L449.9 275.4L450.1 275.9L450.3 276.4L450.5 276.7L450.7 277.0L450.9 277.1L451.1 277.3L451.3 277.5L451.6 277.7L451.8 277.8L452.0 277.9L452.2 278.0L452.4 278.1L452.6 278.1L452.8 278.1L453.0 278.1L453.2 278.1L453.4 278.1L453.6 278.1L453.9 278.0L454.1 278.0L454.3 278.0L454.5 278.0L454.7 278.0L454.9 278.1L455.1 278.1L455.3 278.1L455.5 278.1L455.7 278.0L455.9 278.0L456.1 278.0L456.4 278.0L456.6 278.1L456.8 278.1L457.0 278.2L457.2 278.2L457.4 278.3L457.6 278.3L457.8 278.3L458.0 278.3L458.2 278.3L458.4 278.3L458.6 278.3L458.9 278.3L459.1 278.3L459.3 278.3L459.5 278.4L459.7 278.4L459.9 278.5L460.1 278.5L460.3 278.5L460.5 278.5L460.7 278.5L460.9 278.4L461.2 278.4L461.4 278.4L461.6 278.4L461.8 278.4L462.0 278.4L462.2 278.4L462.4 278.4L462.6 278.3L462.8 278.3L463.0 278.2L463.2 278.2L463.4 278.2L463.7 278.2L463.9 278.2L464.1 278.2L464.3 278.2L464.5 278.2L464.7 278.2L464.9 278.2L465.1 278.1L465.3 278.1L465.5 278.0L465.7 278.1L466.0 278.1L466.2 278.2L466.4 278.3L466.6 278.3L466.8 278.4L467.0 278.4L467.2 278.4L467.4 278.4L467.6 278.4L467.8 278.4L468.0 278.4L468.2 278.4L468.5 278.3L468.7 278.3L468.9 278.4L469.1 278.4L469.3 278.4L469.5 278.4L469.7 278.3L469.9 278.3L470.1 278.2L470.3 278.2L470.5 278.2L470.8 278.2L471.0 278.2L471.2 278.2L471.4 278.2L471.6 278.2L471.8 278.3L472.0 278.3L472.2 278.3L472.4 278.3L472.6 278.3L472.8 278.3L473.0 278.3L473.3 278.3L473.5 278.3L473.7 278.4L473.9 278.4L474.1 278.4L474.3 278.4L474.5 278.3L474.7 278.3L474.9 278.3L475.1 278.3L475.3 278.3L475.5 278.3L475.8 278.3L476.0 278.3L476.2 278.2L476.4 278.2L476.6 278.2L476.8 278.3L477.0 278.3L477.2 278.4L477.4 278.4L477.6 278.3L477.8 278.2L478.1 278.1L478.3 278.0L478.5 278.0L478.7 278.1L478.9 278.1L479.1 278.2L479.3 278.1L479.5 278.1L479.7 278.1L479.9 278.1L480.1 278.1L480.3 278.2L480.6 278.2L480.8 278.2L481.0 278.2L481.2 278.2L481.4 278.2L481.6 278.2L481.8 278.2L482.0 278.3L482.2 278.4L482.4 278.4L482.6 278.4L482.9 278.4L483.1 278.4L483.3 278.4L483.5 278.3L483.7 278.2L483.9 278.2L484.1 278.1L484.3 278.2L484.5 278.3L484.7 278.4L484.9 278.4L485.1 278.4L485.4 278.4L485.6 278.3L485.8 278.3L486.0 278.2L486.2 278.2L486.4 278.2L486.6 278.2L486.8 278.2L487.0 278.2L487.2 278.2L487.4 278.2L487.7 278.2L487.9 278.2L488.1 278.2L488.3 278.3L488.5 278.3L488.7 278.3L488.9 278.3L489.1 278.3L489.3 278.2L489.5 278.2L489.7 278.2L489.9 278.2L490.2 278.2L490.4 278.3L490.6 278.3L490.8 278.3L491.0 278.3L491.2 278.3L491.4 278.3L491.6 278.3L491.8 278.2L492.0 278.2L492.2 278.2L492.4 278.2L492.7 278.2L492.9 278.2L493.1 278.2L493.3 278.2L493.5 278.2L493.7 278.2L493.9 278.2L494.1 278.1L494.3 278.1L494.5 278.0L494.7 278.0L495.0 278.0L495.2 278.0L495.4 278.0L495.6 278.1L495.8 278.1L496.0 278.2L496.2 278.2L496.4 278.2L496.6 278.2L496.8 278.2L497.0 278.2L497.2 278.2L497.5 278.2L497.7 278.2L497.9 278.2L498.1 278.2L498.3 278.2L498.5 278.2L498.7 278.2L498.9 278.2L499.1 278.2L499.3 278.2L499.5 278.2L499.8 278.1L500.0 278.1L500.2 278.1L500.4 278.1L500.6 278.2L500.8 278.2L501.0 278.2L501.2 278.2L501.4 278.2L501.6 278.1L501.8 278.1L502.0 278.1L502.3 278.0L502.5 278.0L502.7 278.0L502.9 278.0L503.1 278.1L503.3 278.1L503.5 278.0L503.7 278.0L503.9 277.9L504.1 277.9L504.3 277.8L504.5 277.8L504.8 277.8L505.0 277.8L505.2 277.7L505.4 277.6L505.6 277.5L505.8 277.3L506.0 277.0L506.2 276.7L506.4 276.4L506.6 276.1L506.8 275.8L507.1 275.6L507.3 275.4L507.5 275.2L507.7 275.2L507.9 275.1L508.1 275.1L508.3 275.2L508.5 275.3L508.7 275.4L508.9 275.5L509.1 275.7L509.3 275.9L509.6 276.1L509.8 276.3L510.0 276.6L510.2 276.8L510.4 277.0L510.6 277.2L510.8 277.4L511.0 277.5L511.2 277.6L511.4 277.7L511.6 277.7L511.9 277.7L512.1 277.7L512.3 277.6L512.5 277.6L512.7 277.7L512.9 277.7L513.1 277.8L513.3 277.8L513.5 277.8L513.7 277.8L513.9 277.8L514.1 277.9L514.4 277.9L514.6 278.0L514.8 278.0L515.0 278.1L515.2 278.1L515.4 278.1L515.6 278.1L515.8 278.1L516.0 278.1L516.2 278.1L516.4 278.1L516.7 278.2L516.9 278.2L517.1 278.2L517.3 278.1L517.5 278.1L517.7 278.0L517.9 278.0L518.1 278.1L518.3 278.2L518.5 278.2L518.7 278.2L518.9 278.2L519.2 278.2L519.4 278.1L519.6 278.1L519.8 278.1L520.0 278.1L520.2 278.1L520.4 278.1L520.6 278.1L520.8 278.1L521.0 278.1L521.2 278.1L521.4 278.2L521.7 278.3L521.9 278.3L522.1 278.4L522.3 278.4L522.5 278.4L522.7 278.4L522.9 278.4L523.1 278.3L523.3 278.2L523.5 278.2L523.7 278.1L524.0 278.1L524.2 278.2L524.4 278.2L524.6 278.3L524.8 278.3L525.0 278.3L525.2 278.3L525.4 278.4L525.6 278.4L525.8 278.3L526.0 278.3L526.2 278.2L526.5 278.2L526.7 278.1L526.9 278.1L527.1 278.1L527.3 278.1L527.5 278.1L527.7 278.1L527.9 278.1L528.1 278.0L528.3 278.0L528.5 278.0L528.8 278.0L529.0 278.0L529.2 278.0L529.4 278.1L529.6 278.1L529.8 278.2L530.0 278.1L530.2 278.1L530.4 278.1L530.6 278.1L530.8 278.1L531.0 278.2L531.3 278.2L531.5 278.3L531.7 278.2L531.9 278.2L532.1 278.1L532.3 278.1L532.5 278.2L532.7 278.2L532.9 278.2L533.1 278.3L533.3 278.3L533.6 278.3L533.8 278.3L534.0 278.2L534.2 278.2L534.4 278.2L534.6 278.3L534.8 278.3L535.0 278.3L535.2 278.3L535.4 278.3L535.6 278.3L535.8 278.4L536.1 278.4L536.3 278.4L536.5 278.3L536.7 278.3L536.9 278.2L537.1 278.1L537.3 278.1L537.5 278.2L537.7 278.2L537.9 278.3L538.1 278.3L538.3 278.4L538.6 278.4L538.8 278.4L539.0 278.5L539.2 278.5L539.4 278.5L539.6 278.5L539.8 278.5L540.0 278.5L540.2 278.5L540.4 278.4"/>
<path stroke="#8000ff" d="M39.7 248.1L39.9 247.9L40.1 247.8L40.3 247.8L40.5 247.9L40.7 248.0L41.0 248.2L41.2 248.6L41.4 249.0L41.6 249.3L41.8 249.3L42.0 249.1L42.2 248.6L42.4 248.2L42.6 248.0L42.8 248.2L43.0 248.5L43.2 248.9L43.5 249.2L43.7 249.2L43.9 249.1L44.1 248.9L44.3 248.8L44.5 248.7L44.7 248.8L44.9 248.9L45.1 249.0L45.3 249.0L45.5 248.8L45.8 248.6L46.0 248.4L46.2 248.3L46.4 248.4L46.6 248.7L46.8 249.1L47.0 249.5L47.2 249.7L47.4 249.7L47.6 249.5L47.8 249.3L48.0 249.1L48.3 249.0L48.5 248.9L48.7 248.9L48.9 248.9L49.1 248.9L49.3 249.0L49.5 249.0L49.7 248.9L49.9 248.6L50.1 248.2L50.3 247.8L50.5 247.5L50.8 247.5L51.0 247.7L51.2 248.0L51.4 248.1L51.6 248.1L51.8 248.1L52.0 248.0L52.2 248.1L52.4 248.3L52.6 248.4L52.8 248.5L53.1 248.5L53.3 248.5L53.5 248.6L53.7 248.9L53.9 249.2L54.1 249.4L54.3 249.5L54.5 249.3L54.7 249.0L54.9 248.6L55.1 248.2L55.3 248.1L55.6 248.2L55.8 248.6L56.0 249.1L56.2 249.4L56.4 249.4L56.6 249.3L56.8 249.1L57.0 248.8L57.2 248.5L57.4 248.1L57.6 247.7L57.9 247.3L58.1 247.0L58.3 246.8L58.5 246.8L58.7 246.9L58.9 247.1L59.1 247.5L59.3 247.9L59.5 248.2L59.7 248.4L59.9 248.6L60.1 248.7L60.4 248.7L60.6 248.8L60.8 248.7L61.0 248.4L61.2 248.0L61.4 247.5L61.6 247.1L61.8 246.8L62.0 246.7L62.2 247.0L62.4 247.4L62.7 247.8L62.9 248.1L63.1 248.3L63.3 248.3L63.5 248.3L63.7 248.3L63.9 248.4L64.1 248.5L64.3 248.5L64.5 248.4L64.7 248.4L64.9 248.3L65.2 248.2L65.4 248.1L65.6 248.0L65.8 247.9L66.0 247.9L66.2 248.1L66.4 248.3L66.6 248.6L66.8 248.7L67.0 248.7L67.2 248.6L67.4 248.6L67.7 248.7L67.9 248.7L68.1 248.7L68.3 248.5L68.5 248.3L68.7 248.2L68.9 248.1L69.1 248.2L69.3 248.3L69.5 248.5L69.7 248.7L70.0 249.1L70.2 249.5L70.4 249.7L70.6 249.8L70.8 249.7L71.0 249.4L71.2 249.0L71.4 248.6L71.6 248.4L71.8 248.3L72.0 248.3L72.2 248.2L72.5 248.2L72.7 248.2L72.9 248.3L73.1 248.6L73.3 248.9L73.5 249.0L73.7 248.9L73.9 248.5L74.1 248.2L74.3 248.0L74.5 248.1L74.8 248.3L75.0 248.5L75.2 248.5L75.4 248.5L75.6 248.5L75.8 248.5L76.0 248.6L76.2 248.7L76.4 248.7L76.6 248.5L76.8 248.3L77.0 248.1L77.3 248.1L77.5 248.2L77.7 248.5L77.9 248.6L78.1 248.6L78.3 248.3L78.5 247.9L78.7 247.4L78.9 247.0L79.1 246.7L79.3 246.5L79.6 246.5L79.8 246.5L80.0 246.7L80.2 246.9L80.4 247.1L80.6 247.3L80.8 247.4L81.0 247.4L81.2 247.2L81.4 246.8L81.6 246.3L81.8 245.6L82.1 244.9L82.3 244.1L82.5 243.3L82.7 242.4L82.9 241.4L83.1 240.0L83.3 238.5L83.5 236.8L83.7 235.2L83.9 233.9L84.1 232.9L84.3 232.5L84.6 232.6L84.8 233.2L85.0 234.1L85.2 235.1L85.4 236.2L85.6 237.3L85.8 238.5L86.0 239.5L86.2 240.4L86.4 241.1L86.6 241.6L86.9 242.2L87.1 242.8L87.3 243.5L87.5 244.0L87.7 244.2L87.9 244.1L88.1 243.9L88.3 243.5L88.5 243.1L88.7 242.6L88.9 242.0L89.1 241.2L89.4 240.3L89.6 239.3L89.8 238.3L90.0 237.4L90.2 236.6L90.4 236.3L90.6 236.2L90.8 236.5L91.0 237.1L91.2 237.8L91.4 238.6L91.7 239.7L91.9 240.9L92.1 242.0L92.3 243.0L92.5 243.6L92.7 244.1L92.9 244.4L93.1 244.6L93.3 244.8L93.5 245.0L93.7 245.3L93.9 245.7L94.2 246.1L94.4 246.5L94.6 246.9L94.8 247.0L95.0 247.0L95.2 246.9L95.4 246.7L95.6 246.6L95.8 246.5L96.0 246.5L96.2 246.6L96.5 246.8L96.7 247.1L96.9 247.5L97.1 247.8L97.3 248.0L97.5 248.3L97.7 248.4L97.9 248.4L98.1 248.1L98.3 247.8L98.5 247.5L98.7 247.4L99.0 247.6L99.2 247.8L99.4 248.1L99.6 248.3L99.8 248.5L100.0 248.6L100.2 248.7L100.4 248.8L100.6 248.8L100.8 248.6L101.0 248.4L101.2 248.2L101.5 248.0L101.7 248.0L101.9 248.1L102.1 248.1L102.3 248.1L102.5 248.1L102.7 248.1L102.9 248.1L103.1 248.2L103.3 248.2L103.5 248.2L103.8 248.2L104.0 248.2L104.2 248.3L104.4 248.3L104.6 248.2L104.8 248.1L105.0 247.9L105.2 247.7L105.4 247.4L105.6 247.2L105.8 247.0L106.0 247.1L106.3 247.3L106.5 247.5L106.7 247.6L106.9 247.6L107.1 247.5L107.3 247.5L107.5 247.6L107.7 247.9L107.9 248.1L108.1 248.4L108.3 248.6L108.6 248.6L108.8 248.5L109.0 248.2L109.2 247.8L109.4 247.4L109.6 247.1L109.8 246.9L110.0 247.0L110.2 247.2L110.4 247.5L110.6 247.7L110.8 247.8L111.1 247.9L111.3 247.8L111.5 247.6L111.7 247.3L111.9 247.1L112.1 247.0L112.3 247.1L112.5 247.3L112.7 247.6L112.9 247.8L113.1 247.7L113.3 247.5L113.6 247.1L113.8 246.9L114.0 246.8L114.2 246.7L114.4 246.6L114.6 246.4L114.8 246.0L115.0 245.4L115.2 244.9L115.4 244.4L115.6 244.1L115.9 243.9L116.1 243.8L116.3 243.5L116.5 243.0L116.7 242.4L116.9 241.5L117.1 240.5L117.3 239.3L117.5 238.1L117.7 236.6L117.9 234.9L118.1 232.8L118.4 230.4L118.6 227.6L118.8 224.2L119.0 220.4L119.2 216.2L119.4 211.7L119.6 207.3L119.8 203.4L120.0 200.4L120.2 198.8L120.4 198.9L120.7 200.6L120.9 203.5L121.1 207.2L121.3 211.2L121.5 215.2L121.7 219.0L121.9 222.5L122.1 225.5L122.3 227.9L122.5 229.8L122.7 231.3L122.9 232.4L123.2 233.2L123.4 233.9L123.6 234.4L123.8 234.7L124.0 234.9L124.2 234.8L124.4 234.3L124.6 233.3L124.8 232.0L125.0 230.2L125.2 228.0L125.5 225.3L125.7 221.9L125.9 217.6L126.1 212.3L126.3 205.7L126.5 197.6L126.7 187.8L126.9 176.1L127.1 162.8L127.3 148.4L127.5 133.7L127.7 120.1L128.0 108.8L128.2 101.3L128.4 98.6L128.6 101.1L128.8 108.3L129.0 119.2L129.2 132.4L129.4 146.7L129.6 160.7L129.8 173.8L130.0 185.5L130.2 195.7L130.5 204.5L130.7 212.0L130.9 218.2L131.1 223.4L131.3 227.6L131.5 231.0L131.7 233.7L131.9 235.8L132.1 237.5L132.3 238.8L132.5 240.0L132.8 241.1L133.0 242.2L133.2 243.1L133.4 243.8L133.6 244.3L133.8 244.7L134.0 245.1L134.2 245.5L134.4 245.9L134.6 246.3L134.8 246.5L135.0 246.6L135.3 246.6L135.5 246.7L135.7 246.9L135.9 247.1L136.1 247.4L136.3 247.6L136.5 247.7L136.7 247.7L136.9 247.7L137.1 247.7L137.3 247.7L137.6 247.9L137.8 248.0L138.0 248.1L138.2 248.1L138.4 248.0L138.6 247.8L138.8 247.7L139.0 247.5L139.2 247.5L139.4 247.6L139.6 247.8L139.8 247.9L140.1 248.0L140.3 248.1L140.5 248.2L140.7 248.4L140.9 248.5L141.1 248.5L141.3 248.5L141.5 248.4L141.7 248.4L141.9 248.3L142.1 248.3L142.4 248.1L142.6 247.9L142.8 247.7L143.0 247.5L143.2 247.3L143.4 247.2L143.6 247.1L143.8 247.1L144.0 247.1L144.2 247.3L144.4 247.4L144.6 247.5L144.9 247.6L145.1 247.7L145.3 247.8L145.5 248.0L145.7 248.2L145.9 248.4L146.1 248.4L146.3 248.4L146.5 248.4L146.7 248.3L146.9 248.2L147.1 248.0L147.4 247.9L147.6 247.9L147.8 248.1L148.0 248.2L148.2 248.4L148.4 248.5L148.6 248.5L148.8 248.4L149.0 248.3L149.2 248.2L149.4 248.1L149.7 248.1L149.9 248.2L150.1 248.4L150.3 248.6L150.5 248.8L150.7 248.8L150.9 248.7L151.1 248.6L151.3 248.5L151.5 248.5L151.7 248.6L151.9 248.6L152.2 248.6L152.4 248.7L152.6 248.7L152.8 248.8L153.0 249.0L153.2 249.0L153.4 249.0L153.6 248.8L153.8 248.6L154.0 248.3L154.2 248.2L154.5 248.2L154.7 248.3L154.9 248.5L155.1 248.7L155.3 248.7L155.5 248.7L155.7 248.6L155.9 248.5L156.1 248.5L156.3 248.6L156.5 248.7L156.7 248.7L157.0 248.7L157.2 248.7L157.4 248.5L157.6 248.3L157.8 248.1L158.0 247.9L158.2 247.9L158.4 248.1L158.6 248.3L158.8 248.6L159.0 248.8L159.3 248.8L159.5 248.8L159.7 248.6L159.9 248.4L160.1 248.1L160.3 247.8L160.5 247.6L160.7 247.5L160.9 247.5L161.1 247.7L161.3 247.7L161.5 247.7L161.8 247.6L162.0 247.4L162.2 247.4L162.4 247.4L162.6 247.6L162.8 247.9L163.0 248.3L163.2 248.6L163.4 248.8L163.6 248.8L163.8 248.8L164.0 248.8L164.3 248.7L164.5 248.5L164.7 248.3L164.9 248.1L165.1 248.0L165.3 248.0L165.5 248.0L165.7 248.1L165.9 248.1L166.1 248.2L166.3 248.2L166.6 248.2L166.8 248.3L167.0 248.6L167.2 248.8L167.4 249.1L167.6 249.2L167.8 249.1L168.0 249.0L168.2 248.9L168.4 249.0L168.6 249.0L168.8 248.8L169.1 248.6L169.3 248.1L169.5 247.7L169.7 247.4L169.9 247.2L170.1 247.1L170.3 247.0L170.5 247.0L170.7 247.1L170.9 247.1L171.1 247.1L171.4 247.1L171.6 246.9L171.8 246.6L172.0 246.2L172.2 245.8L172.4 245.3L172.6 244.9L172.8 244.3L173.0 243.6L173.2 242.6L173.4 241.2L173.6 239.4L173.9 237.1L174.1 234.4L174.3 231.5L174.5 228.2L174.7 224.5L174.9 220.4L175.1 216.0L175.3 211.8L175.5 208.3L175.7 205.9L175.9 205.0L176.2 205.6L176.4 207.6L176.6 210.7L176.8 214.4L177.0 218.5L177.2 222.8L177.4 226.8L177.6 230.5L177.8 233.7L178.0 236.2L178.2 238.2L178.4 239.8L178.7 241.0L178.9 242.1L179.1 243.1L179.3 244.0L179.5 244.8L179.7 245.4L179.9 246.0L180.1 246.5L180.3 246.9L180.5 247.2L180.7 247.3L180.9 247.4L181.2 247.4L181.4 247.5L181.6 247.8L181.8 248.1L182.0 248.3L182.2 248.5L182.4 248.6L182.6 248.5L182.8 248.3L183.0 248.2L183.2 248.1L183.5 248.1L183.7 248.3L183.9 248.4L184.1 248.4L184.3 248.3L184.5 248.1L184.7 248.0L184.9 247.9L185.1 247.9L185.3 248.0L185.5 248.0L185.7 248.1L186.0 248.2L186.2 248.3L186.4 248.4L186.6 248.5L186.8 248.4L187.0 248.3L187.2 248.2L187.4 248.1L187.6 248.2L187.8 248.3L188.0 248.4L188.3 248.5L188.5 248.5L188.7 248.4L188.9 248.3L189.1 248.3L189.3 248.2L189.5 248.2L189.7 248.3L189.9 248.4L190.1 248.5L190.3 248.4L190.5 248.3L190.8 248.1L191.0 247.9L191.2 248.0L191.4 248.1L191.6 248.3L191.8 248.4L192.0 248.3L192.2 248.1L192.4 247.9L192.6 247.8L192.8 247.8L193.1 247.9L193.3 247.9L193.5 247.9L193.7 247.9L193.9 247.8L194.1 247.7L194.3 247.7L194.5 247.8L194.7 247.9L194.9 247.9L195.1 247.9L195.3 247.7L195.6 247.3L195.8 246.9L196.0 246.5L196.2 246.3L196.4 246.2L196.6 245.9L196.8 245.6L197.0 245.2L197.2 245.0L197.4 244.9L197.6 245.0L197.8 245.2L198.1 245.6L198.3 246.0L198.5 246.3L198.7 246.6L198.9 246.7L199.1 246.7L199.3 246.7L199.5 246.9L199.7 247.1L199.9 247.4L200.1 247.8L200.4 248.2L200.6 248.5L200.8 248.6L201.0 248.5L201.2 248.4L201.4 248.3L201.6 248.1L201.8 248.0L202.0 247.9L202.2 247.9L202.4 247.9L202.6 247.9L202.9 247.9L203.1 247.9L203.3 247.9L203.5 248.0L203.7 248.1L203.9 248.1L204.1 248.1L204.3 248.1L204.5 248.2L204.7 248.2L204.9 248.3L205.2 248.2L205.4 248.1L205.6 247.8L205.8 247.5L206.0 247.4L206.2 247.3L206.4 247.4L206.6 247.6L206.8 247.7L207.0 247.8L207.2 248.0L207.4 248.1L207.7 248.2L207.9 248.3L208.1 248.3L208.3 248.4L208.5 248.5L208.7 248.7L208.9 248.8L209.1 248.9L209.3 248.8L209.5 248.8L209.7 248.7L210.0 248.7L210.2 248.6L210.4 248.6L210.6 248.4L210.8 248.3L211.0 248.2L211.2 248.1L211.4 248.1L211.6 248.1L211.8 248.1L212.0 248.1L212.2 248.1L212.5 248.1L212.7 248.0L212.9 248.0L213.1 248.1L213.3 248.2L213.5 248.4L213.7 248.5L213.9 248.5L214.1 248.4L214.3 248.3L214.5 248.2L214.7 248.2L215.0 248.3L215.2 248.4L215.4 248.5L215.6 248.5L215.8 248.4L216.0 248.4L216.2 248.4L216.4 248.4L216.6 248.3L216.8 248.2L217.0 248.1L217.3 248.0L217.5 247.9L217.7 248.1L217.9 248.3L218.1 248.6L218.3 248.8L218.5 249.0L218.7 249.1L218.9 249.0L219.1 248.9L219.3 248.7L219.5 248.5L219.8 248.3L220.0 248.2L220.2 248.1L220.4 248.2L220.6 248.3L220.8 248.5L221.0 248.8L221.2 249.1L221.4 249.3L221.6 249.4L221.8 249.3L222.1 249.1L222.3 248.8L222.5 248.5L222.7 248.3L222.9 248.2L223.1 248.3L223.3 248.4L223.5 248.6L223.7 248.7L223.9 248.8L224.1 248.8L224.3 248.7L224.6 248.6L224.8 248.5L225.0 248.5L225.2 248.6L225.4 248.7L225.6 248.7L225.8 248.7L226.0 248.5L226.2 248.1L226.4 247.8L226.6 247.6L226.9 247.6L227.1 247.8L227.3 248.1L227.5 248.4L227.7 248.6L227.9 248.7L228.1 248.7L228.3 248.7L228.5 248.8L228.7 248.8L228.9 248.9L229.1 249.0L229.4 249.1L229.6 249.2L229.8 249.2L230.0 249.2L230.2 249.2L230.4 249.1L230.6 249.0L230.8 248.9L231.0 248.8L231.2 248.8L231.4 248.8L231.6 248.8L231.9 248.8L232.1 248.9L232.3 249.0L232.5 249.0L232.7 248.9L232.9 248.8L233.1 248.7L233.3 248.7L233.5 248.7L233.7 248.7L233.9 248.7L234.2 248.6L234.4 248.4L234.6 248.3L234.8 248.2L235.0 248.1L235.2 248.2L235.4 248.3L235.6 248.5L235.8 248.6L236.0 248.6L236.2 248.6L236.4 248.5L236.7 248.5L236.9 248.4L237.1 248.4L237.3 248.4L237.5 248.5L237.7 248.7L237.9 248.8L238.1 248.8L238.3 248.7L238.5 248.4L238.7 248.0L239.0 247.7L239.2 247.6L239.4 247.7L239.6 248.0L239.8 248.3L240.0 248.5L240.2 248.6L240.4 248.5L240.6 248.3L240.8 248.1L241.0 248.0L241.2 247.9L241.5 247.9L241.7 247.9L241.9 248.0L242.1 248.0L242.3 248.1L242.5 248.1L242.7 248.2L242.9 248.2L243.1 248.1L243.3 248.1L243.5 248.1L243.7 248.1L244.0 248.1L244.2 248.2L244.4 248.3L244.6 248.4L244.8 248.5L245.0 248.7L245.2 248.9L245.4 249.1L245.6 249.1L245.8 249.0L246.0 248.9L246.3 248.7L246.5 248.6L246.7 248.6L246.9 248.6L247.1 248.7L247.3 248.7L247.5 248.6L247.7 248.4L247.9 248.3L248.1 248.2L248.3 248.2L248.5 248.3L248.8 248.4L249.0 248.5L249.2 248.7L249.4 248.8L249.6 248.9L249.8 248.8L250.0 248.6L250.2 248.3L250.4 248.0L250.6 247.7L250.8 247.7L251.1 247.7L251.3 247.9L251.5 248.1L251.7 248.3L251.9 248.4L252.1 248.6L252.3 248.7L252.5 248.8L252.7 248.8L252.9 248.7L253.1 248.6L253.3 248.4L253.6 248.2L253.8 248.1L254.0 248.0L254.2 248.0L254.4 248.1L254.6 248.2L254.8 248.4L255.0 248.5L255.2 248.6L255.4 248.8L255.6 248.9L255.9 249.1L256.1 249.1L256.3 249.1L256.5 249.1L256.7 249.1L256.9 249.1L257.1 249.0L257.3 249.0L257.5 248.8L257.7 248.7L257.9 248.5L258.1 248.4L258.4 248.4L258.6 248.4L258.8 248.4L259.0 248.4L259.2 248.4L259.4 248.3L259.6 248.2L259.8 248.1L260.0 248.1L260.2 248.2L260.4 248.2L260.6 248.2L260.9 248.3L261.1 248.3L261.3 248.4L261.5 248.6L261.7 248.7L261.9 248.8L262.1 248.8L262.3 248.8L262.5 248.8L262.7 248.7L262.9 248.6L263.2 248.5L263.4 248.5L263.6 248.5L263.8 248.6L264.0 248.6L264.2 248.5L264.4 248.4L264.6 248.2L264.8 248.2L265.0 248.2L265.2 248.3L265.4 248.5L265.7 248.6L265.9 248.7L266.1 248.6L266.3 248.6L266.5 248.5L266.7 248.4L266.9 248.2L267.1 248.2L267.3 248.1L267.5 248.2L267.7 248.3L268.0 248.4L268.2 248.5L268.4 248.6L268.6 248.7L268.8 248.8L269.0 248.9L269.2 248.9L269.4 248.9L269.6 248.9L269.8 248.9L270.0 248.8L270.2 248.7L270.5 248.6L270.7 248.4L270.9 248.3L271.1 248.2L271.3 248.2L271.5 248.2L271.7 248.4L271.9 248.5L272.1 248.7L272.3 248.8L272.5 248.9L272.8 249.0L273.0 249.0L273.2 248.9L273.4 248.7L273.6 248.5L273.8 248.4L274.0 248.5L274.2 248.6L274.4 248.8L274.6 248.9L274.8 249.0L275.0 249.0L275.3 248.9L275.5 248.9L275.7 248.8L275.9 248.8L276.1 248.8L276.3 248.7L276.5 248.5L276.7 248.3L276.9 248.1L277.1 248.0L277.3 248.0L277.5 248.2L277.8 248.3L278.0 248.4L278.2 248.4L278.4 248.4L278.6 248.2L278.8 248.0L279.0 247.8L279.2 247.6L279.4 247.5L279.6 247.4L279.8 247.5L280.1 247.6L280.3 247.8L280.5 247.9L280.7 247.9L280.9 247.8L281.1 247.6L281.3 247.5L281.5 247.5L281.7 247.5L281.9 247.5L282.1 247.5L282.3 247.5L282.6 247.6L282.8 247.6L283.0 247.6L283.2 247.5L283.4 247.2L283.6 246.8L283.8 246.5L284.0 246.2L284.2 246.0L284.4 246.0L284.6 246.0L284.9 245.9L285.1 245.7L285.3 245.4L285.5 244.9L285.7 244.4L285.9 243.9L286.1 243.2L286.3 242.6L286.5 241.8L286.7 241.1L286.9 240.2L287.1 239.3L287.4 238.3L287.6 237.0L287.8 235.5L288.0 233.9L288.2 232.1L288.4 230.5L288.6 229.3L288.8 228.6L289.0 228.5L289.2 229.0L289.4 229.8L289.7 230.8L289.9 232.0L290.1 233.2L290.3 234.6L290.5 236.0L290.7 237.3L290.9 238.6L291.1 239.8L291.3 240.9L291.5 241.8L291.7 242.7L291.9 243.4L292.2 243.9L292.4 244.3L292.6 244.6L292.8 244.9L293.0 245.2L293.2 245.4L293.4 245.7L293.6 245.9L293.8 246.0L294.0 246.1L294.2 246.2L294.4 246.3L294.7 246.4L294.9 246.5L295.1 246.4L295.3 246.3L295.5 246.2L295.7 246.0L295.9 246.0L296.1 246.0L296.3 246.1L296.5 246.1L296.7 246.0L297.0 245.9L297.2 245.6L297.4 245.3L297.6 244.8L297.8 244.3L298.0 243.8L298.2 243.3L298.4 242.9L298.6 242.5L298.8 242.1L299.0 241.7L299.2 241.1L299.5 240.3L299.7 239.2L299.9 237.9L300.1 236.5L300.3 234.8L300.5 233.0L300.7 231.1L300.9 229.1L301.1 227.3L301.3 226.0L301.5 225.3L301.8 225.2L302.0 225.8L302.2 226.9L302.4 228.3L302.6 229.9L302.8 231.6L303.0 233.3L303.2 234.8L303.4 236.2L303.6 237.4L303.8 238.5L304.0 239.6L304.3 240.7L304.5 241.8L304.7 242.8L304.9 243.6L305.1 244.1L305.3 244.5L305.5 244.9L305.7 245.3L305.9 245.9L306.1 246.5L306.3 247.0L306.6 247.2L306.8 247.2L307.0 247.2L307.2 247.2L307.4 247.2L307.6 247.2L307.8 247.2L308.0 247.2L308.2 247.2L308.4 247.1L308.6 247.1L308.8 247.1L309.1 247.1L309.3 247.2L309.5 247.3L309.7 247.4L309.9 247.6L310.1 247.8L310.3 247.9L310.5 248.0L310.7 248.1L310.9 248.2L311.1 248.2L311.3 248.3L311.6 248.3L311.8 248.3L312.0 248.2L312.2 248.1L312.4 247.9L312.6 247.8L312.8 247.7L313.0 247.7L313.2 247.8L313.4 247.9L313.6 247.9L313.9 247.9L314.1 248.0L314.3 248.0L314.5 248.0L314.7 248.1L314.9 248.1L315.1 248.1L315.3 248.2L315.5 248.3L315.7 248.4L315.9 248.5L316.1 248.6L316.4 248.6L316.6 248.5L316.8 248.5L317.0 248.4L317.2 248.3L317.4 248.3L317.6 248.3L317.8 248.3L318.0 248.3L318.2 248.2L318.4 248.1L318.7 247.9L318.9 247.7L319.1 247.5L319.3 247.3L319.5 247.2L319.7 247.2L319.9 247.3L320.1 247.4L320.3 247.3L320.5 247.2L320.7 246.9L320.9 246.5L321.2 246.1L321.4 245.6L321.6 245.2L321.8 244.6L322.0 244.0L322.2 243.3L322.4 242.4L322.6 241.5L322.8 240.3L323.0 238.9L323.2 237.1L323.5 234.9L323.7 232.3L323.9 229.1L324.1 225.1L324.3 220.2L324.5 214.3L324.7 207.2L324.9 199.0L325.1 190.1L325.3 181.1L325.5 173.0L325.7 166.8L326.0 163.7L326.2 164.0L326.4 167.3L326.6 172.8L326.8 179.3L327.0 186.3L327.2 193.2L327.4 199.9L327.6 206.4L327.8 212.4L328.0 217.9L328.2 222.8L328.5 227.1L328.7 230.7L328.9 233.7L329.1 236.2L329.3 238.3L329.5 240.0L329.7 241.4L329.9 242.5L330.1 243.4L330.3 244.1L330.5 244.6L330.8 245.0L331.0 245.4L331.2 245.8L331.4 246.2L331.6 246.6L331.8 246.9L332.0 247.2L332.2 247.4L332.4 247.5L332.6 247.7L332.8 247.8L333.0 247.9L333.3 247.8L333.5 247.8L333.7 247.7L333.9 247.6L334.1 247.5L334.3 247.4L334.5 247.3L334.7 247.2L334.9 247.2L335.1 247.2L335.3 247.3L335.6 247.5L335.8 247.7L336.0 247.8L336.2 248.0L336.4 248.0L336.6 248.1L336.8 248.0L337.0 248.0L337.2 248.0L337.4 247.9L337.6 247.9L337.8 247.9L338.1 248.0L338.3 248.2L338.5 248.4L338.7 248.6L338.9 248.7L339.1 248.8L339.3 248.9L339.5 248.9L339.7 248.9L339.9 248.7L340.1 248.5L340.4 248.4L340.6 248.3L340.8 248.3L341.0 248.4L341.2 248.5L341.4 248.5L341.6 248.4L341.8 248.2L342.0 248.0L342.2 247.9L342.4 248.0L342.6 248.1L342.9 248.4L343.1 248.6L343.3 248.7L343.5 248.8L343.7 248.7L343.9 248.5L344.1 248.3L344.3 248.1L344.5 248.0L344.7 248.0L344.9 248.1L345.1 248.1L345.4 248.2L345.6 248.2L345.8 248.3L346.0 248.3L346.2 248.3L346.4 248.4L346.6 248.6L346.8 248.7L347.0 248.7L347.2 248.7L347.4 248.6L347.7 248.5L347.9 248.4L348.1 248.4L348.3 248.4L348.5 248.4L348.7 248.3L348.9 248.3L349.1 248.3L349.3 248.3L349.5 248.2L349.7 248.3L349.9 248.4L350.2 248.6L350.4 248.7L350.6 248.8L350.8 248.8L351.0 248.7L351.2 248.5L351.4 248.2L351.6 247.9L351.8 247.7L352.0 247.5L352.2 247.4L352.5 247.4L352.7 247.3L352.9 247.3L353.1 247.2L353.3 247.2L353.5 247.3L353.7 247.3L353.9 247.4L354.1 247.5L354.3 247.5L354.5 247.5L354.7 247.4L355.0 247.4L355.2 247.5L355.4 247.6L355.6 247.7L355.8 247.8L356.0 247.9L356.2 247.9L356.4 247.7L356.6 247.6L356.8 247.4L357.0 247.3L357.3 247.2L357.5 247.1L357.7 247.0L357.9 246.9L358.1 246.7L358.3 246.4L358.5 246.0L358.7 245.6L358.9 245.2L359.1 244.7L359.3 244.3L359.5 243.9L359.8 243.3L360.0 242.6L360.2 241.9L360.4 241.0L360.6 240.2L360.8 239.3L361.0 238.5L361.2 237.7L361.4 237.0L361.6 236.4L361.8 236.0L362.0 235.8L362.3 235.8L362.5 236.0L362.7 236.3L362.9 236.9L363.1 237.7L363.3 238.5L363.5 239.5L363.7 240.4L363.9 241.2L364.1 242.0L364.3 242.6L364.6 243.3L364.8 243.9L365.0 244.5L365.2 245.1L365.4 245.6L365.6 245.9L365.8 246.0L366.0 246.1L366.2 246.1L366.4 246.1L366.6 246.1L366.8 246.2L367.1 246.4L367.3 246.5L367.5 246.7L367.7 246.9L367.9 247.2L368.1 247.5L368.3 247.7L368.5 247.7L368.7 247.7L368.9 247.7L369.1 247.8L369.4 247.8L369.6 247.9L369.8 247.9L370.0 247.9L370.2 247.8L370.4 247.7L370.6 247.7L370.8 247.7L371.0 247.7L371.2 247.8L371.4 247.8L371.6 247.8L371.9 247.7L372.1 247.6L372.3 247.6L372.5 247.6L372.7 247.6L372.9 247.7L373.1 247.8L373.3 247.9L373.5 248.1L373.7 248.2L373.9 248.3L374.1 248.3L374.4 248.4L374.6 248.4L374.8 248.3L375.0 248.2L375.2 248.1L375.4 247.9L375.6 247.8L375.8 247.7L376.0 247.7L376.2 247.6L376.4 247.6L376.7 247.7L376.9 247.7L377.1 247.6L377.3 247.5L377.5 247.4L377.7 247.3L377.9 247.3L378.1 247.2L378.3 247.1L378.5 247.1L378.7 247.0L378.9 247.0L379.2 246.9L379.4 246.6L379.6 246.2L379.8 245.6L380.0 245.1L380.2 244.6L380.4 244.1L380.6 243.7L380.8 243.3L381.0 243.0L381.2 242.6L381.5 242.4L381.7 242.2L381.9 242.2L382.1 242.3L382.3 242.4L382.5 242.6L382.7 242.9L382.9 243.2L383.1 243.7L383.3 244.2L383.5 244.7L383.7 245.0L384.0 245.3L384.2 245.6L384.4 245.8L384.6 246.0L384.8 246.2L385.0 246.3L385.2 246.4L385.4 246.4L385.6 246.5L385.8 246.7L386.0 246.9L386.3 247.1L386.5 247.4L386.7 247.6L386.9 247.6L387.1 247.6L387.3 247.6L387.5 247.6L387.7 247.6L387.9 247.7L388.1 247.7L388.3 247.9L388.5 248.0L388.8 248.2L389.0 248.3L389.2 248.4L389.4 248.5L389.6 248.5L389.8 248.4L390.0 248.2L390.2 248.1L390.4 247.9L390.6 247.7L390.8 247.6L391.0 247.5L391.3 247.5L391.5 247.6L391.7 247.8L391.9 247.9L392.1 248.0L392.3 248.1L392.5 248.2L392.7 248.2L392.9 248.2L393.1 248.1L393.3 248.1L393.6 248.0L393.8 248.0L394.0 248.0L394.2 248.1L394.4 248.1L394.6 248.1L394.8 248.0L395.0 247.9L395.2 247.9L395.4 247.8L395.6 247.9L395.8 248.1L396.1 248.2L396.3 248.4L396.5 248.5L396.7 248.5L396.9 248.4L397.1 248.3L397.3 248.3L397.5 248.3L397.7 248.4L397.9 248.4L398.1 248.3L398.4 248.3L398.6 248.1L398.8 248.0L399.0 247.9L399.2 247.9L399.4 247.9L399.6 247.9L399.8 247.9L400.0 248.0L400.2 248.1L400.4 248.2L400.6 248.3L400.9 248.3L401.1 248.3L401.3 248.3L401.5 248.4L401.7 248.4L401.9 248.5L402.1 248.5L402.3 248.5L402.5 248.5L402.7 248.5L402.9 248.6L403.2 248.6L403.4 248.6L403.6 248.8L403.8 248.9L404.0 248.9L404.2 248.9L404.4 248.8L404.6 248.6L404.8 248.5L405.0 248.5L405.2 248.6L405.4 248.7L405.7 248.9L405.9 249.0L406.1 249.0L406.3 248.9L406.5 248.7L406.7 248.6L406.9 248.5L407.1 248.4L407.3 248.4L407.5 248.4L407.7 248.4L407.9 248.4L408.2 248.5L408.4 248.6L408.6 248.7L408.8 248.8L409.0 248.9L409.2 248.8L409.4 248.6L409.6 248.3L409.8 248.2L410.0 248.1L410.2 248.0L410.5 248.0L410.7 248.0L410.9 248.0L411.1 248.0L411.3 248.1L411.5 248.1L411.7 248.1L411.9 248.1L412.1 248.0L412.3 247.9L412.5 247.7L412.7 247.5L413.0 247.4L413.2 247.3L413.4 247.1L413.6 246.9L413.8 246.6L414.0 246.2L414.2 245.9L414.4 245.5L414.6 245.2L414.8 244.9L415.0 244.5L415.3 243.9L415.5 243.1L415.7 242.1L415.9 240.9L416.1 239.2L416.3 237.3L416.5 234.9L416.7 232.2L416.9 228.9L417.1 225.0L417.3 220.0L417.5 214.0L417.8 207.0L418.0 199.4L418.2 192.1L418.4 186.0L418.6 182.1L418.8 181.1L419.0 183.0L419.2 187.1L419.4 192.3L419.6 197.7L419.8 202.9L420.1 207.8L420.3 212.5L420.5 217.0L420.7 221.3L420.9 225.2L421.1 228.7L421.3 231.8L421.5 234.4L421.7 236.8L421.9 238.8L422.1 240.6L422.3 242.1L422.6 243.2L422.8 244.0L423.0 244.5L423.2 245.0L423.4 245.4L423.6 245.8L423.8 246.2L424.0 246.6L424.2 246.9L424.4 247.1L424.6 247.4L424.8 247.6L425.1 247.8L425.3 247.9L425.5 248.1L425.7 248.1L425.9 248.2L426.1 248.1L426.3 248.0L426.5 247.9L426.7 247.8L426.9 247.8L427.1 247.8L427.4 247.9L427.6 248.2L427.8 248.5L428.0 248.8L428.2 249.0L428.4 249.1L428.6 249.1L428.8 249.0L429.0 248.9L429.2 248.7L429.4 248.6L429.6 248.5L429.9 248.5L430.1 248.5L430.3 248.4L430.5 248.4L430.7 248.4L430.9 248.4L431.1 248.4L431.3 248.4L431.5 248.4L431.7 248.4L431.9 248.4L432.2 248.4L432.4 248.4L432.6 248.4L432.8 248.4L433.0 248.3L433.2 248.2L433.4 248.2L433.6 248.2L433.8 248.3L434.0 248.3L434.2 248.3L434.4 248.3L434.7 248.3L434.9 248.4L435.1 248.5L435.3 248.6L435.5 248.7L435.7 248.6L435.9 248.6L436.1 248.5L436.3 248.5L436.5 248.4L436.7 248.4L437.0 248.5L437.2 248.5L437.4 248.5L437.6 248.5L437.8 248.4L438.0 248.3L438.2 248.2L438.4 248.1L438.6 248.1L438.8 248.1L439.0 248.1L439.2 248.1L439.5 248.2L439.7 248.1L439.9 248.1L440.1 248.0L440.3 248.0L440.5 248.0L440.7 248.1L440.9 248.1L441.1 248.1L441.3 248.1L441.5 248.0L441.7 248.0L442.0 248.1L442.2 248.1L442.4 248.2L442.6 248.2L442.8 248.2L443.0 248.2L443.2 248.2L443.4 248.2L443.6 248.2L443.8 248.1L444.0 248.0L444.3 247.8L444.5 247.4L444.7 246.9L444.9 246.3L445.1 245.8L445.3 245.3L445.5 244.9L445.7 244.2L445.9 243.3L446.1 242.2L446.3 240.9L446.5 239.5L446.8 238.1L447.0 237.0L447.2 236.4L447.4 236.3L447.6 236.8L447.8 237.7L448.0 238.8L448.2 239.8L448.4 240.8L448.6 241.7L448.8 242.4L449.1 243.1L449.3 243.6L449.5 244.1L449.7 244.6L449.9 245.2L450.1 245.8L450.3 246.3L450.5 246.8L450.7 247.1L450.9 247.3L451.1 247.4L451.3 247.6L451.6 247.7L451.8 247.8L452.0 248.0L452.2 248.0L452.4 248.1L452.6 248.1L452.8 248.1L453.0 248.1L453.2 248.2L453.4 248.2L453.6 248.3L453.9 248.3L454.1 248.4L454.3 248.6L454.5 248.8L454.7 248.9L454.9 249.0L455.1 248.9L455.3 248.8L455.5 248.8L455.7 248.7L455.9 248.7L456.1 248.7L456.4 248.7L456.6 248.7L456.8 248.8L457.0 248.9L457.2 248.9L457.4 249.0L457.6 249.0L457.8 248.9L458.0 248.9L458.2 248.9L458.4 248.8L458.6 248.6L458.9 248.4L459.1 248.3L459.3 248.3L459.5 248.3L459.7 248.4L459.9 248.5L460.1 248.6L460.3 248.6L460.5 248.7L460.7 248.7L460.9 248.7L461.2 248.6L461.4 248.6L461.6 248.6L461.8 248.6L462.0 248.6L462.2 248.6L462.4 248.6L462.6 248.7L462.8 248.8L463.0 248.9L463.2 249.0L463.4 249.1L463.7 249.1L463.9 249.0L464.1 248.9L464.3 248.8L464.5 248.7L464.7 248.7L464.9 248.8L465.1 248.9L465.3 249.1L465.5 249.2L465.7 249.2L466.0 249.1L466.2 249.1L466.4 249.0L466.6 248.9L466.8 248.8L467.0 248.7L467.2 248.6L467.4 248.5L467.6 248.5L467.8 248.5L468.0 248.4L468.2 248.5L468.5 248.6L468.7 248.7L468.9 248.8L469.1 248.9L469.3 248.9L469.5 249.0L469.7 249.0L469.9 249.1L470.1 249.0L470.3 249.0L470.5 248.8L470.8 248.7L471.0 248.6L471.2 248.5L471.4 248.4L471.6 248.3L471.8 248.3L472.0 248.3L472.2 248.3L472.4 248.4L472.6 248.4L472.8 248.4L473.0 248.4L473.3 248.4L473.5 248.4L473.7 248.4L473.9 248.4L474.1 248.5L474.3 248.5L474.5 248.4L474.7 248.5L474.9 248.5L475.1 248.6L475.3 248.7L475.5 248.8L475.8 248.9L476.0 248.9L476.2 248.8L476.4 248.7L476.6 248.6L476.8 248.5L477.0 248.5L477.2 248.4L477.4 248.4L477.6 248.4L477.8 248.4L478.1 248.4L478.3 248.5L478.5 248.5L478.7 248.6L478.9 248.6L479.1 248.6L479.3 248.6L479.5 248.7L479.7 248.7L479.9 248.8L480.1 248.8L480.3 248.7L480.6 248.6L480.8 248.5L481.0 248.3L481.2 248.2L481.4 248.2L481.6 248.3L481.8 248.4L482.0 248.5L482.2 248.6L482.4 248.6L482.6 248.5L482.9 248.5L483.1 248.5L483.3 248.5L483.5 248.4L483.7 248.4L483.9 248.3L484.1 248.3L484.3 248.3L484.5 248.3L484.7 248.3L484.9 248.2L485.1 248.2L485.4 248.1L485.6 248.1L485.8 248.0L486.0 247.9L486.2 247.8L486.4 247.7L486.6 247.7L486.8 247.9L487.0 248.0L487.2 248.2L487.4 248.3L487.7 248.3L487.9 248.4L488.1 248.5L488.3 248.6L488.5 248.7L488.7 248.8L488.9 248.8L489.1 248.7L489.3 248.7L489.5 248.8L489.7 248.9L489.9 248.9L490.2 249.0L490.4 249.0L490.6 249.0L490.8 249.1L491.0 249.1L491.2 249.2L491.4 249.2L491.6 249.1L491.8 249.0L492.0 248.9L492.2 248.8L492.4 248.7L492.7 248.6L492.9 248.6L493.1 248.5L493.3 248.5L493.5 248.4L493.7 248.4L493.9 248.4L494.1 248.4L494.3 248.4L494.5 248.4L494.7 248.4L495.0 248.4L495.2 248.3L495.4 248.3L495.6 248.4L495.8 248.5L496.0 248.7L496.2 248.8L496.4 248.8L496.6 248.7L496.8 248.5L497.0 248.3L497.2 248.2L497.5 248.1L497.7 248.1L497.9 248.1L498.1 248.0L498.3 247.8L498.5 247.6L498.7 247.5L498.9 247.5L499.1 247.5L499.3 247.6L499.5 247.8L499.8 247.9L500.0 248.0L500.2 248.0L500.4 248.0L500.6 248.0L500.8 247.9L501.0 247.7L501.2 247.5L501.4 247.4L501.6 247.3L501.8 247.3L502.0 247.5L502.3 247.7L502.5 247.9L502.7 248.2L502.9 248.4L503.1 248.4L503.3 248.4L503.5 248.3L503.7 248.1L503.9 247.9L504.1 247.7L504.3 247.4L504.5 247.1L504.8 246.8L505.0 246.5L505.2 246.2L505.4 245.9L505.6 245.7L505.8 245.5L506.0 245.2L506.2 244.9L506.4 244.6L506.6 244.2L506.8 243.9L507.1 243.8L507.3 243.7L507.5 243.8L507.7 243.9L507.9 244.1L508.1 244.3L508.3 244.5L508.5 244.7L508.7 245.0L508.9 245.4L509.1 245.7L509.3 246.0L509.6 246.3L509.8 246.5L510.0 246.7L510.2 246.9L510.4 247.0L510.6 247.2L510.8 247.3L511.0 247.3L511.2 247.4L511.4 247.4L511.6 247.5L511.9 247.6L512.1 247.6L512.3 247.7L512.5 247.7L512.7 247.7L512.9 247.7L513.1 247.8L513.3 247.9L513.5 247.9L513.7 247.9L513.9 247.9L514.1 247.9L514.4 247.9L514.6 247.9L514.8 247.9L515.0 248.0L515.2 248.1L515.4 248.2L515.6 248.4L515.8 248.5L516.0 248.6L516.2 248.6L516.4 248.5L516.7 248.4L516.9 248.3L517.1 248.2L517.3 248.1L517.5 248.1L517.7 248.2L517.9 248.3L518.1 248.3L518.3 248.4L518.5 248.4L518.7 248.4L518.9 248.4L519.2 248.3L519.4 248.3L519.6 248.4L519.8 248.5L520.0 248.6L520.2 248.7L520.4 248.8L520.6 248.7L520.8 248.7L521.0 248.6L521.2 248.5L521.4 248.4L521.7 248.5L521.9 248.6L522.1 248.7L522.3 248.7L522.5 248.7L522.7 248.6L522.9 248.5L523.1 248.4L523.3 248.4L523.5 248.5L523.7 248.6L524.0 248.6L524.2 248.6L524.4 248.5L524.6 248.4L524.8 248.3L525.0 248.3L525.2 248.3L525.4 248.4L525.6 248.6L525.8 248.7L526.0 248.6L526.2 248.5L526.5 248.4L526.7 248.3L526.9 248.4L527.1 248.4L527.3 248.5L527.5 248.5L527.7 248.6L527.9 248.7L528.1 248.8L528.3 248.9L528.5 249.0L528.8 249.1L529.0 249.2L529.2 249.2L529.4 249.2L529.6 249.2L529.8 249.1L530.0 249.1L530.2 249.1L530.4 249.1L530.6 249.1L530.8 249.0L531.0 248.9L531.3 248.8L531.5 248.7L531.7 248.6L531.9 248.5L532.1 248.5L532.3 248.6L532.5 248.7L532.7 248.7L532.9 248.7L533.1 248.7L533.3 248.6L533.6 248.5L533.8 248.4L534.0 248.3L534.2 248.1L534.4 248.0L534.6 248.0L534.8 248.0L535.0 248.1L535.2 248.2L535.4 248.3L535.6 248.5L535.8 248.6L536.1 248.6L536.3 248.6L536.5 248.7L536.7 248.7L536.9 248.8L537.1 248.7L537.3 248.6L537.5 248.5L537.7 248.3L537.9 248.2L538.1 248.3L538.3 248.3L538.6 248.5L538.8 248.6L539.0 248.7L539.2 248.7L539.4 248.8L539.6 248.7L539.8 248.7L540.0 248.6L540.2 248.6L540.4 248.5"/>
</g>
<path d="M39.7 8.6V370.6" stroke="#000" stroke-width="1.5" fill="none"/>
<path d="M39 370.1H541" stroke="#111" stroke-width="1.15" fill="none"/>
<g stroke="#000" stroke-width="1.2">
<path d="M39.7 370.0v5.5"/>
<path d="M60.6 370.0v3.2"/>
<path d="M81.4 370.0v3.2"/>
<path d="M102.3 370.0v3.2"/>
<path d="M123.2 370.0v3.2"/>
<path d="M144.0 370.0v5.5"/>
<path d="M164.9 370.0v3.2"/>
<path d="M185.7 370.0v3.2"/>
<path d="M206.6 370.0v3.2"/>
<path d="M227.5 370.0v3.2"/>
<path d="M248.3 370.0v5.5"/>
<path d="M269.2 370.0v3.2"/>
<path d="M290.1 370.0v3.2"/>
<path d="M310.9 370.0v3.2"/>
<path d="M331.8 370.0v3.2"/>
<path d="M352.7 370.0v5.5"/>
<path d="M373.5 370.0v3.2"/>
<path d="M394.4 370.0v3.2"/>
<path d="M415.3 370.0v3.2"/>
<path d="M436.1 370.0v3.2"/>
<path d="M457.0 370.0v5.5"/>
<path d="M477.8 370.0v3.2"/>
<path d="M498.7 370.0v3.2"/>
<path d="M519.6 370.0v3.2"/>
<path d="M540.4 370.0v3.2"/>
</g>
<g font-size="17.4" text-anchor="middle" letter-spacing="0.5" stroke="#000" stroke-width="0.25">
<text x="39.8" y="395.3">20</text>
<text x="144.1" y="395.3">30</text>
<text x="248.4" y="395.3">40</text>
<text x="352.8" y="395.3">50</text>
<text x="457.1" y="395.3">60</text>
</g>
<text x="290.4" y="427" font-size="21.3" text-anchor="middle" stroke="#000" stroke-width="0.25">2&#920; (&#176;)</text>
<text transform="translate(23.3 243.2) rotate(-90)" font-size="20.5" letter-spacing="0.42" stroke="#000" stroke-width="0.25">Intensity (a.u.)</text>
<rect x="139.7" y="8.3" width="200.7" height="144.5" fill="#fff" stroke="none"/>
<clipPath id="ic"><rect x="139.7" y="8.3" width="200.7" height="144.5"/></clipPath>
<g fill="none" stroke-width="1.5" stroke-linejoin="round" clip-path="url(#ic)">
<path stroke="#000000" d="M139.7 150.9L140.4 150.8L141.0 150.9L141.7 151.7L142.4 151.7L143.0 151.1L143.7 150.8L144.4 150.7L145.0 150.3L145.7 150.2L146.4 150.2L147.1 150.4L147.7 151.0L148.4 150.9L149.1 151.0L149.7 151.3L150.4 150.8L151.1 150.1L151.7 150.1L152.4 150.4L153.1 150.6L153.7 150.1L154.4 150.2L155.1 150.8L155.7 151.2L156.4 151.1L157.1 151.1L157.8 150.5L158.4 150.1L159.1 150.5L159.8 151.0L160.4 150.6L161.1 149.5L161.8 148.9L162.4 148.9L163.1 148.6L163.8 148.5L164.4 148.6L165.1 148.3L165.8 147.1L166.4 146.0L167.1 145.5L167.8 143.9L168.4 141.9L169.1 139.9L169.8 137.2L170.5 134.9L171.1 133.7L171.8 133.9L172.5 135.1L173.1 137.1L173.8 138.9L174.5 139.6L175.1 140.8L175.8 143.3L176.5 145.3L177.1 146.5L177.8 147.2L178.5 147.8L179.1 148.6L179.8 149.0L180.5 149.1L181.2 149.4L181.8 149.8L182.5 150.2L183.2 150.5L183.8 151.0L184.5 151.1L185.2 151.2L185.8 150.8L186.5 150.4L187.2 150.5L187.8 150.5L188.5 149.9L189.2 149.7L189.8 149.9L190.5 150.3L191.2 150.3L191.9 150.5L192.5 150.6L193.2 151.1L193.9 151.0L194.5 151.1L195.2 150.9L195.9 150.4L196.5 150.0L197.2 150.3L197.9 150.6L198.5 150.2L199.2 149.8L199.9 149.9L200.5 150.0L201.2 149.8L201.9 149.9L202.5 149.6L203.2 149.1L203.9 148.4L204.6 147.8L205.2 146.6L205.9 145.2L206.6 144.4L207.2 143.3L207.9 140.9L208.6 138.1L209.2 135.2L209.9 132.4L210.6 130.6L211.2 130.5L211.9 132.0L212.6 133.7L213.2 135.7L213.9 137.8L214.6 140.2L215.3 141.9L215.9 143.3L216.6 144.8L217.3 145.7L217.9 146.3L218.6 147.1L219.3 148.2L219.9 148.9L220.6 149.0L221.3 149.3L221.9 149.2L222.6 149.4L223.3 149.9L223.9 149.7L224.6 149.9L225.3 150.8L225.9 150.9L226.6 150.7L227.3 150.6L228.0 150.0L228.6 149.7L229.3 149.6L230.0 149.9L230.6 150.6L231.3 151.0L232.0 150.7L232.6 150.5L233.3 150.8L234.0 150.9L234.6 150.7L235.3 150.4L236.0 150.2L236.6 150.5L237.3 150.7L238.0 150.4L238.7 150.0L239.3 150.5L240.0 151.0L240.7 150.9L241.3 150.8L242.0 150.3L242.7 150.2L243.3 150.5L244.0 151.0L244.7 151.8L245.3 151.8L246.0 151.5L246.7 151.3L247.3 150.7L248.0 150.2L248.7 150.8L249.4 151.3L250.0 150.8L250.7 150.3L251.4 150.6L252.0 151.0L252.7 151.0L253.4 151.3L254.0 151.4L254.7 151.1L255.4 151.1L256.0 151.0L256.7 151.0L257.4 151.0L258.0 150.5L258.7 149.8L259.4 150.0L260.0 150.7L260.7 150.7L261.4 150.4L262.1 150.5L262.7 150.7L263.4 150.7L264.1 150.4L264.7 150.1L265.4 150.0L266.1 149.7L266.7 149.3L267.4 149.0L268.1 149.1L268.7 149.2L269.4 149.1L270.1 149.0L270.7 148.9L271.4 149.0L272.1 148.6L272.8 148.1L273.4 147.5L274.1 146.5L274.8 145.8L275.4 145.4L276.1 145.7L276.8 144.7L277.4 143.2L278.1 141.8L278.8 140.5L279.4 138.7L280.1 136.6L280.8 134.0L281.4 130.6L282.1 126.0L282.8 120.5L283.4 113.6L284.1 104.9L284.8 95.0L285.5 83.2L286.1 69.9L286.8 55.8L287.5 41.8L288.1 29.9L288.8 21.7L289.5 19.9L290.1 23.3L290.8 30.2L291.5 39.5L292.1 50.3L292.8 61.5L293.5 72.6L294.1 82.9L294.8 92.3L295.5 101.3L296.2 110.2L296.8 117.7L297.5 122.8L298.2 127.3L298.8 131.4L299.5 135.0L300.2 137.4L300.8 139.1L301.5 140.4L302.2 141.5L302.8 143.2L303.5 144.7L304.2 145.6L304.8 146.6L305.5 147.8L306.2 148.1L306.9 148.0L307.5 147.7L308.2 148.0L308.9 148.9L309.5 149.5L310.2 149.8L310.9 150.0L311.5 149.6L312.2 149.4L312.9 150.0L313.5 150.7L314.2 150.4L314.9 150.0L315.5 150.3L316.2 150.8L316.9 150.5L317.5 149.7L318.2 149.9L318.9 150.3L319.6 150.7L320.2 150.8L320.9 151.0L321.6 151.0L322.2 151.4L322.9 151.5L323.6 150.6L324.2 150.5L324.9 150.6L325.6 150.8L326.2 150.8L326.9 151.2L327.6 151.4L328.2 150.8L328.9 150.8L329.6 151.7L330.3 151.7L330.9 151.0L331.6 150.5L332.3 150.6L332.9 151.1L333.6 151.3L334.3 150.8L334.9 150.7L335.6 151.5L336.3 151.7L336.9 152.0L337.6 151.8L338.3 151.5L338.9 151.4L339.6 151.6L340.3 151.3"/>
<path stroke="#ff0000" d="M139.7 150.5L140.4 150.8L141.0 151.1L141.7 150.7L142.4 150.5L143.0 150.7L143.7 150.5L144.4 150.5L145.0 151.0L145.7 151.2L146.4 151.1L147.1 150.7L147.7 151.0L148.4 151.2L149.1 150.7L149.7 150.3L150.4 150.2L151.1 150.3L151.7 150.3L152.4 150.2L153.1 150.4L153.7 150.6L154.4 150.5L155.1 150.4L155.7 150.3L156.4 150.4L157.1 150.7L157.8 150.5L158.4 150.4L159.1 150.6L159.8 150.7L160.4 150.3L161.1 150.1L161.8 150.2L162.4 150.3L163.1 150.2L163.8 150.2L164.4 150.3L165.1 150.5L165.8 150.1L166.4 149.6L167.1 149.7L167.8 149.9L168.4 149.5L169.1 149.1L169.8 148.9L170.5 149.2L171.1 149.4L171.8 149.7L172.5 149.8L173.1 149.8L173.8 149.6L174.5 149.4L175.1 149.5L175.8 149.7L176.5 149.8L177.1 150.0L177.8 150.2L178.5 150.2L179.1 150.1L179.8 149.7L180.5 149.4L181.2 149.8L181.8 149.9L182.5 150.0L183.2 150.2L183.8 150.4L184.5 150.5L185.2 150.4L185.8 150.4L186.5 150.3L187.2 150.2L187.8 150.4L188.5 150.2L189.2 150.2L189.8 150.1L190.5 150.1L191.2 150.2L191.9 150.0L192.5 149.8L193.2 149.9L193.9 149.7L194.5 149.5L195.2 149.8L195.9 150.3L196.5 150.2L197.2 149.9L197.9 149.8L198.5 150.2L199.2 150.2L199.9 149.9L200.5 149.5L201.2 149.6L201.9 149.5L202.5 149.3L203.2 149.0L203.9 148.8L204.6 149.1L205.2 149.3L205.9 148.8L206.6 148.7L207.2 148.6L207.9 148.4L208.6 148.6L209.2 148.5L209.9 148.1L210.6 147.8L211.2 147.4L211.9 147.5L212.6 147.4L213.2 147.4L213.9 147.4L214.6 147.4L215.3 147.2L215.9 147.0L216.6 147.1L217.3 147.6L217.9 148.2L218.6 148.3L219.3 148.4L219.9 148.3L220.6 148.6L221.3 149.2L221.9 149.3L222.6 149.1L223.3 149.1L223.9 149.2L224.6 149.4L225.3 149.2L225.9 148.9L226.6 149.3L227.3 149.9L228.0 150.2L228.6 150.1L229.3 149.8L230.0 150.0L230.6 150.2L231.3 149.5L232.0 149.1L232.6 149.5L233.3 149.9L234.0 150.1L234.6 150.3L235.3 150.4L236.0 150.3L236.6 150.4L237.3 150.5L238.0 150.5L238.7 150.3L239.3 150.3L240.0 150.3L240.7 150.3L241.3 150.5L242.0 150.7L242.7 150.8L243.3 151.0L244.0 150.6L244.7 150.0L245.3 149.9L246.0 150.1L246.7 150.2L247.3 150.4L248.0 150.6L248.7 150.8L249.4 150.7L250.0 150.3L250.7 150.5L251.4 150.2L252.0 149.5L252.7 149.5L253.4 149.7L254.0 149.6L254.7 149.6L255.4 149.6L256.0 149.1L256.7 149.0L257.4 149.2L258.0 149.3L258.7 149.6L259.4 149.6L260.0 149.3L260.7 149.3L261.4 149.3L262.1 149.2L262.7 149.1L263.4 148.6L264.1 148.5L264.7 148.1L265.4 148.1L266.1 148.4L266.7 148.3L267.4 147.8L268.1 147.1L268.7 146.7L269.4 146.3L270.1 145.7L270.7 145.4L271.4 145.2L272.1 144.5L272.8 143.6L273.4 142.8L274.1 141.9L274.8 141.1L275.4 140.1L276.1 138.4L276.8 136.5L277.4 134.5L278.1 131.9L278.8 128.9L279.4 125.4L280.1 120.7L280.8 115.1L281.4 108.9L282.1 100.9L282.8 91.9L283.4 81.7L284.1 69.6L284.8 56.6L285.5 42.8L286.1 30.2L286.8 20.7L287.5 15.0L288.1 13.6L288.8 16.8L289.5 23.7L290.1 33.1L290.8 43.6L291.5 54.1L292.1 64.6L292.8 75.1L293.5 85.2L294.1 94.5L294.8 102.4L295.5 109.0L296.2 115.1L296.8 120.4L297.5 125.2L298.2 128.9L298.8 132.0L299.5 134.3L300.2 136.3L300.8 138.0L301.5 139.4L302.2 140.9L302.8 141.9L303.5 143.0L304.2 144.1L304.8 144.8L305.5 145.2L306.2 145.8L306.9 146.2L307.5 146.7L308.2 147.5L308.9 148.2L309.5 148.1L310.2 147.9L310.9 148.2L311.5 148.4L312.2 148.7L312.9 148.6L313.5 148.4L314.2 148.8L314.9 149.2L315.5 149.6L316.2 149.4L316.9 149.5L317.5 149.5L318.2 149.2L318.9 149.4L319.6 149.8L320.2 149.9L320.9 150.2L321.6 150.3L322.2 150.1L322.9 150.3L323.6 150.6L324.2 150.7L324.9 150.6L325.6 150.7L326.2 150.7L326.9 150.6L327.6 150.7L328.2 150.8L328.9 150.7L329.6 150.3L330.3 150.2L330.9 150.3L331.6 150.6L332.3 151.0L332.9 151.0L333.6 150.7L334.3 150.6L334.9 150.7L335.6 151.0L336.3 151.0L336.9 150.9L337.6 150.7L338.3 150.4L338.9 150.5L339.6 150.9L340.3 151.1"/>
<path stroke="#0000ff" d="M139.7 150.6L140.4 151.1L141.0 151.4L141.7 151.5L142.4 151.2L143.0 151.0L143.7 151.0L144.4 150.8L145.0 150.2L145.7 150.1L146.4 150.3L147.1 150.5L147.7 150.4L148.4 150.5L149.1 150.7L149.7 150.9L150.4 150.9L151.1 151.1L151.7 151.1L152.4 151.0L153.1 150.5L153.7 150.1L154.4 150.0L155.1 150.3L155.7 149.9L156.4 149.5L157.1 149.9L157.8 150.2L158.4 150.1L159.1 149.9L159.8 149.5L160.4 149.5L161.1 149.3L161.8 149.2L162.4 149.3L163.1 149.0L163.8 148.7L164.4 148.4L165.1 148.2L165.8 148.0L166.4 147.8L167.1 147.9L167.8 147.6L168.4 146.9L169.1 146.7L169.8 146.8L170.5 147.0L171.1 147.0L171.8 147.0L172.5 147.3L173.1 147.3L173.8 147.4L174.5 148.0L175.1 148.3L175.8 148.1L176.5 147.9L177.1 147.6L177.8 147.9L178.5 149.0L179.1 149.2L179.8 148.8L180.5 148.7L181.2 148.7L181.8 148.8L182.5 149.2L183.2 149.3L183.8 149.6L184.5 150.0L185.2 149.8L185.8 149.4L186.5 149.5L187.2 149.7L187.8 149.5L188.5 149.3L189.2 149.6L189.8 150.3L190.5 150.5L191.2 150.4L191.9 150.5L192.5 150.7L193.2 150.4L193.9 149.9L194.5 149.9L195.2 149.6L195.9 149.8L196.5 149.9L197.2 149.9L197.9 150.0L198.5 149.8L199.2 149.6L199.9 149.4L200.5 149.1L201.2 149.1L201.9 149.3L202.5 149.0L203.2 149.1L203.9 149.2L204.6 148.6L205.2 148.1L205.9 148.2L206.6 148.1L207.2 147.8L207.9 147.4L208.6 147.2L209.2 147.1L209.9 147.1L210.6 146.7L211.2 146.3L211.9 145.9L212.6 146.0L213.2 146.7L213.9 147.2L214.6 147.2L215.3 147.4L215.9 147.4L216.6 147.3L217.3 147.3L217.9 147.5L218.6 147.9L219.3 148.4L219.9 148.8L220.6 148.8L221.3 148.8L221.9 149.1L222.6 149.4L223.3 149.5L223.9 149.9L224.6 150.0L225.3 150.0L225.9 150.1L226.6 150.2L227.3 150.2L228.0 150.3L228.6 150.3L229.3 150.4L230.0 151.0L230.6 151.4L231.3 151.1L232.0 150.6L232.6 150.5L233.3 150.7L234.0 150.6L234.6 150.5L235.3 150.6L236.0 150.8L236.6 150.4L237.3 150.4L238.0 150.6L238.7 150.7L239.3 150.6L240.0 150.5L240.7 150.8L241.3 150.9L242.0 150.9L242.7 150.9L243.3 150.6L244.0 150.7L244.7 150.8L245.3 150.9L246.0 150.9L246.7 150.9L247.3 151.0L248.0 151.0L248.7 151.4L249.4 151.3L250.0 150.7L250.7 150.3L251.4 150.5L252.0 150.8L252.7 150.6L253.4 150.5L254.0 150.9L254.7 151.1L255.4 151.0L256.0 150.6L256.7 150.8L257.4 151.0L258.0 150.6L258.7 150.3L259.4 150.4L260.0 150.4L260.7 150.6L261.4 150.4L262.1 150.2L262.7 150.4L263.4 150.6L264.1 150.2L264.7 149.9L265.4 150.0L266.1 150.0L266.7 149.6L267.4 149.5L268.1 149.4L268.7 149.3L269.4 149.2L270.1 148.8L270.7 148.4L271.4 148.1L272.1 148.0L272.8 147.7L273.4 147.5L274.1 147.1L274.8 146.7L275.4 145.9L276.1 144.9L276.8 144.1L277.4 142.9L278.1 141.3L278.8 139.3L279.4 137.3L280.1 134.8L280.8 131.4L281.4 127.1L282.1 122.0L282.8 116.0L283.4 108.7L284.1 99.0L284.8 87.5L285.5 74.5L286.1 60.6L286.8 47.1L287.5 36.2L288.1 29.9L288.8 29.2L289.5 33.8L290.1 41.7L290.8 51.7L291.5 62.4L292.1 72.8L292.8 82.5L293.5 92.1L294.1 100.8L294.8 109.0L295.5 116.2L296.2 122.3L296.8 127.1L297.5 131.1L298.2 134.6L298.8 137.6L299.5 139.7L300.2 141.4L300.8 142.8L301.5 144.1L302.2 145.1L302.8 145.6L303.5 146.3L304.2 147.2L304.8 147.6L305.5 147.8L306.2 148.1L306.9 148.6L307.5 149.0L308.2 149.4L308.9 149.7L309.5 149.4L310.2 149.3L310.9 149.4L311.5 149.5L312.2 149.8L312.9 149.7L313.5 149.8L314.2 150.3L314.9 150.6L315.5 151.0L316.2 151.1L316.9 150.6L317.5 150.4L318.2 150.6L318.9 150.6L319.6 150.7L320.2 151.0L320.9 150.8L321.6 150.6L322.2 150.6L322.9 151.0L323.6 151.3L324.2 150.9L324.9 150.3L325.6 150.1L326.2 150.9L326.9 151.2L327.6 150.8L328.2 150.6L328.9 150.7L329.6 151.2L330.3 151.4L330.9 151.2L331.6 151.5L332.3 151.6L332.9 151.5L333.6 151.3L334.3 151.0L334.9 150.8L335.6 150.8L336.3 150.8L336.9 150.9L337.6 151.2L338.3 151.5L338.9 151.2L339.6 151.1L340.3 150.8"/>
<path stroke="#008000" d="M139.7 151.5L140.4 151.5L141.0 151.5L141.7 151.4L142.4 150.7L143.0 150.5L143.7 150.4L144.4 150.6L145.0 150.6L145.7 150.3L146.4 150.7L147.1 151.2L147.7 151.4L148.4 151.2L149.1 150.6L149.7 150.5L150.4 150.7L151.1 150.6L151.7 150.3L152.4 150.4L153.1 150.9L153.7 151.0L154.4 150.2L155.1 150.1L155.7 150.3L156.4 150.6L157.1 151.0L157.8 150.8L158.4 150.1L159.1 149.9L159.8 149.5L160.4 149.4L161.1 149.9L161.8 149.7L162.4 148.8L163.1 147.7L163.8 147.4L164.4 147.6L165.1 146.5L165.8 144.9L166.4 143.3L167.1 141.3L167.8 139.3L168.4 136.6L169.1 134.1L169.8 132.1L170.5 130.4L171.1 130.2L171.8 131.2L172.5 132.5L173.1 133.8L173.8 135.5L174.5 137.6L175.1 139.1L175.8 141.0L176.5 142.8L177.1 144.3L177.8 145.8L178.5 147.1L179.1 147.8L179.8 148.5L180.5 149.2L181.2 149.6L181.8 149.6L182.5 149.7L183.2 149.9L183.8 150.3L184.5 150.8L185.2 150.7L185.8 150.0L186.5 149.8L187.2 150.0L187.8 150.3L188.5 150.7L189.2 150.6L189.8 151.0L190.5 151.2L191.2 151.0L191.9 151.1L192.5 151.2L193.2 150.7L193.9 150.8L194.5 150.4L195.2 150.0L195.9 150.1L196.5 150.3L197.2 150.5L197.9 150.3L198.5 149.6L199.2 149.6L199.9 149.7L200.5 148.8L201.2 148.0L201.9 148.4L202.5 148.2L203.2 147.5L203.9 146.9L204.6 145.9L205.2 143.9L205.9 141.9L206.6 139.7L207.2 137.6L207.9 134.9L208.6 131.6L209.2 128.4L209.9 126.3L210.6 126.2L211.2 127.6L211.9 129.1L212.6 130.6L213.2 133.1L213.9 135.5L214.6 137.7L215.3 139.5L215.9 141.4L216.6 143.8L217.3 145.0L217.9 145.6L218.6 147.0L219.3 148.1L219.9 148.4L220.6 148.7L221.3 149.4L221.9 149.4L222.6 149.5L223.3 149.8L223.9 150.0L224.6 150.1L225.3 150.0L225.9 150.2L226.6 150.4L227.3 150.5L228.0 150.5L228.6 150.7L229.3 151.0L230.0 150.9L230.6 151.0L231.3 150.8L232.0 150.7L232.6 151.1L233.3 151.1L234.0 151.0L234.6 151.0L235.3 151.1L236.0 150.7L236.6 150.5L237.3 150.6L238.0 151.0L238.7 151.3L239.3 151.2L240.0 151.5L240.7 151.3L241.3 150.7L242.0 150.9L242.7 151.2L243.3 151.4L244.0 151.1L244.7 151.4L245.3 151.6L246.0 151.3L246.7 151.6L247.3 152.0L248.0 151.8L248.7 151.2L249.4 151.0L250.0 150.8L250.7 150.5L251.4 150.4L252.0 150.2L252.7 150.4L253.4 150.4L254.0 150.5L254.7 150.3L255.4 150.0L256.0 149.8L256.7 149.3L257.4 149.8L258.0 150.2L258.7 150.1L259.4 150.0L260.0 150.0L260.7 150.1L261.4 150.5L262.1 150.9L262.7 151.1L263.4 150.8L264.1 150.8L264.7 150.8L265.4 149.8L266.1 149.4L266.7 149.8L267.4 150.3L268.1 150.1L268.7 149.7L269.4 149.5L270.1 148.8L270.7 148.6L271.4 149.0L272.1 148.9L272.8 148.8L273.4 148.0L274.1 147.0L274.8 146.6L275.4 146.8L276.1 145.7L276.8 144.8L277.4 143.8L278.1 142.7L278.8 141.1L279.4 138.9L280.1 136.7L280.8 133.8L281.4 130.4L282.1 126.2L282.8 120.7L283.4 113.7L284.1 104.5L284.8 93.4L285.5 80.3L286.1 66.2L286.8 51.7L287.5 38.7L288.1 28.0L288.8 22.1L289.5 22.3L290.1 27.8L290.8 37.2L291.5 48.1L292.1 59.8L292.8 71.0L293.5 81.1L294.1 91.0L294.8 100.4L295.5 109.2L296.2 116.6L296.8 122.5L297.5 127.4L298.2 131.0L298.8 133.8L299.5 136.9L300.2 139.4L300.8 141.6L301.5 143.9L302.2 145.3L302.8 146.3L303.5 147.1L304.2 147.2L304.8 147.4L305.5 148.5L306.2 149.0L306.9 149.0L307.5 148.5L308.2 148.3L308.9 148.8L309.5 149.4L310.2 149.8L310.9 149.7L311.5 149.3L312.2 149.4L312.9 149.6L313.5 149.4L314.2 149.8L314.9 150.2L315.5 150.7L316.2 151.2L316.9 151.0L317.5 150.7L318.2 150.6L318.9 151.2L319.6 151.5L320.2 151.2L320.9 151.2L321.6 151.2L322.2 151.2L322.9 151.3L323.6 151.0L324.2 150.3L324.9 150.6L325.6 151.0L326.2 151.1L326.9 151.2L327.6 150.9L328.2 150.7L328.9 151.1L329.6 151.3L330.3 151.2L330.9 151.5L331.6 151.1L332.3 151.4L332.9 152.0L333.6 151.7L334.3 151.8L334.9 152.0L335.6 151.9L336.3 151.4L336.9 151.3L337.6 151.8L338.3 151.8L338.9 151.7L339.6 151.5L340.3 151.1"/>
<path stroke="#8000ff" d="M139.7 150.2L140.4 150.0L141.0 150.6L141.7 150.7L142.4 150.4L143.0 150.8L143.7 151.3L144.4 151.7L145.0 151.3L145.7 149.9L146.4 150.0L147.1 150.2L147.7 150.1L148.4 150.1L149.1 149.9L149.7 149.7L150.4 149.8L151.1 149.2L151.7 149.2L152.4 149.5L153.1 149.3L153.7 148.3L154.4 147.8L155.1 148.3L155.7 148.4L156.4 148.5L157.1 148.5L157.8 147.7L158.4 146.5L159.1 145.5L159.8 146.0L160.4 146.4L161.1 146.1L161.8 144.8L162.4 142.4L163.1 140.1L163.8 138.0L164.4 136.3L165.1 134.8L165.8 132.3L166.4 129.6L167.1 128.3L167.8 126.5L168.4 123.5L169.1 121.7L169.8 122.0L170.5 122.5L171.1 123.4L171.8 124.3L172.5 125.4L173.1 127.4L173.8 129.8L174.5 132.9L175.1 135.4L175.8 136.9L176.5 138.8L177.1 140.4L177.8 141.6L178.5 143.6L179.1 145.1L179.8 144.8L180.5 145.0L181.2 145.4L181.8 146.2L182.5 147.5L183.2 147.7L183.8 147.9L184.5 148.2L185.2 148.4L185.8 148.3L186.5 148.2L187.2 148.5L187.8 148.0L188.5 147.3L189.2 147.7L189.8 147.7L190.5 148.2L191.2 148.8L191.9 148.8L192.5 148.0L193.2 148.1L193.9 148.3L194.5 147.7L195.2 147.6L195.9 147.7L196.5 148.2L197.2 148.0L197.9 146.9L198.5 145.8L199.2 145.0L199.9 144.6L200.5 144.0L201.2 142.6L201.9 141.8L202.5 141.1L203.2 139.8L203.9 137.2L204.6 134.2L205.2 131.8L205.9 129.6L206.6 126.3L207.2 123.6L207.9 121.8L208.6 119.3L209.2 117.3L209.9 116.6L210.6 117.6L211.2 119.4L211.9 120.5L212.6 121.6L213.2 124.7L213.9 128.3L214.6 131.3L215.3 134.1L215.9 136.0L216.6 137.3L217.3 139.6L217.9 141.4L218.6 142.3L219.3 143.0L219.9 144.0L220.6 144.8L221.3 144.5L221.9 144.7L222.6 146.0L223.3 147.5L223.9 148.3L224.6 149.4L225.3 150.1L225.9 149.7L226.6 149.2L227.3 148.9L228.0 149.5L228.6 150.3L229.3 150.1L230.0 149.7L230.6 149.3L231.3 149.0L232.0 149.0L232.6 149.0L233.3 149.3L234.0 149.7L234.6 149.5L235.3 149.9L236.0 150.8L236.6 150.3L237.3 150.0L238.0 150.5L238.7 150.4L239.3 150.5L240.0 150.1L240.7 151.0L241.3 151.1L242.0 150.9L242.7 150.8L243.3 150.2L244.0 149.8L244.7 149.6L245.3 149.8L246.0 150.8L246.7 151.1L247.3 150.9L248.0 151.1L248.7 151.5L249.4 150.6L250.0 149.9L250.7 149.9L251.4 150.2L252.0 151.0L252.7 151.5L253.4 151.6L254.0 151.9L254.7 151.7L255.4 151.2L256.0 150.8L256.7 150.6L257.4 149.9L258.0 150.3L258.7 150.5L259.4 150.6L260.0 151.2L260.7 151.1L261.4 151.5L262.1 151.4L262.7 151.0L263.4 150.7L264.1 149.9L264.7 149.2L265.4 149.3L266.1 149.5L266.7 150.0L267.4 150.3L268.1 150.0L268.7 149.9L269.4 149.3L270.1 148.2L270.7 147.5L271.4 147.4L272.1 148.1L272.8 147.6L273.4 147.0L274.1 146.9L274.8 146.6L275.4 145.3L276.1 143.6L276.8 142.7L277.4 141.5L278.1 139.3L278.8 137.4L279.4 134.8L280.1 130.6L280.8 126.0L281.4 121.5L282.1 115.5L282.8 107.5L283.4 97.4L284.1 84.9L284.8 70.1L285.5 55.1L286.1 42.4L286.8 32.3L287.5 26.8L288.1 27.6L288.8 34.1L289.5 44.0L290.1 54.9L290.8 64.9L291.5 74.9L292.1 84.9L292.8 94.5L293.5 103.7L294.1 112.3L294.8 119.7L295.5 124.6L296.2 129.3L296.8 132.8L297.5 135.2L298.2 138.1L298.8 140.4L299.5 142.1L300.2 143.4L300.8 145.0L301.5 146.6L302.2 147.3L302.8 148.0L303.5 147.9L304.2 147.7L304.8 148.0L305.5 149.0L306.2 149.8L306.9 149.6L307.5 149.7L308.2 150.1L308.9 150.6L309.5 150.6L310.2 150.0L310.9 150.0L311.5 149.8L312.2 149.1L312.9 149.1L313.5 149.8L314.2 150.0L314.9 150.8L315.5 151.3L316.2 150.8L316.9 150.4L317.5 150.2L318.2 150.0L318.9 150.7L319.6 150.7L320.2 150.3L320.9 150.4L321.6 151.0L322.2 151.5L322.9 151.4L323.6 151.4L324.2 151.7L324.9 151.3L325.6 151.6L326.2 152.0L326.9 151.4L327.6 151.3L328.2 151.9L328.9 151.9L329.6 151.9L330.3 152.0L330.9 152.0L331.6 151.6L332.3 151.1L332.9 151.2L333.6 150.8L334.3 150.6L334.9 150.3L335.6 150.7L336.3 151.3L336.9 151.2L337.6 151.3L338.3 152.0L338.9 152.0L339.6 151.4L340.3 151.4"/>
</g>
<rect x="139.7" y="8.3" width="200.7" height="144.5" fill="none" stroke="#4a4a4a" stroke-width="0.95"/>
<g stroke="#444" stroke-width="0.75">
<path d="M139.7 152.8v3.4"/>
<path d="M146.4 152.8v1.9"/>
<path d="M153.1 152.8v1.9"/>
<path d="M159.8 152.8v1.9"/>
<path d="M166.4 152.8v1.9"/>
<path d="M173.1 152.8v3.4"/>
<path d="M179.8 152.8v1.9"/>
<path d="M186.5 152.8v1.9"/>
<path d="M193.2 152.8v1.9"/>
<path d="M199.9 152.8v1.9"/>
<path d="M206.6 152.8v3.4"/>
<path d="M213.2 152.8v1.9"/>
<path d="M219.9 152.8v1.9"/>
<path d="M226.6 152.8v1.9"/>
<path d="M233.3 152.8v1.9"/>
<path d="M240.0 152.8v3.4"/>
<path d="M246.7 152.8v1.9"/>
<path d="M253.4 152.8v1.9"/>
<path d="M260.0 152.8v1.9"/>
<path d="M266.7 152.8v1.9"/>
<path d="M273.4 152.8v3.4"/>
<path d="M280.1 152.8v1.9"/>
<path d="M286.8 152.8v1.9"/>
<path d="M293.5 152.8v1.9"/>
<path d="M300.2 152.8v1.9"/>
<path d="M306.9 152.8v3.4"/>
<path d="M313.5 152.8v1.9"/>
<path d="M320.2 152.8v1.9"/>
<path d="M326.9 152.8v1.9"/>
<path d="M333.6 152.8v1.9"/>
<path d="M340.3 152.8v3.4"/>
</g>
<g font-size="9.6" text-anchor="middle" stroke="#000" stroke-width="0.2">
<text x="139.9" y="164.4">43</text>
<text x="173.3" y="164.4">44</text>
<text x="206.8" y="164.4">45</text>
<text x="240.2" y="164.4">46</text>
<text x="273.6" y="164.4">47</text>
<text x="307.1" y="164.4">48</text>
<text x="340.5" y="164.4">49</text>
</g>
<text x="240.2" y="183.7" font-size="12.1" text-anchor="middle" stroke="#000" stroke-width="0.15">2&#920; (degrees)</text>
<g font-size="12.2" stroke="#000" stroke-width="0.15">
<text transform="translate(170.6 118.6) rotate(-90)">(300) CeF<tspan font-size="8.6" dy="3.1">3</tspan></text>
<text transform="translate(211.6 111.7) rotate(-90)">(113) CeF<tspan font-size="8.6" dy="3.1">3</tspan></text>
<text transform="translate(275.2 88.0) rotate(-90)">(220) CeO<tspan font-size="8.6" dy="3.1">2</tspan></text>
</g>
<ellipse cx="311.8" cy="279.2" rx="36.7" ry="115.3" fill="none" stroke="#000" stroke-width="1.8"/>
<path d="M267 292.5L236.4 209" stroke="#000" stroke-width="1.5" fill="none"/>
<path d="M233.9 202L239.5 209.3L234.6 210.9Z" fill="#000" stroke="#000" stroke-width="0.4" stroke-linejoin="miter"/>
<path d="M114.2 157.0L119.1 152.1L124.0 157.0L119.1 161.9Z" fill="#000"/>
<path d="M170.1 194.6L175.0 189.7L179.9 194.6L175.0 199.5Z" fill="#000"/>
<path d="M312.6 188.8L317.5 183.9L322.4 188.8L317.5 193.7Z" fill="#000"/>
<path d="M413.6 170.9L418.5 166.0L423.4 170.9L418.5 175.8Z" fill="#000"/>
<path d="M442.8 224.6L447.7 219.7L452.6 224.6L447.7 229.5Z" fill="#000"/>
<circle cx="84.0" cy="221.5" r="4.3" fill="#fff" stroke="#222" stroke-width="0.55"/><circle cx="84.0" cy="221.5" r="1.3" fill="#000"/>
<circle cx="91.0" cy="228.8" r="4.3" fill="#fff" stroke="#222" stroke-width="0.55"/><circle cx="91.0" cy="228.8" r="1.3" fill="#000"/>
<circle cx="120.1" cy="190.3" r="4.3" fill="#fff" stroke="#222" stroke-width="0.55"/><circle cx="120.1" cy="190.3" r="1.3" fill="#000"/>
<circle cx="197.0" cy="237.0" r="4.3" fill="#fff" stroke="#222" stroke-width="0.55"/><circle cx="197.0" cy="237.0" r="1.3" fill="#000"/>
<circle cx="289.1" cy="219.1" r="4.3" fill="#fff" stroke="#222" stroke-width="0.55"/><circle cx="289.1" cy="219.1" r="1.3" fill="#000"/>
<circle cx="301.7" cy="217.0" r="4.3" fill="#fff" stroke="#222" stroke-width="0.55"/><circle cx="301.7" cy="217.0" r="1.3" fill="#000"/>
<circle cx="362.2" cy="226.9" r="4.3" fill="#fff" stroke="#222" stroke-width="0.55"/><circle cx="362.2" cy="226.9" r="1.3" fill="#000"/>
<circle cx="382.1" cy="231.7" r="4.3" fill="#fff" stroke="#222" stroke-width="0.55"/><circle cx="382.1" cy="231.7" r="1.3" fill="#000"/>
<circle cx="507.3" cy="234.4" r="4.3" fill="#fff" stroke="#222" stroke-width="0.55"/><circle cx="507.3" cy="234.4" r="1.3" fill="#000"/>
<rect x="398.3" y="28.3" width="127.5" height="105.7" fill="#fff" stroke="#777" stroke-width="1"/>
<path d="M400.2 39.9H438.8" stroke="#ff0000" stroke-width="1.6"/>
<text x="443.5" y="46.0" font-size="16" letter-spacing="0.3" stroke="#000" stroke-width="0.2">7</text>
<text x="523.0" y="46.0" font-size="16" letter-spacing="0.3" stroke="#000" stroke-width="0.2" text-anchor="end">800&#176;C</text>
<path d="M400.2 60.6H438.8" stroke="#0000ff" stroke-width="1.6"/>
<text x="443.5" y="66.6" font-size="16" letter-spacing="0.3" stroke="#000" stroke-width="0.2">8</text>
<text x="523.0" y="66.6" font-size="16" letter-spacing="0.3" stroke="#000" stroke-width="0.2" text-anchor="end">900&#176;C</text>
<path d="M400.2 81.3H438.8" stroke="#000000" stroke-width="1.6"/>
<text x="443.5" y="87.2" font-size="16" letter-spacing="0.3" stroke="#000" stroke-width="0.2">9</text>
<text x="523.0" y="87.2" font-size="16" letter-spacing="0.3" stroke="#000" stroke-width="0.2" text-anchor="end">1000&#176;C</text>
<path d="M400.2 102.1H438.8" stroke="#008000" stroke-width="1.6"/>
<text x="443.5" y="107.8" font-size="16" letter-spacing="0.3" stroke="#000" stroke-width="0.2">10</text>
<text x="523.0" y="107.8" font-size="16" letter-spacing="0.3" stroke="#000" stroke-width="0.2" text-anchor="end">1100&#176;C</text>
<path d="M400.2 122.8H438.8" stroke="#8000ff" stroke-width="1.6"/>
<text x="443.5" y="128.4" font-size="16" letter-spacing="0.3" stroke="#000" stroke-width="0.2">11</text>
<text x="523.0" y="128.4" font-size="16" letter-spacing="0.3" stroke="#000" stroke-width="0.2" text-anchor="end">1200&#176;C</text>
</svg></body></html>
